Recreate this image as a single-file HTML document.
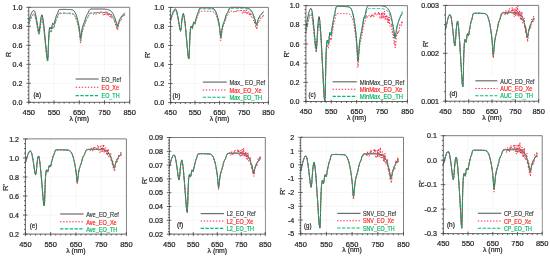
<!DOCTYPE html>
<html><head><meta charset="utf-8"><style>
html,body{margin:0;padding:0;background:#fff;}
body{width:550px;height:258px;overflow:hidden;}
svg{display:block;}
text{font-family:"Liberation Sans", Arial, sans-serif;}
</style></head><body>
<svg width="550" height="258" viewBox="0 0 550 258">
<rect width="550" height="258" fill="#fff"/>
<path d="M54.02 7.30V102.30M79.25 7.30V102.30M104.47 7.30V102.30M28.80 83.30H129.70M28.80 64.30H129.70M28.80 45.30H129.70M28.80 26.30H129.70" stroke="#f0f0f0" stroke-width="0.6" fill="none"/>
<polyline points="28.8,20.7 29.1,20.0 29.3,19.3 29.6,18.6 29.8,17.9 30.1,17.1 30.3,16.3 30.6,15.6 30.8,14.9 31.1,14.2 31.3,13.6 31.6,13.1 31.8,12.5 32.1,12.1 32.3,11.6 32.6,11.3 32.8,11.0 33.1,10.8 33.3,10.6 33.6,10.6 33.8,10.5 34.1,10.6 34.3,10.9 34.6,11.3 34.9,11.9 35.1,12.7 35.4,13.6 35.6,14.6 35.9,15.8 36.1,17.1 36.4,18.4 36.6,19.8 36.9,21.2 37.1,22.7 37.4,24.2 37.6,25.7 37.9,27.3 38.1,28.8 38.4,30.0 38.6,31.0 38.9,31.7 39.1,31.6 39.4,30.4 39.6,28.8 39.9,26.6 40.2,24.0 40.4,21.7 40.7,19.8 40.9,18.1 41.2,16.9 41.4,15.9 41.7,15.1 41.9,14.8 42.2,15.3 42.4,16.1 42.7,17.2 42.9,18.6 43.2,20.1 43.4,21.9 43.7,24.0 43.9,26.2 44.2,28.6 44.4,31.2 44.7,33.8 44.9,36.4 45.2,39.0 45.4,41.6 45.7,44.3 46.0,47.2 46.2,50.0 46.5,52.6 46.7,54.9 47.0,57.0 47.2,58.3 47.5,59.3 47.7,59.5 48.0,56.1 48.2,50.6 48.5,42.9 48.7,37.2 49.0,33.1 49.2,30.3 49.5,28.8 49.7,27.7 50.0,27.2 50.2,27.5 50.5,28.1 50.7,28.7 51.0,29.2 51.3,29.1 51.5,28.2 51.8,26.9 52.0,25.7 52.3,24.7 52.5,23.6 52.8,23.2 53.0,23.4 53.3,23.9 53.5,24.5 53.8,24.7 54.0,24.3 54.3,23.4 54.5,22.2 54.8,21.2 55.0,20.3 55.3,19.4 55.5,18.5 55.8,17.6 56.0,16.8 56.3,16.0 56.5,15.2 56.8,14.6 57.1,14.1 57.3,13.8 57.6,13.3 57.8,12.6 58.1,11.7 58.3,10.9 58.6,10.3 58.8,9.9 59.1,9.7 59.3,9.6 59.6,9.5 59.8,9.5 60.1,9.5 60.3,9.5 60.6,9.5 60.8,9.5 61.1,9.5 61.3,9.4 61.6,9.4 61.8,9.4 62.1,9.4 62.3,9.4 62.6,9.4 62.9,9.4 63.1,9.4 63.4,9.4 63.6,9.4 63.9,9.4 64.1,9.4 64.4,9.4 64.6,9.4 64.9,9.4 65.1,9.4 65.4,9.4 65.6,9.4 65.9,9.4 66.1,9.5 66.4,9.5 66.6,9.5 66.9,9.5 67.1,9.5 67.4,9.5 67.6,9.5 67.9,9.5 68.2,9.5 68.4,9.5 68.7,9.5 68.9,9.5 69.2,9.5 69.4,9.6 69.7,9.6 69.9,9.6 70.2,9.6 70.4,9.6 70.7,9.6 70.9,9.6 71.2,9.6 71.4,9.7 71.7,9.7 71.9,9.8 72.2,9.9 72.4,9.9 72.7,10.0 72.9,10.1 73.2,10.3 73.4,10.5 73.7,10.7 74.0,10.9 74.2,11.2 74.5,11.5 74.7,11.9 75.0,12.4 75.2,12.8 75.5,13.3 75.7,13.9 76.0,14.5 76.2,15.1 76.5,15.8 76.7,16.6 77.0,17.4 77.2,18.3 77.5,19.3 77.7,20.2 78.0,21.3 78.2,22.5 78.5,23.7 78.7,25.0 79.0,26.4 79.2,27.9 79.5,29.9 79.8,32.2 80.0,34.3 80.3,36.5 80.5,38.2 80.8,38.0 81.0,36.3 81.3,34.3 81.5,32.7 81.8,31.0 82.0,29.4 82.3,28.2 82.5,27.2 82.8,26.3 83.0,25.5 83.3,24.7 83.5,24.1 83.8,23.4 84.0,22.8 84.3,22.1 84.5,21.4 84.8,20.7 85.1,19.9 85.3,19.1 85.6,18.3 85.8,17.5 86.1,16.7 86.3,16.0 86.6,15.4 86.8,15.0 87.1,14.7 87.3,14.3 87.6,14.0 87.8,13.6 88.1,13.1 88.3,12.4 88.6,11.7 88.8,11.0 89.1,10.5 89.3,10.2 89.6,9.8 89.8,9.6 90.1,9.5 90.3,9.4 90.6,9.3 90.9,9.2 91.1,9.1 91.4,9.1 91.6,9.0 91.9,9.0 92.1,9.0 92.4,9.0 92.6,9.0 92.9,9.0 93.1,9.0 93.4,9.0 93.6,9.0 93.9,9.0 94.1,9.0 94.4,9.0 94.6,9.0 94.9,9.0 95.1,9.0 95.4,9.0 95.6,9.0 95.9,9.0 96.2,9.0 96.4,9.0 96.7,9.0 96.9,9.0 97.2,9.0 97.4,9.0 97.7,9.0 97.9,9.0 98.2,9.0 98.4,9.0 98.7,9.0 98.9,9.0 99.2,9.0 99.4,9.0 99.7,9.0 99.9,9.0 100.2,9.0 100.4,9.0 100.7,9.0 100.9,9.0 101.2,9.0 101.4,9.0 101.7,9.0 102.0,9.0 102.2,9.0 102.5,9.0 102.7,9.0 103.0,9.0 103.2,9.0 103.5,9.1 103.7,9.1 104.0,9.1 104.2,9.1 104.5,9.1 104.7,9.1 105.0,9.2 105.2,9.2 105.5,9.2 105.7,9.3 106.0,9.3 106.2,9.3 106.5,9.4 106.7,9.4 107.0,9.4 107.2,9.5 107.5,9.5 107.8,9.6 108.0,9.6 108.3,9.7 108.5,9.8 108.8,9.9 109.0,10.0 109.3,10.1 109.5,10.2 109.8,10.4 110.0,10.5 110.3,10.6 110.5,10.8 110.8,11.0 111.0,11.2 111.3,11.4 111.5,11.6 111.8,11.9 112.0,12.2 112.3,12.6 112.5,12.9 112.8,13.3 113.1,13.8 113.3,14.3 113.6,14.8 113.8,15.4 114.1,16.0 114.3,16.6 114.6,17.3 114.8,17.9 115.1,18.6 115.3,19.3 115.6,20.0 115.8,20.7 116.1,21.6 116.3,22.6 116.6,23.4 116.8,24.4 117.1,25.3 117.3,25.9 117.6,25.9 117.8,25.2 118.1,24.3 118.3,23.3 118.6,22.6 118.9,21.8 119.1,21.0 119.4,20.3 119.6,19.6 119.9,19.1 120.1,18.6 120.4,18.2 120.6,17.7 120.9,17.3 121.1,17.0 121.4,16.6 121.6,16.3 121.9,16.0 122.1,15.7 122.4,15.4 122.6,15.1 122.9,14.8 123.1,14.6 123.4,14.3 123.6,14.0 123.9,13.7 124.2,13.5 124.4,13.2 124.7,12.9" fill="none" stroke="#262626" stroke-width="0.85"/>
<polyline points="28.8,24.3 29.1,23.7 29.3,23.1 29.6,22.4 29.8,21.7 30.1,20.9 30.3,20.2 30.6,19.5 30.8,18.8 31.1,18.2 31.3,17.6 31.6,17.1 31.8,16.6 32.1,16.1 32.3,15.7 32.6,15.4 32.8,15.1 33.1,14.9 33.3,14.8 33.6,14.7 33.8,14.7 34.1,14.7 34.3,15.0 34.6,15.4 34.9,15.9 35.1,16.7 35.4,17.6 35.6,18.6 35.9,19.7 36.1,20.9 36.4,22.2 36.6,23.5 36.9,24.8 37.1,26.2 37.4,27.7 37.6,29.2 37.9,30.7 38.1,32.1 38.4,33.3 38.6,34.2 38.9,34.9 39.1,34.8 39.4,33.6 39.6,32.1 39.9,30.0 40.2,27.5 40.4,25.3 40.7,23.5 40.9,21.9 41.2,20.7 41.4,19.8 41.7,19.1 41.9,18.8 42.2,19.2 42.4,20.0 42.7,21.0 42.9,22.3 43.2,23.8 43.4,25.6 43.7,27.5 43.9,29.6 44.2,31.9 44.4,34.4 44.7,36.9 44.9,39.4 45.2,41.8 45.4,44.3 45.7,46.9 46.0,49.7 46.2,52.4 46.5,54.8 46.7,57.0 47.0,59.0 47.2,60.3 47.5,61.3 47.7,61.4 48.0,58.2 48.2,52.9 48.5,45.6 48.7,40.1 49.0,36.2 49.2,33.5 49.5,32.1 49.7,31.0 50.0,30.6 50.2,30.9 50.5,31.4 50.7,32.0 51.0,32.5 51.3,32.4 51.5,31.5 51.8,30.3 52.0,29.2 52.3,28.1 52.5,27.2 52.8,26.7 53.0,27.0 53.3,27.5 53.5,28.0 53.8,28.2 54.0,27.8 54.3,26.9 54.5,25.8 54.8,24.8 55.0,24.0 55.3,23.1 55.5,22.2 55.8,21.4 56.0,20.6 56.3,19.8 56.5,19.1 56.8,18.5 57.1,18.1 57.3,17.8 57.6,17.3 57.8,16.6 58.1,15.7 58.3,15.1 58.6,14.4 58.8,14.0 59.1,13.9 59.3,13.7 59.6,13.7 59.8,13.7 60.1,13.7 60.3,13.7 60.6,13.6 60.8,13.6 61.1,13.6 61.3,13.6 61.6,13.6 61.8,13.6 62.1,13.6 62.3,13.6 62.6,13.6 62.9,13.6 63.1,13.6 63.4,13.6 63.6,13.6 63.9,13.6 64.1,13.6 64.4,13.6 64.6,13.6 64.9,13.6 65.1,13.6 65.4,13.6 65.6,13.6 65.9,13.6 66.1,13.6 66.4,13.6 66.6,13.7 66.9,13.7 67.1,13.7 67.4,13.7 67.6,13.7 67.9,13.7 68.2,13.7 68.4,13.7 68.7,13.7 68.9,13.7 69.2,13.7 69.4,13.7 69.7,13.7 69.9,13.7 70.2,13.8 70.4,13.8 70.7,13.8 70.9,13.8 71.2,13.8 71.4,13.8 71.7,13.9 71.9,13.9 72.2,14.0 72.4,14.1 72.7,14.2 72.9,14.3 73.2,14.4 73.4,14.6 73.7,14.8 74.0,15.0 74.2,15.3 74.5,15.6 74.7,16.0 75.0,16.4 75.2,16.8 75.5,17.3 75.7,17.8 76.0,18.4 76.2,19.1 76.5,19.7 76.7,20.5 77.0,21.2 77.2,22.1 77.5,23.0 77.7,23.9 78.0,25.0 78.2,26.1 78.5,27.2 78.7,28.5 79.0,29.8 79.2,31.3 79.5,33.1 79.8,35.5 80.0,37.9 80.3,40.7 80.5,43.0 80.8,42.8 81.0,40.5 81.3,37.9 81.5,36.0 81.8,34.2 82.0,32.7 82.3,31.5 82.5,30.5 82.8,29.7 83.0,28.9 83.3,28.2 83.5,27.6 83.8,27.0 84.0,26.4 84.3,25.8 84.5,25.1 84.8,24.3 85.1,23.6 85.3,22.9 85.6,22.1 85.8,21.3 86.1,20.5 86.3,19.9 86.6,19.4 86.8,19.0 87.1,18.6 87.3,18.3 87.6,18.0 87.8,17.6 88.1,17.1 88.3,16.5 88.6,15.8 88.8,15.1 89.1,14.7 89.3,14.7 89.8,14.4 90.3,13.8 90.9,13.2 91.4,13.4 91.9,13.2 92.4,13.2 92.9,13.3 93.4,14.4 93.9,14.0 94.4,12.6 94.9,13.7 95.4,13.1 95.9,14.3 96.4,13.9 96.9,12.4 97.4,13.0 97.9,11.9 98.4,12.8 98.9,13.2 99.4,13.4 99.9,13.3 100.4,12.5 100.9,11.6 101.4,13.0 102.0,11.9 102.5,14.7 103.0,15.0 103.5,15.0 104.0,12.1 104.5,14.8 105.0,12.7 105.5,11.7 106.0,14.8 106.5,14.0 107.0,11.3 107.5,15.3 108.0,13.7 108.5,15.4 109.0,13.1 109.5,14.1 110.0,16.9 110.5,14.3 111.0,17.3 111.5,14.3 112.0,18.2 112.5,19.1 113.1,18.9 113.6,19.1 114.1,18.4 114.6,22.8 115.1,21.8 115.6,25.3 116.1,23.8 116.6,28.3 117.1,27.2 117.6,30.3 118.1,28.6 118.6,24.9 119.1,22.8 119.6,22.4 120.1,20.2 120.6,20.8 121.1,20.1 121.6,18.5 122.1,16.2 122.6,16.6 123.1,16.6 123.6,16.5 124.2,14.1 124.7,15.6" fill="none" stroke="#ff2448" stroke-width="1.0" stroke-dasharray="1.5 1.5"/>
<polyline points="28.8,23.8 29.1,23.1 29.3,22.5 29.6,21.8 29.8,21.1 30.1,20.3 30.3,19.6 30.6,18.9 30.8,18.2 31.1,17.6 31.3,17.0 31.6,16.5 31.8,16.0 32.1,15.5 32.3,15.1 32.6,14.7 32.8,14.5 33.1,14.2 33.3,14.1 33.6,14.1 33.8,14.0 34.1,14.1 34.3,14.3 34.6,14.7 34.9,15.3 35.1,16.1 35.4,16.9 35.6,17.9 35.9,19.1 36.1,20.3 36.4,21.6 36.6,22.9 36.9,24.2 37.1,25.7 37.4,27.2 37.6,28.6 37.9,30.1 38.1,31.6 38.4,32.8 38.6,33.7 38.9,34.4 39.1,34.3 39.4,33.1 39.6,31.6 39.9,29.5 40.2,27.0 40.4,24.7 40.7,22.9 40.9,21.3 41.2,20.1 41.4,19.2 41.7,18.5 41.9,18.2 42.2,18.6 42.4,19.4 42.7,20.4 42.9,21.7 43.2,23.3 43.4,25.0 43.7,27.0 43.9,29.1 44.2,31.4 44.4,33.9 44.7,36.4 44.9,38.9 45.2,41.4 45.4,43.9 45.7,46.5 46.0,49.3 46.2,52.0 46.5,54.4 46.7,56.7 47.0,58.7 47.2,60.0 47.5,60.9 47.7,61.1 48.0,57.8 48.2,52.5 48.5,45.2 48.7,39.7 49.0,35.7 49.2,33.0 49.5,31.6 49.7,30.5 50.0,30.1 50.2,30.3 50.5,30.9 50.7,31.5 51.0,32.0 51.3,31.9 51.5,31.0 51.8,29.8 52.0,28.6 52.3,27.6 52.5,26.6 52.8,26.2 53.0,26.4 53.3,26.9 53.5,27.4 53.8,27.7 54.0,27.3 54.3,26.4 54.5,25.3 54.8,24.2 55.0,23.4 55.3,22.5 55.5,21.7 55.8,20.8 56.0,20.0 56.3,19.2 56.5,18.5 56.8,17.9 57.1,17.5 57.3,17.1 57.6,16.7 57.8,16.0 58.1,15.1 58.3,14.4 58.6,13.8 58.8,13.4 59.1,13.2 59.3,13.1 59.6,13.0 59.8,13.0 60.1,13.0 60.3,13.0 60.6,13.0 60.8,13.0 61.1,13.0 61.3,13.0 61.6,13.0 61.8,13.0 62.1,13.0 62.3,13.0 62.6,13.0 62.9,12.9 63.1,12.9 63.4,12.9 63.6,12.9 63.9,12.9 64.1,12.9 64.4,12.9 64.6,12.9 64.9,13.0 65.1,13.0 65.4,13.0 65.6,13.0 65.9,13.0 66.1,13.0 66.4,13.0 66.6,13.0 66.9,13.0 67.1,13.0 67.4,13.0 67.6,13.0 67.9,13.0 68.2,13.0 68.4,13.1 68.7,13.1 68.9,13.1 69.2,13.1 69.4,13.1 69.7,13.1 69.9,13.1 70.2,13.1 70.4,13.1 70.7,13.1 70.9,13.1 71.2,13.2 71.4,13.2 71.7,13.2 71.9,13.3 72.2,13.4 72.4,13.4 72.7,13.5 72.9,13.6 73.2,13.8 73.4,14.0 73.7,14.2 74.0,14.4 74.2,14.7 74.5,15.0 74.7,15.4 75.0,15.8 75.2,16.2 75.5,16.7 75.7,17.2 76.0,17.8 76.2,18.5 76.5,19.1 76.7,19.9 77.0,20.7 77.2,21.5 77.5,22.4 77.7,23.4 78.0,24.4 78.2,25.5 78.5,26.7 78.7,27.9 79.0,29.2 79.2,30.7 79.5,32.6 79.8,34.8 80.0,36.9 80.3,39.0 80.5,40.6 80.8,40.4 81.0,38.8 81.3,36.9 81.5,35.3 81.8,33.7 82.0,32.2 82.3,31.0 82.5,30.0 82.8,29.2 83.0,28.4 83.3,27.7 83.5,27.0 83.8,26.4 84.0,25.8 84.3,25.2 84.5,24.5 84.8,23.8 85.1,23.0 85.3,22.3 85.6,21.5 85.8,20.7 86.1,19.9 86.3,19.2 86.6,18.7 86.8,18.3 87.1,18.0 87.3,17.7 87.6,17.3 87.8,17.0 88.1,16.5 88.3,15.9 88.6,15.2 88.8,14.5 89.1,14.0 89.3,13.7 89.6,13.4 89.8,13.1 90.1,13.0 90.3,12.9 90.6,12.8 90.9,12.7 91.1,12.6 91.4,12.6 91.6,12.6 91.9,12.6 92.1,12.6 92.4,12.6 92.6,12.6 92.9,12.6 93.1,12.6 93.4,12.6 93.6,12.6 93.9,12.6 94.1,12.6 94.4,12.6 94.6,12.6 94.9,12.6 95.1,12.6 95.4,12.6 95.6,12.6 95.9,12.6 96.2,12.6 96.4,12.6 96.7,12.6 96.9,12.6 97.2,12.6 97.4,12.6 97.7,12.6 97.9,12.6 98.2,12.6 98.4,12.6 98.7,12.6 98.9,12.6 99.2,12.6 99.4,12.6 99.7,12.6 99.9,12.6 100.2,12.6 100.4,12.6 100.7,12.6 100.9,12.6 101.2,12.6 101.4,12.6 101.7,12.6 102.0,12.6 102.2,12.6 102.5,12.6 102.7,12.6 103.0,12.6 103.2,12.6 103.5,12.6 103.7,12.6 104.0,12.6 104.2,12.6 104.5,12.7 104.7,12.7 105.0,12.7 105.2,12.7 105.5,12.8 105.7,12.8 106.0,12.8 106.2,12.9 106.5,12.9 106.7,12.9 107.0,13.0 107.2,13.0 107.5,13.0 107.8,13.1 108.0,13.1 108.3,13.2 108.5,13.3 108.8,13.4 109.0,13.5 109.3,13.6 109.5,13.7 109.8,13.9 110.0,14.0 110.3,14.1 110.5,14.3 110.8,14.4 111.0,14.6 111.3,14.8 111.5,15.1 111.8,15.4 112.0,15.6 112.3,16.0 112.5,16.3 112.8,16.7 113.1,17.2 113.3,17.7 113.6,18.2 113.8,18.7 114.1,19.3 114.3,19.9 114.6,20.5 114.8,21.1 115.1,21.6 115.3,22.1 115.6,22.7 115.8,23.4 116.1,24.1 116.3,25.0 116.6,25.7 116.8,26.5 117.1,27.3 117.3,27.8 117.6,27.8 117.8,27.0 118.1,26.0 118.3,25.0 118.6,24.2 118.9,23.3 119.1,22.5 119.4,21.6 119.6,20.9 119.9,20.3 120.1,19.7 120.4,19.2 120.6,18.7 120.9,18.2 121.1,17.8 121.4,17.5 121.6,17.2 121.9,16.9 122.1,16.6 122.4,16.3 122.6,16.0 122.9,15.7 123.1,15.4 123.4,15.2 123.6,14.9 123.9,14.6 124.2,14.4 124.4,14.1 124.7,13.8" fill="none" stroke="#00bd6e" stroke-width="1.0" stroke-dasharray="3.2 1.6"/>
<path d="M28.80 7.30H129.70V102.30" stroke="#6e6e6e" stroke-width="0.9" fill="none"/>
<path d="M28.80 7.30V102.30H129.70M28.80 100.30V104.30M54.02 100.30V104.30M79.25 100.30V104.30M104.47 100.30V104.30M129.70 100.30V104.30M33.84 102.30V103.70M38.89 102.30V103.70M43.94 102.30V103.70M48.98 102.30V103.70M59.07 102.30V103.70M64.11 102.30V103.70M69.16 102.30V103.70M74.20 102.30V103.70M84.30 102.30V103.70M89.34 102.30V103.70M94.38 102.30V103.70M99.43 102.30V103.70M109.52 102.30V103.70M114.56 102.30V103.70M119.61 102.30V103.70M124.65 102.30V103.70M26.30 102.30H30.80M26.30 83.30H30.80M26.30 64.30H30.80M26.30 45.30H30.80M26.30 26.30H30.80M26.30 7.30H30.80M27.40 98.50H28.80M27.40 94.70H28.80M27.40 90.90H28.80M27.40 87.10H28.80M27.40 79.50H28.80M27.40 75.70H28.80M27.40 71.90H28.80M27.40 68.10H28.80M27.40 60.50H28.80M27.40 56.70H28.80M27.40 52.90H28.80M27.40 49.10H28.80M27.40 41.50H28.80M27.40 37.70H28.80M27.40 33.90H28.80M27.40 30.10H28.80M27.40 22.50H28.80M27.40 18.70H28.80M27.40 14.90H28.80M27.40 11.10H28.80" stroke="#3c3c3c" stroke-width="0.8" fill="none"/>
<text x="22.40" y="104.94" font-size="7.1" fill="#262626" stroke="#262626" stroke-width="0.22" text-anchor="end" textLength="9.87" lengthAdjust="spacingAndGlyphs">0.0</text>
<text x="22.40" y="85.94" font-size="7.1" fill="#262626" stroke="#262626" stroke-width="0.22" text-anchor="end" textLength="9.87" lengthAdjust="spacingAndGlyphs">0.2</text>
<text x="22.40" y="66.94" font-size="7.1" fill="#262626" stroke="#262626" stroke-width="0.22" text-anchor="end" textLength="9.87" lengthAdjust="spacingAndGlyphs">0.4</text>
<text x="22.40" y="47.94" font-size="7.1" fill="#262626" stroke="#262626" stroke-width="0.22" text-anchor="end" textLength="9.87" lengthAdjust="spacingAndGlyphs">0.6</text>
<text x="22.40" y="28.94" font-size="7.1" fill="#262626" stroke="#262626" stroke-width="0.22" text-anchor="end" textLength="9.87" lengthAdjust="spacingAndGlyphs">0.8</text>
<text x="22.40" y="9.94" font-size="7.1" fill="#262626" stroke="#262626" stroke-width="0.22" text-anchor="end" textLength="9.87" lengthAdjust="spacingAndGlyphs">1.0</text>
<text x="28.80" y="115.04" font-size="7.1" fill="#262626" stroke="#262626" stroke-width="0.22" text-anchor="middle" textLength="12.47" lengthAdjust="spacingAndGlyphs">450</text>
<text x="54.02" y="115.04" font-size="7.1" fill="#262626" stroke="#262626" stroke-width="0.22" text-anchor="middle" textLength="12.47" lengthAdjust="spacingAndGlyphs">550</text>
<text x="79.25" y="115.04" font-size="7.1" fill="#262626" stroke="#262626" stroke-width="0.22" text-anchor="middle" textLength="12.47" lengthAdjust="spacingAndGlyphs">650</text>
<text x="104.47" y="115.04" font-size="7.1" fill="#262626" stroke="#262626" stroke-width="0.22" text-anchor="middle" textLength="12.47" lengthAdjust="spacingAndGlyphs">750</text>
<text x="129.70" y="115.04" font-size="7.1" fill="#262626" stroke="#262626" stroke-width="0.22" text-anchor="middle" textLength="12.47" lengthAdjust="spacingAndGlyphs">850</text>
<text x="79.25" y="120.75" font-size="7.1" fill="#262626" stroke="#262626" stroke-width="0.22" text-anchor="middle" textLength="19.50" lengthAdjust="spacingAndGlyphs">λ (nm)</text>
<text x="0" y="0" font-size="7.1" fill="#262626" stroke="#262626" stroke-width="0.22" text-anchor="middle" transform="translate(10.94,54.50) rotate(-90)">R</text>
<text x="33.40" y="96.85" font-size="7.1" fill="#262626" stroke="#262626" stroke-width="0.22" text-anchor="start" textLength="7.59" lengthAdjust="spacingAndGlyphs">(a)</text>
<rect x="74.10" y="75.00" width="55.00" height="24.10" fill="#fff"/>
<path d="M75.60 79.00H98.60" stroke="#6c6c6c" stroke-width="1.2" fill="none"/>
<text x="101.60" y="81.77" font-size="6.3" fill="#383838" stroke="#383838" stroke-width="0.18" text-anchor="start" textLength="19.46" lengthAdjust="spacingAndGlyphs">EO<tspan dy="-0.7">_</tspan><tspan dy="0.7">Ref</tspan></text>
<path d="M75.60 87.30H98.60" stroke="#ff2448" stroke-width="1.05" stroke-dasharray="1.4 1.65" fill="none"/>
<text x="101.60" y="90.07" font-size="6.3" fill="#ff2020" stroke="#ff2020" stroke-width="0.18" text-anchor="start" textLength="17.32" lengthAdjust="spacingAndGlyphs">EO<tspan dy="-0.7">_</tspan><tspan dy="0.7">Xe</tspan></text>
<path d="M75.60 95.60H98.60" stroke="#00bd6e" stroke-width="1.15" stroke-dasharray="3.3 1.5" fill="none"/>
<text x="101.60" y="98.37" font-size="6.3" fill="#00b860" stroke="#00b860" stroke-width="0.18" text-anchor="start" textLength="17.93" lengthAdjust="spacingAndGlyphs">EO<tspan dy="-0.7">_</tspan><tspan dy="0.7">TH</tspan></text>
<path d="M195.05 7.40V102.60M219.50 7.40V102.60M243.95 7.40V102.60M170.60 83.56H268.40M170.60 64.52H268.40M170.60 45.48H268.40M170.60 26.44H268.40" stroke="#f0f0f0" stroke-width="0.6" fill="none"/>
<polyline points="170.6,19.3 170.8,18.6 171.1,17.9 171.3,17.2 171.6,16.5 171.8,15.7 172.1,14.9 172.3,14.1 172.6,13.4 172.8,12.7 173.0,12.1 173.3,11.5 173.5,11.0 173.8,10.5 174.0,10.1 174.3,9.7 174.5,9.4 174.8,9.2 175.0,9.1 175.2,9.0 175.5,9.0 175.7,9.0 176.0,9.3 176.2,9.7 176.5,10.3 176.7,11.1 177.0,12.1 177.2,13.1 177.4,14.4 177.7,15.7 177.9,17.0 178.2,18.4 178.4,19.8 178.7,21.3 178.9,22.9 179.2,24.5 179.4,26.1 179.6,27.6 179.9,28.9 180.1,29.8 180.4,30.6 180.6,30.5 180.9,29.2 181.1,27.6 181.4,25.4 181.6,22.7 181.8,20.3 182.1,18.4 182.3,16.7 182.6,15.4 182.8,14.4 183.1,13.7 183.3,13.3 183.6,13.8 183.8,14.6 184.0,15.7 184.3,17.2 184.5,18.8 184.8,20.6 185.0,22.7 185.3,25.0 185.5,27.4 185.8,30.1 186.0,32.7 186.2,35.4 186.5,38.0 186.7,40.7 187.0,43.4 187.2,46.4 187.5,49.3 187.7,51.9 188.0,54.2 188.2,56.4 188.4,57.8 188.7,58.8 188.9,59.0 189.2,55.5 189.4,49.8 189.7,42.0 189.9,36.2 190.2,32.0 190.4,29.1 190.6,27.6 190.9,26.4 191.1,26.0 191.4,26.3 191.6,26.9 191.9,27.5 192.1,28.0 192.4,27.9 192.6,27.0 192.8,25.7 193.1,24.5 193.3,23.4 193.6,22.3 193.8,21.9 194.1,22.1 194.3,22.6 194.6,23.2 194.8,23.4 195.0,23.0 195.3,22.1 195.5,20.9 195.8,19.8 196.0,18.9 196.3,18.0 196.5,17.1 196.8,16.2 197.0,15.3 197.3,14.5 197.5,13.7 197.7,13.1 198.0,12.6 198.2,12.3 198.5,11.8 198.7,11.0 199.0,10.1 199.2,9.4 199.5,8.7 199.7,8.3 199.9,8.1 200.2,8.0 200.4,7.9 200.7,7.9 200.9,7.9 201.2,7.9 201.4,7.9 201.7,7.9 201.9,7.9 202.1,7.8 202.4,7.8 202.6,7.8 202.9,7.8 203.1,7.8 203.4,7.8 203.6,7.8 203.9,7.8 204.1,7.8 204.3,7.8 204.6,7.8 204.8,7.8 205.1,7.8 205.3,7.8 205.6,7.8 205.8,7.8 206.1,7.8 206.3,7.8 206.5,7.8 206.8,7.9 207.0,7.9 207.3,7.9 207.5,7.9 207.8,7.9 208.0,7.9 208.3,7.9 208.5,7.9 208.7,7.9 209.0,7.9 209.2,7.9 209.5,7.9 209.7,7.9 210.0,8.0 210.2,8.0 210.5,8.0 210.7,8.0 210.9,8.0 211.2,8.0 211.4,8.0 211.7,8.0 211.9,8.1 212.2,8.1 212.4,8.2 212.7,8.3 212.9,8.3 213.1,8.4 213.4,8.5 213.6,8.7 213.9,8.9 214.1,9.1 214.4,9.4 214.6,9.6 214.9,10.0 215.1,10.4 215.3,10.8 215.6,11.3 215.8,11.8 216.1,12.4 216.3,13.0 216.6,13.7 216.8,14.4 217.1,15.1 217.3,16.0 217.5,16.9 217.8,17.9 218.0,18.9 218.3,20.0 218.5,21.1 218.8,22.4 219.0,23.7 219.3,25.1 219.5,26.7 219.7,28.7 220.0,31.0 220.2,33.2 220.5,35.5 220.7,37.2 221.0,37.0 221.2,35.2 221.5,33.2 221.7,31.6 221.9,29.8 222.2,28.2 222.4,27.0 222.7,25.9 222.9,25.0 223.2,24.2 223.4,23.4 223.7,22.8 223.9,22.1 224.1,21.5 224.4,20.8 224.6,20.1 224.9,19.3 225.1,18.5 225.4,17.7 225.6,16.9 225.9,16.0 226.1,15.2 226.3,14.5 226.6,14.0 226.8,13.5 227.1,13.2 227.3,12.8 227.6,12.5 227.8,12.1 228.1,11.6 228.3,10.9 228.5,10.2 228.8,9.5 229.0,9.0 229.3,8.6 229.5,8.3 229.8,8.0 230.0,7.9 230.3,7.8 230.5,7.7 230.7,7.6 231.0,7.5 231.2,7.4 231.5,7.4 231.7,7.4 232.0,7.4 232.2,7.4 232.5,7.4 232.7,7.4 232.9,7.4 233.2,7.4 233.4,7.4 233.7,7.4 233.9,7.4 234.2,7.4 234.4,7.4 234.7,7.4 234.9,7.4 235.1,7.4 235.4,7.4 235.6,7.4 235.9,7.4 236.1,7.4 236.4,7.4 236.6,7.4 236.9,7.4 237.1,7.4 237.3,7.4 237.6,7.4 237.8,7.4 238.1,7.4 238.3,7.4 238.6,7.4 238.8,7.4 239.1,7.4 239.3,7.4 239.5,7.4 239.8,7.4 240.0,7.4 240.3,7.4 240.5,7.4 240.8,7.4 241.0,7.4 241.3,7.4 241.5,7.4 241.7,7.4 242.0,7.4 242.2,7.4 242.5,7.4 242.7,7.4 243.0,7.4 243.2,7.5 243.5,7.5 243.7,7.5 243.9,7.5 244.2,7.5 244.4,7.6 244.7,7.6 244.9,7.6 245.2,7.6 245.4,7.7 245.7,7.7 245.9,7.8 246.2,7.8 246.4,7.8 246.6,7.9 246.9,7.9 247.1,8.0 247.4,8.0 247.6,8.1 247.9,8.2 248.1,8.3 248.4,8.4 248.6,8.5 248.8,8.7 249.1,8.8 249.3,8.9 249.6,9.1 249.8,9.2 250.1,9.4 250.3,9.6 250.6,9.8 250.8,10.1 251.0,10.4 251.3,10.7 251.5,11.0 251.8,11.4 252.0,11.8 252.3,12.3 252.5,12.8 252.8,13.3 253.0,13.9 253.2,14.5 253.5,15.2 253.7,15.9 254.0,16.5 254.2,17.2 254.5,17.9 254.7,18.6 255.0,19.4 255.2,20.3 255.4,21.2 255.7,22.1 255.9,23.1 256.2,24.0 256.4,24.6 256.7,24.6 256.9,24.0 257.2,23.0 257.4,22.0 257.6,21.2 257.9,20.4 258.1,19.6 258.4,18.9 258.6,18.3 258.9,17.7 259.1,17.2 259.4,16.7 259.6,16.3 259.8,15.9 260.1,15.5 260.3,15.2 260.6,14.9 260.8,14.5 261.1,14.2 261.3,13.9 261.6,13.6 261.8,13.3 262.0,13.1 262.3,12.8 262.5,12.5 262.8,12.2 263.0,12.0 263.3,11.7 263.5,11.4" fill="none" stroke="#262626" stroke-width="0.85"/>
<polyline points="170.6,20.6 170.8,20.0 171.1,19.3 171.3,18.6 171.6,17.9 171.8,17.1 172.1,16.3 172.3,15.6 172.6,14.9 172.8,14.3 173.0,13.7 173.3,13.1 173.5,12.6 173.8,12.1 174.0,11.7 174.3,11.4 174.5,11.1 174.8,10.8 175.0,10.7 175.2,10.7 175.5,10.6 175.7,10.7 176.0,10.9 176.2,11.4 176.5,11.9 176.7,12.7 177.0,13.6 177.2,14.6 177.4,15.9 177.7,17.1 177.9,18.4 178.2,19.7 178.4,21.1 178.7,22.6 178.9,24.1 179.2,25.6 179.4,27.1 179.6,28.7 179.9,29.9 180.1,30.8 180.4,31.5 180.6,31.4 180.9,30.2 181.1,28.6 181.4,26.5 181.6,23.9 181.8,21.6 182.1,19.7 182.3,18.1 182.6,16.9 182.8,15.9 183.1,15.2 183.3,14.9 183.6,15.3 183.8,16.1 184.0,17.2 184.3,18.5 184.5,20.1 184.8,21.9 185.0,23.9 185.3,26.1 185.5,28.5 185.8,31.0 186.0,33.6 186.2,36.1 186.5,38.7 186.7,41.3 187.0,44.0 187.2,46.8 187.5,49.6 187.7,52.1 188.0,54.4 188.2,56.4 188.4,57.8 188.7,58.8 188.9,59.0 189.2,55.6 189.4,50.1 189.7,42.6 189.9,36.9 190.2,32.9 190.4,30.1 190.6,28.6 190.9,27.5 191.1,27.1 191.4,27.4 191.6,27.9 191.9,28.6 192.1,29.0 192.4,29.0 192.6,28.1 192.8,26.8 193.1,25.6 193.3,24.6 193.6,23.6 193.8,23.1 194.1,23.4 194.3,24.0 194.6,24.6 194.8,24.8 195.0,24.5 195.3,23.7 195.5,22.6 195.8,21.6 196.0,20.8 196.3,20.0 196.5,19.2 196.8,18.5 197.0,17.7 197.3,17.0 197.5,16.4 197.7,15.8 198.0,15.5 198.2,15.2 198.5,14.9 198.7,14.2 199.0,13.4 199.2,12.7 199.5,12.0 199.7,11.6 199.9,11.5 200.2,11.4 200.4,11.3 200.7,11.3 200.9,11.3 201.2,11.3 201.4,11.3 201.7,11.3 201.9,11.2 202.1,11.2 202.4,11.2 202.6,11.2 202.9,11.2 203.1,11.2 203.4,11.2 203.6,11.2 203.9,11.2 204.1,11.2 204.3,11.2 204.6,11.2 204.8,11.2 205.1,11.2 205.3,11.2 205.6,11.2 205.8,11.2 206.1,11.2 206.3,11.2 206.5,11.2 206.8,11.3 207.0,11.3 207.3,11.3 207.5,11.3 207.8,11.3 208.0,11.3 208.3,11.3 208.5,11.3 208.7,11.3 209.0,11.3 209.2,11.3 209.5,11.3 209.7,11.3 210.0,11.3 210.2,11.4 210.5,11.4 210.7,11.4 210.9,11.4 211.2,11.4 211.4,11.4 211.7,11.4 211.9,11.5 212.2,11.5 212.4,11.6 212.7,11.6 212.9,11.7 213.1,11.8 213.4,11.9 213.6,12.0 213.9,12.2 214.1,12.4 214.4,12.7 214.6,12.9 214.9,13.2 215.1,13.6 215.3,14.0 215.6,14.4 215.8,14.9 216.1,15.5 216.3,16.0 216.6,16.7 216.8,17.3 217.1,18.1 217.3,18.8 217.5,19.7 217.8,20.6 218.0,21.5 218.3,22.6 218.5,23.7 218.8,24.8 219.0,26.0 219.3,27.4 219.5,28.8 219.7,30.7 220.0,33.1 220.2,35.5 220.5,38.3 220.7,40.6 221.0,40.4 221.2,38.1 221.5,35.5 221.7,33.5 221.9,31.8 222.2,30.3 222.4,29.1 222.7,28.1 222.9,27.3 223.2,26.5 223.4,25.8 223.7,25.2 223.9,24.6 224.1,24.0 224.4,23.4 224.6,22.7 224.9,21.9 225.1,21.2 225.4,20.5 225.6,19.7 225.9,18.9 226.1,18.1 226.3,17.5 226.6,17.0 226.8,16.6 227.1,16.2 227.3,15.9 227.6,15.6 227.8,15.2 228.1,14.7 228.3,14.1 228.5,13.4 228.8,12.8 229.0,12.3 229.3,12.5 229.8,12.2 230.3,11.7 230.7,11.2 231.2,11.3 231.7,11.2 232.2,11.1 232.7,11.3 233.2,12.2 233.7,11.9 234.2,10.7 234.7,11.7 235.1,11.1 235.6,12.3 236.1,11.9 236.6,10.6 237.1,11.2 237.6,10.2 238.1,11.0 238.6,11.3 239.1,11.5 239.5,11.5 240.0,10.8 240.5,10.0 241.0,11.2 241.5,10.3 242.0,12.8 242.5,13.0 243.0,13.1 243.5,10.5 243.9,12.9 244.4,11.1 244.9,10.2 245.4,13.0 245.9,12.3 246.4,9.9 246.9,13.5 247.4,12.1 247.9,13.6 248.4,11.6 248.8,12.5 249.3,15.0 249.8,12.8 250.3,15.5 250.8,12.9 251.3,16.3 251.8,17.3 252.3,17.1 252.8,17.5 253.2,16.9 253.7,21.0 254.2,20.4 254.7,23.8 255.2,22.8 255.7,27.1 256.2,26.5 256.7,29.4 257.2,28.0 257.6,24.5 258.1,22.7 258.6,22.4 259.1,20.5 259.6,21.1 260.1,20.5 260.6,19.0 261.1,16.9 261.6,17.3 262.0,17.2 262.5,17.0 263.0,14.9 263.5,16.2" fill="none" stroke="#ff2448" stroke-width="1.0" stroke-dasharray="1.5 1.5"/>
<polyline points="170.6,20.0 170.8,19.4 171.1,18.7 171.3,18.0 171.6,17.2 171.8,16.5 172.1,15.7 172.3,14.9 172.6,14.3 172.8,13.6 173.0,13.0 173.3,12.4 173.5,11.9 173.8,11.4 174.0,11.0 174.3,10.6 174.5,10.4 174.8,10.1 175.0,10.0 175.2,9.9 175.5,9.9 175.7,9.9 176.0,10.2 176.2,10.6 176.5,11.2 176.7,12.0 177.0,12.9 177.2,14.0 177.4,15.2 177.7,16.5 177.9,17.8 178.2,19.1 178.4,20.5 178.7,22.0 178.9,23.6 179.2,25.1 179.4,26.7 179.6,28.2 179.9,29.4 180.1,30.4 180.4,31.1 180.6,31.0 180.9,29.8 181.1,28.1 181.4,26.0 181.6,23.4 181.8,21.0 182.1,19.1 182.3,17.5 182.6,16.2 182.8,15.3 183.1,14.5 183.3,14.2 183.6,14.6 183.8,15.5 184.0,16.5 184.3,17.9 184.5,19.5 184.8,21.3 185.0,23.4 185.3,25.6 185.5,28.0 185.8,30.6 186.0,33.2 186.2,35.8 186.5,38.4 186.7,41.0 187.0,43.7 187.2,46.6 187.5,49.5 187.7,52.0 188.0,54.3 188.2,56.4 188.4,57.8 188.7,58.8 188.9,59.0 189.2,55.5 189.4,50.0 189.7,42.3 189.9,36.6 190.2,32.5 190.4,29.7 190.6,28.1 190.9,27.0 191.1,26.6 191.4,26.9 191.6,27.5 191.9,28.1 192.1,28.6 192.4,28.5 192.6,27.6 192.8,26.3 193.1,25.1 193.3,24.0 193.6,23.0 193.8,22.6 194.1,22.8 194.3,23.3 194.6,23.8 194.8,24.1 195.0,23.7 195.3,22.7 195.5,21.6 195.8,20.5 196.0,19.6 196.3,18.7 196.5,17.8 196.8,17.0 197.0,16.1 197.3,15.3 197.5,14.6 197.7,13.9 198.0,13.5 198.2,13.1 198.5,12.7 198.7,11.9 199.0,11.0 199.2,10.3 199.5,9.6 199.7,9.2 199.9,9.0 200.2,8.9 200.4,8.9 200.7,8.8 200.9,8.8 201.2,8.8 201.4,8.8 201.7,8.8 201.9,8.8 202.1,8.8 202.4,8.8 202.6,8.8 202.9,8.8 203.1,8.8 203.4,8.8 203.6,8.8 203.9,8.8 204.1,8.8 204.3,8.8 204.6,8.8 204.8,8.8 205.1,8.8 205.3,8.8 205.6,8.8 205.8,8.8 206.1,8.8 206.3,8.8 206.5,8.8 206.8,8.8 207.0,8.8 207.3,8.8 207.5,8.8 207.8,8.8 208.0,8.8 208.3,8.9 208.5,8.9 208.7,8.9 209.0,8.9 209.2,8.9 209.5,8.9 209.7,8.9 210.0,8.9 210.2,8.9 210.5,8.9 210.7,8.9 210.9,8.9 211.2,8.9 211.4,9.0 211.7,9.0 211.9,9.0 212.2,9.1 212.4,9.1 212.7,9.2 212.9,9.3 213.1,9.4 213.4,9.5 213.6,9.6 213.9,9.8 214.1,10.0 214.4,10.3 214.6,10.6 214.9,10.9 215.1,11.3 215.3,11.7 215.6,12.2 215.8,12.7 216.1,13.2 216.3,13.8 216.6,14.5 216.8,15.2 217.1,16.0 217.3,16.8 217.5,17.7 217.8,18.6 218.0,19.6 218.3,20.7 218.5,21.8 218.8,23.1 219.0,24.4 219.3,25.7 219.5,27.3 219.7,29.2 220.0,31.6 220.2,33.7 220.5,35.9 220.7,37.6 221.0,37.4 221.2,35.7 221.5,33.7 221.7,32.1 221.9,30.4 222.2,28.8 222.4,27.6 222.7,26.5 222.9,25.6 223.2,24.8 223.4,24.1 223.7,23.4 223.9,22.8 224.1,22.2 224.4,21.5 224.6,20.8 224.9,20.0 225.1,19.3 225.4,18.5 225.6,17.7 225.9,16.8 226.1,16.0 226.3,15.3 226.6,14.8 226.8,14.4 227.1,14.0 227.3,13.7 227.6,13.3 227.8,12.9 228.1,12.4 228.3,11.8 228.5,11.1 228.8,10.4 229.0,9.9 229.3,9.5 229.5,9.2 229.8,9.0 230.0,8.8 230.3,8.7 230.5,8.6 230.7,8.5 231.0,8.4 231.2,8.4 231.5,8.4 231.7,8.4 232.0,8.4 232.2,8.4 232.5,8.4 232.7,8.4 232.9,8.4 233.2,8.4 233.4,8.4 233.7,8.4 233.9,8.4 234.2,8.4 234.4,8.4 234.7,8.4 234.9,8.4 235.1,8.4 235.4,8.4 235.6,8.4 235.9,8.4 236.1,8.4 236.4,8.4 236.6,8.4 236.9,8.4 237.1,8.4 237.3,8.4 237.6,8.4 237.8,8.4 238.1,8.4 238.3,8.4 238.6,8.4 238.8,8.4 239.1,8.4 239.3,8.4 239.5,8.4 239.8,8.4 240.0,8.4 240.3,8.4 240.5,8.4 240.8,8.4 241.0,8.4 241.3,8.4 241.5,8.4 241.7,8.4 242.0,8.4 242.2,8.4 242.5,8.4 242.7,8.4 243.0,8.4 243.2,8.4 243.5,8.4 243.7,8.4 243.9,8.5 244.2,8.5 244.4,8.5 244.7,8.5 244.9,8.6 245.2,8.6 245.4,8.6 245.7,8.7 245.9,8.7 246.2,8.7 246.4,8.8 246.6,8.8 246.9,8.8 247.1,8.9 247.4,9.0 247.6,9.0 247.9,9.1 248.1,9.2 248.4,9.4 248.6,9.5 248.8,9.6 249.1,9.7 249.3,9.8 249.6,10.0 249.8,10.1 250.1,10.3 250.3,10.5 250.6,10.7 250.8,11.0 251.0,11.3 251.3,11.6 251.5,11.9 251.8,12.3 252.0,12.7 252.3,13.2 252.5,13.7 252.8,14.2 253.0,14.7 253.2,15.4 253.5,16.0 253.7,16.6 254.0,17.3 254.2,18.0 254.5,18.6 254.7,19.3 255.0,20.1 255.2,21.0 255.4,21.9 255.7,22.8 255.9,23.7 256.2,24.6 256.4,25.3 256.7,25.3 256.9,24.6 257.2,23.7 257.4,22.7 257.6,21.9 257.9,21.2 258.1,20.4 258.4,19.6 258.6,19.0 258.9,18.5 259.1,18.0 259.4,17.5 259.6,17.1 259.8,16.7 260.1,16.3 260.3,16.0 260.6,15.7 260.8,15.4 261.1,15.1 261.3,14.8 261.6,14.5 261.8,14.2 262.0,13.9 262.3,13.6 262.5,13.4 262.8,13.1 263.0,12.8 263.3,12.6 263.5,12.3" fill="none" stroke="#00bd6e" stroke-width="1.0" stroke-dasharray="3.2 1.6"/>
<path d="M170.60 7.40H268.40V102.60" stroke="#6e6e6e" stroke-width="0.9" fill="none"/>
<path d="M170.60 7.40V102.60H268.40M170.60 100.60V104.60M195.05 100.60V104.60M219.50 100.60V104.60M243.95 100.60V104.60M268.40 100.60V104.60M175.49 102.60V104.00M180.38 102.60V104.00M185.27 102.60V104.00M190.16 102.60V104.00M199.94 102.60V104.00M204.83 102.60V104.00M209.72 102.60V104.00M214.61 102.60V104.00M224.39 102.60V104.00M229.28 102.60V104.00M234.17 102.60V104.00M239.06 102.60V104.00M248.84 102.60V104.00M253.73 102.60V104.00M258.62 102.60V104.00M263.51 102.60V104.00M168.10 102.60H172.60M168.10 83.56H172.60M168.10 64.52H172.60M168.10 45.48H172.60M168.10 26.44H172.60M168.10 7.40H172.60M169.20 98.79H170.60M169.20 94.98H170.60M169.20 91.18H170.60M169.20 87.37H170.60M169.20 79.75H170.60M169.20 75.94H170.60M169.20 72.14H170.60M169.20 68.33H170.60M169.20 60.71H170.60M169.20 56.90H170.60M169.20 53.10H170.60M169.20 49.29H170.60M169.20 41.67H170.60M169.20 37.86H170.60M169.20 34.06H170.60M169.20 30.25H170.60M169.20 22.63H170.60M169.20 18.82H170.60M169.20 15.02H170.60M169.20 11.21H170.60" stroke="#3c3c3c" stroke-width="0.8" fill="none"/>
<text x="164.20" y="105.24" font-size="7.1" fill="#262626" stroke="#262626" stroke-width="0.22" text-anchor="end" textLength="9.87" lengthAdjust="spacingAndGlyphs">0.0</text>
<text x="164.20" y="86.20" font-size="7.1" fill="#262626" stroke="#262626" stroke-width="0.22" text-anchor="end" textLength="9.87" lengthAdjust="spacingAndGlyphs">0.2</text>
<text x="164.20" y="67.16" font-size="7.1" fill="#262626" stroke="#262626" stroke-width="0.22" text-anchor="end" textLength="9.87" lengthAdjust="spacingAndGlyphs">0.4</text>
<text x="164.20" y="48.12" font-size="7.1" fill="#262626" stroke="#262626" stroke-width="0.22" text-anchor="end" textLength="9.87" lengthAdjust="spacingAndGlyphs">0.6</text>
<text x="164.20" y="29.08" font-size="7.1" fill="#262626" stroke="#262626" stroke-width="0.22" text-anchor="end" textLength="9.87" lengthAdjust="spacingAndGlyphs">0.8</text>
<text x="164.20" y="10.04" font-size="7.1" fill="#262626" stroke="#262626" stroke-width="0.22" text-anchor="end" textLength="9.87" lengthAdjust="spacingAndGlyphs">1.0</text>
<text x="170.60" y="115.34" font-size="7.1" fill="#262626" stroke="#262626" stroke-width="0.22" text-anchor="middle" textLength="12.47" lengthAdjust="spacingAndGlyphs">450</text>
<text x="195.05" y="115.34" font-size="7.1" fill="#262626" stroke="#262626" stroke-width="0.22" text-anchor="middle" textLength="12.47" lengthAdjust="spacingAndGlyphs">550</text>
<text x="219.50" y="115.34" font-size="7.1" fill="#262626" stroke="#262626" stroke-width="0.22" text-anchor="middle" textLength="12.47" lengthAdjust="spacingAndGlyphs">650</text>
<text x="243.95" y="115.34" font-size="7.1" fill="#262626" stroke="#262626" stroke-width="0.22" text-anchor="middle" textLength="12.47" lengthAdjust="spacingAndGlyphs">750</text>
<text x="268.40" y="115.34" font-size="7.1" fill="#262626" stroke="#262626" stroke-width="0.22" text-anchor="middle" textLength="12.47" lengthAdjust="spacingAndGlyphs">850</text>
<text x="219.50" y="121.05" font-size="7.1" fill="#262626" stroke="#262626" stroke-width="0.22" text-anchor="middle" textLength="19.50" lengthAdjust="spacingAndGlyphs">λ (nm)</text>
<text x="0" y="0" font-size="7.1" fill="#262626" stroke="#262626" stroke-width="0.22" text-anchor="middle" transform="translate(150.24,54.80) rotate(-90)">R'</text>
<text x="172.50" y="97.65" font-size="7.1" fill="#262626" stroke="#262626" stroke-width="0.22" text-anchor="start" textLength="7.92" lengthAdjust="spacingAndGlyphs">(b)</text>
<rect x="201.30" y="78.10" width="66.50" height="22.60" fill="#fff"/>
<path d="M202.80 82.10H226.70" stroke="#6c6c6c" stroke-width="1.2" fill="none"/>
<text x="229.50" y="84.87" font-size="6.3" fill="#383838" stroke="#383838" stroke-width="0.18" text-anchor="start" textLength="35.65" lengthAdjust="spacingAndGlyphs">Max<tspan dy="-0.7">_</tspan><tspan dy="0.7"> EO</tspan><tspan dy="-0.7">_</tspan><tspan dy="0.7">Ref</tspan></text>
<path d="M202.80 90.00H226.70" stroke="#ff2448" stroke-width="1.05" stroke-dasharray="1.4 1.65" fill="none"/>
<text x="229.50" y="92.77" font-size="6.3" fill="#ff2020" stroke="#ff2020" stroke-width="0.18" text-anchor="start" textLength="32.05" lengthAdjust="spacingAndGlyphs">Max<tspan dy="-0.7">_</tspan><tspan dy="0.7">EO</tspan><tspan dy="-0.7">_</tspan><tspan dy="0.7">Xe</tspan></text>
<path d="M202.80 97.20H226.70" stroke="#00bd6e" stroke-width="1.15" stroke-dasharray="3.3 1.5" fill="none"/>
<text x="229.50" y="99.97" font-size="6.3" fill="#00b860" stroke="#00b860" stroke-width="0.18" text-anchor="start" textLength="32.65" lengthAdjust="spacingAndGlyphs">Max<tspan dy="-0.7">_</tspan><tspan dy="0.7">EO</tspan><tspan dy="-0.7">_</tspan><tspan dy="0.7">TH</tspan></text>
<path d="M331.27 5.60V101.50M356.65 5.60V101.50M382.02 5.60V101.50M305.90 82.32H407.40M305.90 63.14H407.40M305.90 43.96H407.40M305.90 24.78H407.40" stroke="#f0f0f0" stroke-width="0.6" fill="none"/>
<polyline points="305.9,27.7 306.2,26.4 306.4,25.1 306.7,23.8 306.9,22.4 307.2,20.9 307.4,19.4 307.7,18.1 307.9,16.8 308.2,15.5 308.4,14.3 308.7,13.3 308.9,12.3 309.2,11.4 309.5,10.6 309.7,9.9 310.0,9.4 310.2,8.9 310.5,8.7 310.7,8.6 311.0,8.5 311.2,8.6 311.5,9.1 311.7,9.9 312.0,11.0 312.2,12.5 312.5,14.2 312.8,16.2 313.0,18.5 313.3,20.9 313.5,23.4 313.8,26.0 314.0,28.6 314.3,31.4 314.5,34.4 314.8,37.2 315.0,40.2 315.3,43.1 315.5,45.4 315.8,47.2 316.0,48.5 316.3,48.4 316.6,46.1 316.8,43.0 317.1,39.0 317.3,34.0 317.6,29.6 317.8,26.0 318.1,22.8 318.3,20.5 318.6,18.7 318.8,17.2 319.1,16.6 319.3,17.4 319.6,19.0 319.9,21.0 320.1,23.7 320.4,26.7 320.6,30.1 320.9,34.0 321.1,38.2 321.4,42.7 321.6,47.6 321.9,52.6 322.1,57.5 322.4,62.4 322.6,67.3 322.9,72.5 323.2,77.9 323.4,83.3 323.7,88.1 323.9,92.5 324.2,96.4 324.4,99.0 324.7,100.9 324.9,101.3 325.2,94.8 325.4,84.3 325.7,69.9 325.9,59.0 326.2,51.2 326.5,45.9 326.7,43.0 327.0,40.9 327.2,40.1 327.5,40.6 327.7,41.7 328.0,43.0 328.2,43.8 328.5,43.7 328.7,42.0 329.0,39.5 329.2,37.2 329.5,35.2 329.8,33.3 330.0,32.5 330.3,32.9 330.5,33.9 330.8,34.9 331.0,35.3 331.3,34.6 331.5,32.8 331.8,30.6 332.0,28.6 332.3,26.9 332.5,25.2 332.8,23.5 333.1,21.9 333.3,20.3 333.6,18.8 333.8,17.3 334.1,16.1 334.3,15.3 334.6,14.6 334.8,13.8 335.1,12.3 335.3,10.6 335.6,9.3 335.8,8.0 336.1,7.2 336.3,6.9 336.6,6.7 336.9,6.6 337.1,6.5 337.4,6.5 337.6,6.5 337.9,6.5 338.1,6.5 338.4,6.4 338.6,6.4 338.9,6.4 339.1,6.4 339.4,6.4 339.6,6.4 339.9,6.4 340.2,6.4 340.4,6.4 340.7,6.4 340.9,6.4 341.2,6.4 341.4,6.4 341.7,6.4 341.9,6.4 342.2,6.4 342.4,6.4 342.7,6.4 342.9,6.4 343.2,6.4 343.5,6.4 343.7,6.5 344.0,6.5 344.2,6.5 344.5,6.5 344.7,6.5 345.0,6.5 345.2,6.6 345.5,6.6 345.7,6.6 346.0,6.6 346.2,6.6 346.5,6.6 346.8,6.6 347.0,6.6 347.3,6.7 347.5,6.7 347.8,6.7 348.0,6.7 348.3,6.8 348.5,6.8 348.8,6.9 349.0,7.0 349.3,7.1 349.5,7.2 349.8,7.4 350.1,7.5 350.3,7.7 350.6,8.0 350.8,8.4 351.1,8.8 351.3,9.2 351.6,9.8 351.8,10.4 352.1,11.1 352.3,11.9 352.6,12.8 352.8,13.7 353.1,14.8 353.4,16.0 353.6,17.2 353.9,18.5 354.1,20.0 354.4,21.5 354.6,23.2 354.9,25.0 355.1,26.9 355.4,28.9 355.6,31.1 355.9,33.4 356.1,35.8 356.4,38.4 356.6,41.4 356.9,45.1 357.2,49.5 357.4,53.5 357.7,57.7 357.9,60.9 358.2,60.5 358.4,57.2 358.7,53.5 358.9,50.4 359.2,47.2 359.4,44.2 359.7,41.9 359.9,40.0 360.2,38.3 360.5,36.8 360.7,35.4 361.0,34.1 361.2,32.9 361.5,31.8 361.7,30.5 362.0,29.1 362.2,27.7 362.5,26.2 362.7,24.8 363.0,23.2 363.2,21.6 363.5,20.1 363.8,18.8 364.0,17.8 364.3,17.0 364.5,16.3 364.8,15.7 365.0,15.0 365.3,14.3 365.5,13.3 365.8,12.1 366.0,10.7 366.3,9.4 366.5,8.5 366.8,7.8 367.1,7.2 367.3,6.7 367.6,6.5 367.8,6.3 368.1,6.1 368.3,5.9 368.6,5.8 368.8,5.7 369.1,5.6 369.3,5.6 369.6,5.6 369.8,5.6 370.1,5.6 370.4,5.6 370.6,5.6 370.9,5.6 371.1,5.6 371.4,5.6 371.6,5.6 371.9,5.6 372.1,5.6 372.4,5.6 372.6,5.6 372.9,5.6 373.1,5.6 373.4,5.6 373.7,5.6 373.9,5.6 374.2,5.6 374.4,5.6 374.7,5.6 374.9,5.6 375.2,5.6 375.4,5.6 375.7,5.6 375.9,5.6 376.2,5.6 376.4,5.6 376.7,5.6 376.9,5.6 377.2,5.6 377.5,5.6 377.7,5.6 378.0,5.6 378.2,5.6 378.5,5.6 378.7,5.6 379.0,5.6 379.2,5.6 379.5,5.6 379.7,5.6 380.0,5.6 380.2,5.6 380.5,5.6 380.8,5.7 381.0,5.7 381.3,5.7 381.5,5.7 381.8,5.8 382.0,5.8 382.3,5.9 382.5,5.9 382.8,6.0 383.0,6.0 383.3,6.1 383.5,6.1 383.8,6.2 384.1,6.2 384.3,6.3 384.6,6.4 384.8,6.5 385.1,6.5 385.3,6.6 385.6,6.7 385.8,6.9 386.1,7.1 386.3,7.3 386.6,7.5 386.8,7.7 387.1,7.9 387.4,8.2 387.6,8.4 387.9,8.7 388.1,9.0 388.4,9.3 388.6,9.7 388.9,10.1 389.1,10.6 389.4,11.1 389.6,11.7 389.9,12.3 390.1,13.0 390.4,13.8 390.7,14.7 390.9,15.6 391.2,16.6 391.4,17.7 391.7,18.8 391.9,20.0 392.2,21.3 392.4,22.5 392.7,23.8 392.9,25.0 393.2,26.4 393.4,27.8 393.7,29.5 394.0,31.3 394.2,32.9 394.5,34.7 394.7,36.4 395.0,37.6 395.2,37.5 395.5,36.3 395.7,34.5 396.0,32.7 396.2,31.3 396.5,29.8 396.7,28.3 397.0,26.9 397.2,25.7 397.5,24.7 397.8,23.8 398.0,22.9 398.3,22.1 398.5,21.4 398.8,20.7 399.0,20.1 399.3,19.4 399.5,18.8 399.8,18.3 400.0,17.7 400.3,17.2 400.5,16.6 400.8,16.1 401.1,15.6 401.3,15.1 401.6,14.6 401.8,14.1 402.1,13.5 402.3,13.0" fill="none" stroke="#262626" stroke-width="0.85"/>
<polyline points="305.9,33.2 306.2,32.0 306.4,30.9 306.7,29.6 306.9,28.3 307.2,27.0 307.4,25.6 307.7,24.3 307.9,23.1 308.2,22.0 308.4,20.9 308.7,19.9 308.9,19.0 309.2,18.1 309.5,17.4 309.7,16.8 310.0,16.3 310.2,15.9 310.5,15.6 310.7,15.5 311.0,15.5 311.2,15.5 311.5,16.0 311.7,16.8 312.0,17.8 312.2,19.2 312.5,20.8 312.8,22.6 313.0,24.8 313.3,27.0 313.5,29.3 313.8,31.6 314.0,34.1 314.3,36.7 314.5,39.4 314.8,42.1 315.0,44.8 315.3,47.5 315.5,49.6 315.8,51.3 316.0,52.5 316.3,52.4 316.6,50.3 316.8,47.4 317.1,43.7 317.3,39.1 317.6,35.0 317.8,31.7 318.1,28.7 318.3,26.5 318.6,24.9 318.8,23.5 319.1,23.0 319.3,23.7 319.6,25.2 319.9,27.1 320.1,29.5 320.4,32.3 320.6,35.5 320.9,39.1 321.1,43.0 321.4,47.2 321.6,51.7 321.9,56.3 322.1,60.8 322.4,65.3 322.6,69.9 322.9,74.6 323.2,79.7 323.4,84.6 323.7,89.1 323.9,93.2 324.2,96.8 324.4,99.2 324.7,100.9 324.9,101.3 325.2,95.3 325.4,85.6 325.7,72.2 325.9,62.2 326.2,54.9 326.5,50.0 326.7,47.4 327.0,45.5 327.2,44.7 327.5,45.2 327.7,46.2 328.0,47.4 328.2,48.2 328.5,48.0 328.7,46.4 329.0,44.1 329.2,42.1 329.5,40.2 329.8,38.4 330.0,37.6 330.3,38.0 330.5,39.0 330.8,39.9 331.0,40.3 331.3,39.6 331.5,38.0 331.8,35.9 332.0,34.1 332.3,32.5 332.5,30.9 332.8,29.4 333.1,27.9 333.3,26.4 333.6,25.0 333.8,23.6 334.1,22.6 334.3,21.8 334.6,21.1 334.8,20.3 335.1,19.0 335.3,17.4 335.6,16.2 335.8,15.0 336.1,14.3 336.3,14.0 336.6,13.8 336.9,13.7 337.1,13.7 337.4,13.6 337.6,13.6 337.9,13.6 338.1,13.6 338.4,13.6 338.6,13.6 338.9,13.5 339.1,13.5 339.4,13.5 339.6,13.5 339.9,13.5 340.2,13.5 340.4,13.5 340.7,13.5 340.9,13.5 341.2,13.5 341.4,13.5 341.7,13.5 341.9,13.5 342.2,13.5 342.4,13.5 342.7,13.5 342.9,13.5 343.2,13.6 343.5,13.6 343.7,13.6 344.0,13.6 344.2,13.6 344.5,13.6 344.7,13.7 345.0,13.7 345.2,13.7 345.5,13.7 345.7,13.7 346.0,13.7 346.2,13.7 346.5,13.7 346.8,13.7 347.0,13.8 347.3,13.8 347.5,13.8 347.8,13.8 348.0,13.8 348.3,13.9 348.5,13.9 348.8,14.0 349.0,14.0 349.3,14.2 349.5,14.3 349.8,14.4 350.1,14.6 350.3,14.8 350.6,15.0 350.8,15.4 351.1,15.7 351.3,16.2 351.6,16.6 351.8,17.2 352.1,17.9 352.3,18.7 352.6,19.4 352.8,20.3 353.1,21.3 353.4,22.4 353.6,23.5 353.9,24.8 354.1,26.1 354.4,27.5 354.6,29.1 354.9,30.7 355.1,32.5 355.4,34.4 355.6,36.4 355.9,38.5 356.1,40.8 356.4,43.2 356.6,45.9 356.9,49.4 357.2,53.7 357.4,58.2 357.7,63.4 357.9,67.5 358.2,67.2 358.4,62.9 358.7,58.2 358.9,54.6 359.2,51.3 359.4,48.5 359.7,46.4 359.9,44.6 360.2,43.0 360.5,41.6 360.7,40.3 361.0,39.2 361.2,38.1 361.5,37.0 361.7,35.8 362.0,34.5 362.2,33.2 362.5,31.9 362.7,30.5 363.0,29.1 363.2,27.6 363.5,26.2 363.8,25.0 364.0,24.1 364.3,23.3 364.5,22.7 364.8,22.1 365.0,21.5 365.3,20.8 365.5,20.0 365.8,18.8 366.0,17.5 366.3,16.3 366.5,15.5 366.8,18.0 367.3,17.5 367.8,16.3 368.3,15.1 368.8,15.6 369.3,15.2 369.8,15.1 370.4,15.5 370.9,17.6 371.4,16.8 371.9,14.0 372.4,16.1 372.9,14.9 373.4,17.4 373.9,16.7 374.4,13.5 374.9,14.8 375.4,12.6 375.9,14.5 376.4,15.1 376.9,15.5 377.5,15.3 378.0,13.7 378.5,11.9 379.0,14.7 379.5,12.5 380.0,18.2 380.5,18.7 381.0,18.8 381.5,12.9 382.0,18.4 382.5,14.0 383.0,12.1 383.5,18.2 384.1,16.7 384.6,11.2 385.1,19.3 385.6,16.1 386.1,19.4 386.6,14.8 387.1,16.8 387.6,22.3 388.1,17.0 388.6,23.0 389.1,16.9 389.6,24.5 390.1,26.3 390.7,25.6 391.2,25.9 391.7,24.0 392.2,32.7 392.7,30.9 393.2,37.8 393.7,34.9 394.2,43.9 394.7,41.6 395.2,47.9 395.7,45.4 396.2,38.7 396.7,35.2 397.2,35.1 397.8,31.3 398.3,33.1 398.8,32.2 399.3,29.1 399.8,24.6 400.3,25.6 400.8,25.8 401.3,25.6 401.8,21.0 402.3,24.3" fill="none" stroke="#ff2448" stroke-width="1.0" stroke-dasharray="1.5 1.5"/>
<polyline points="305.9,31.3 306.2,30.1 306.4,28.9 306.7,27.7 306.9,26.4 307.2,25.0 307.4,23.6 307.7,22.2 307.9,21.0 308.2,19.8 308.4,18.7 308.7,17.7 308.9,16.8 309.2,15.9 309.5,15.1 309.7,14.5 310.0,14.0 310.2,13.6 310.5,13.3 310.7,13.2 311.0,13.1 311.2,13.2 311.5,13.7 311.7,14.5 312.0,15.5 312.2,17.0 312.5,18.6 312.8,20.5 313.0,22.7 313.3,25.0 313.5,27.3 313.8,29.7 314.0,32.3 314.3,34.9 314.5,37.7 314.8,40.5 315.0,43.3 315.3,46.0 315.5,48.2 315.8,49.9 316.0,51.2 316.3,51.1 316.6,48.9 316.8,45.9 317.1,42.1 317.3,37.4 317.6,33.2 317.8,29.8 318.1,26.8 318.3,24.5 318.6,22.8 318.8,21.4 319.1,20.9 319.3,21.6 319.6,23.1 319.9,25.1 320.1,27.6 320.4,30.4 320.6,33.7 320.9,37.4 321.1,38.2 321.4,42.7 321.6,47.6 321.9,52.6 322.1,57.5 322.4,62.4 322.6,67.3 322.9,72.5 323.2,77.9 323.4,83.3 323.7,88.1 323.9,92.5 324.2,96.4 324.4,99.0 324.7,100.9 324.9,101.3 325.2,94.8 325.4,84.3 325.7,69.9 325.9,59.0 326.2,51.2 326.5,45.9 326.7,43.0 327.0,40.9 327.2,40.1 327.5,40.6 327.7,41.7 328.0,43.0 328.2,43.8 328.5,43.7 328.7,42.0 329.0,39.5 329.2,37.2 329.5,35.2 329.8,33.3 330.0,32.5 330.3,32.9 330.5,33.9 330.8,34.9 331.0,35.3 331.3,34.6 331.5,32.8 331.8,30.6 332.0,28.6 332.3,26.9 332.5,25.2 332.8,23.5 333.1,21.9 333.3,20.3 333.6,18.8 333.8,17.3 334.1,16.1 334.3,15.3 334.6,14.6 334.8,13.8 335.1,12.3 335.3,10.6 335.6,9.3 335.8,8.0 336.1,7.2 336.3,6.9 336.6,6.7 336.9,6.6 337.1,6.5 337.4,6.5 337.6,6.5 337.9,6.5 338.1,6.5 338.4,6.4 338.6,6.4 338.9,6.4 339.1,6.4 339.4,6.4 339.6,6.4 339.9,6.4 340.2,6.4 340.4,6.4 340.7,6.4 340.9,6.4 341.2,6.4 341.4,6.4 341.7,6.4 341.9,6.4 342.2,6.4 342.4,6.4 342.7,6.4 342.9,6.4 343.2,6.4 343.5,6.4 343.7,6.5 344.0,6.5 344.2,6.5 344.5,6.5 344.7,6.5 345.0,6.5 345.2,6.6 345.5,6.6 345.7,6.6 346.0,6.6 346.2,6.6 346.5,6.6 346.8,6.6 347.0,6.6 347.3,6.7 347.5,6.7 347.8,6.7 348.0,6.7 348.3,6.8 348.5,6.8 348.8,6.9 349.0,7.0 349.3,7.1 349.5,7.2 349.8,7.4 350.1,7.5 350.3,7.7 350.6,8.0 350.8,8.4 351.1,8.8 351.3,9.2 351.6,9.8 351.8,10.4 352.1,11.1 352.3,11.9 352.6,12.8 352.8,13.7 353.1,14.8 353.4,16.0 353.6,17.2 353.9,18.5 354.1,20.0 354.4,21.5 354.6,23.2 354.9,25.0 355.1,26.9 355.4,28.9 355.6,31.1 355.9,33.4 356.1,35.8 356.4,38.4 356.6,41.4 356.9,45.1 357.2,49.5 357.4,53.5 357.7,57.7 357.9,60.9 358.2,60.5 358.4,57.2 358.7,53.5 358.9,50.4 359.2,47.2 359.4,44.2 359.7,41.9 359.9,40.0 360.2,38.3 360.5,36.8 360.7,35.4 361.0,34.1 361.2,32.9 361.5,31.8 361.7,30.5 362.0,29.1 362.2,27.7 362.5,26.2 362.7,24.8 363.0,23.2 363.2,21.6 363.5,20.1 363.8,18.8 364.0,17.8 364.3,17.0 364.5,18.9 364.8,18.3 365.0,17.6 365.3,16.9 365.5,16.0 365.8,14.8 366.0,13.4 366.3,12.2 366.5,11.3 366.8,10.6 367.1,10.0 367.3,9.6 367.6,9.3 367.8,9.1 368.1,8.9 368.3,8.8 368.6,8.7 368.8,8.6 369.1,8.5 369.3,8.5 369.6,8.5 369.8,8.5 370.1,8.5 370.4,8.5 370.6,8.5 370.9,8.5 371.1,8.5 371.4,8.5 371.6,8.5 371.9,8.5 372.1,8.5 372.4,8.5 372.6,8.5 372.9,8.5 373.1,8.5 373.4,8.5 373.7,8.5 373.9,8.5 374.2,8.5 374.4,8.5 374.7,8.5 374.9,8.5 375.2,8.5 375.4,8.5 375.7,8.5 375.9,8.5 376.2,8.5 376.4,8.5 376.7,8.5 376.9,8.5 377.2,8.5 377.5,8.5 377.7,8.5 378.0,8.5 378.2,8.5 378.5,8.5 378.7,8.5 379.0,8.5 379.2,8.5 379.5,8.5 379.7,8.5 380.0,8.5 380.2,8.5 380.5,8.5 380.8,8.5 381.0,8.6 381.3,8.6 381.5,8.6 381.8,8.6 382.0,8.7 382.3,8.7 382.5,8.8 382.8,8.8 383.0,8.9 383.3,8.9 383.5,9.0 383.8,9.0 384.1,9.1 384.3,9.2 384.6,9.2 384.8,9.3 385.1,9.4 385.3,9.5 385.6,9.6 385.8,9.7 386.1,9.9 386.3,10.1 386.6,10.3 386.8,10.5 387.1,10.7 387.4,11.0 387.6,11.2 387.9,11.5 388.1,11.7 388.4,12.1 388.6,12.4 388.9,12.8 389.1,13.3 389.4,13.8 389.6,14.4 389.9,15.0 390.1,15.7 390.4,16.4 390.7,17.3 390.9,18.2 391.2,19.2 391.4,20.2 391.7,21.3 391.9,22.5 392.2,23.7 392.4,24.9 392.7,26.1 392.9,27.3 393.2,28.6 393.4,30.0 393.7,31.5 394.0,33.2 394.2,34.7 394.5,36.3 394.7,37.9 395.0,38.9 395.2,38.8 395.5,37.5 395.7,35.7 396.0,33.8 396.2,32.3 396.5,30.7 396.7,29.2 397.0,27.7 397.2,26.4 397.5,25.3 397.8,24.2 398.0,23.3 398.3,22.4 398.5,21.5 398.8,20.7 399.0,19.9 399.3,19.2 399.5,18.5 399.8,17.8 400.0,17.1 400.3,16.4 400.5,15.8 400.8,15.1 401.1,14.5 401.3,13.8 401.6,13.2 401.8,12.6 402.1,11.9 402.3,11.3" fill="none" stroke="#00bd6e" stroke-width="1.0" stroke-dasharray="3.2 1.6"/>
<path d="M305.90 5.60H407.40V101.50" stroke="#6e6e6e" stroke-width="0.9" fill="none"/>
<path d="M305.90 5.60V101.50H407.40M305.90 99.50V103.50M331.27 99.50V103.50M356.65 99.50V103.50M382.02 99.50V103.50M407.40 99.50V103.50M310.97 101.50V102.90M316.05 101.50V102.90M321.12 101.50V102.90M326.20 101.50V102.90M336.35 101.50V102.90M341.42 101.50V102.90M346.50 101.50V102.90M351.57 101.50V102.90M361.72 101.50V102.90M366.80 101.50V102.90M371.88 101.50V102.90M376.95 101.50V102.90M387.10 101.50V102.90M392.17 101.50V102.90M397.25 101.50V102.90M402.32 101.50V102.90M303.40 101.50H307.90M303.40 82.32H307.90M303.40 63.14H307.90M303.40 43.96H307.90M303.40 24.78H307.90M303.40 5.60H307.90M304.50 97.66H305.90M304.50 93.83H305.90M304.50 89.99H305.90M304.50 86.16H305.90M304.50 78.48H305.90M304.50 74.65H305.90M304.50 70.81H305.90M304.50 66.98H305.90M304.50 59.30H305.90M304.50 55.47H305.90M304.50 51.63H305.90M304.50 47.80H305.90M304.50 40.12H305.90M304.50 36.29H305.90M304.50 32.45H305.90M304.50 28.62H305.90M304.50 20.94H305.90M304.50 17.11H305.90M304.50 13.27H305.90M304.50 9.44H305.90" stroke="#3c3c3c" stroke-width="0.8" fill="none"/>
<text x="299.50" y="104.14" font-size="7.1" fill="#262626" stroke="#262626" stroke-width="0.22" text-anchor="end" textLength="9.87" lengthAdjust="spacingAndGlyphs">0.0</text>
<text x="299.50" y="84.96" font-size="7.1" fill="#262626" stroke="#262626" stroke-width="0.22" text-anchor="end" textLength="9.87" lengthAdjust="spacingAndGlyphs">0.2</text>
<text x="299.50" y="65.78" font-size="7.1" fill="#262626" stroke="#262626" stroke-width="0.22" text-anchor="end" textLength="9.87" lengthAdjust="spacingAndGlyphs">0.4</text>
<text x="299.50" y="46.60" font-size="7.1" fill="#262626" stroke="#262626" stroke-width="0.22" text-anchor="end" textLength="9.87" lengthAdjust="spacingAndGlyphs">0.6</text>
<text x="299.50" y="27.42" font-size="7.1" fill="#262626" stroke="#262626" stroke-width="0.22" text-anchor="end" textLength="9.87" lengthAdjust="spacingAndGlyphs">0.8</text>
<text x="299.50" y="8.24" font-size="7.1" fill="#262626" stroke="#262626" stroke-width="0.22" text-anchor="end" textLength="9.87" lengthAdjust="spacingAndGlyphs">1.0</text>
<text x="305.90" y="114.24" font-size="7.1" fill="#262626" stroke="#262626" stroke-width="0.22" text-anchor="middle" textLength="12.47" lengthAdjust="spacingAndGlyphs">450</text>
<text x="331.27" y="114.24" font-size="7.1" fill="#262626" stroke="#262626" stroke-width="0.22" text-anchor="middle" textLength="12.47" lengthAdjust="spacingAndGlyphs">550</text>
<text x="356.65" y="114.24" font-size="7.1" fill="#262626" stroke="#262626" stroke-width="0.22" text-anchor="middle" textLength="12.47" lengthAdjust="spacingAndGlyphs">650</text>
<text x="382.02" y="114.24" font-size="7.1" fill="#262626" stroke="#262626" stroke-width="0.22" text-anchor="middle" textLength="12.47" lengthAdjust="spacingAndGlyphs">750</text>
<text x="407.40" y="114.24" font-size="7.1" fill="#262626" stroke="#262626" stroke-width="0.22" text-anchor="middle" textLength="12.47" lengthAdjust="spacingAndGlyphs">850</text>
<text x="356.65" y="119.95" font-size="7.1" fill="#262626" stroke="#262626" stroke-width="0.22" text-anchor="middle" textLength="19.50" lengthAdjust="spacingAndGlyphs">λ (nm)</text>
<text x="0" y="0" font-size="7.1" fill="#262626" stroke="#262626" stroke-width="0.22" text-anchor="middle" transform="translate(289.04,54.30) rotate(-90)">R'</text>
<text x="308.50" y="97.45" font-size="7.1" fill="#262626" stroke="#262626" stroke-width="0.22" text-anchor="start" textLength="7.20" lengthAdjust="spacingAndGlyphs">(c)</text>
<rect x="331.10" y="77.80" width="75.70" height="22.10" fill="#fff"/>
<path d="M332.60 81.80H356.90" stroke="#6c6c6c" stroke-width="1.2" fill="none"/>
<text x="359.80" y="84.57" font-size="6.3" fill="#383838" stroke="#383838" stroke-width="0.18" text-anchor="start" textLength="44.64" lengthAdjust="spacingAndGlyphs">MinMax<tspan dy="-0.7">_</tspan><tspan dy="0.7">EO</tspan><tspan dy="-0.7">_</tspan><tspan dy="0.7">Ref</tspan></text>
<path d="M332.60 89.20H356.90" stroke="#ff2448" stroke-width="1.05" stroke-dasharray="1.4 1.65" fill="none"/>
<text x="359.80" y="91.97" font-size="6.3" fill="#ff2020" stroke="#ff2020" stroke-width="0.18" text-anchor="start" textLength="42.50" lengthAdjust="spacingAndGlyphs">MinMax<tspan dy="-0.7">_</tspan><tspan dy="0.7">EO</tspan><tspan dy="-0.7">_</tspan><tspan dy="0.7">Xe</tspan></text>
<path d="M332.60 96.40H356.90" stroke="#00bd6e" stroke-width="1.15" stroke-dasharray="3.3 1.5" fill="none"/>
<text x="359.80" y="99.17" font-size="6.3" fill="#00b860" stroke="#00b860" stroke-width="0.18" text-anchor="start" textLength="43.11" lengthAdjust="spacingAndGlyphs">MinMax<tspan dy="-0.7">_</tspan><tspan dy="0.7">EO</tspan><tspan dy="-0.7">_</tspan><tspan dy="0.7">TH</tspan></text>
<path d="M468.73 5.40V101.20M492.05 5.40V101.20M515.38 5.40V101.20M445.40 53.30H538.70" stroke="#f0f0f0" stroke-width="0.6" fill="none"/>
<polyline points="445.4,29.7 445.6,28.7 445.9,27.7 446.1,26.7 446.3,25.6 446.6,24.4 446.8,23.3 447.0,22.2 447.3,21.2 447.5,20.3 447.7,19.3 448.0,18.5 448.2,17.8 448.4,17.1 448.7,16.4 448.9,15.9 449.1,15.5 449.4,15.2 449.6,15.0 449.8,14.9 450.1,14.8 450.3,14.9 450.5,15.3 450.8,15.9 451.0,16.8 451.2,17.9 451.5,19.3 451.7,20.8 451.9,22.6 452.2,24.5 452.4,26.4 452.6,28.3 452.9,30.4 453.1,32.6 453.3,34.9 453.6,37.1 453.8,39.4 454.0,41.6 454.3,43.4 454.5,44.8 454.7,45.8 455.0,45.7 455.2,43.9 455.4,41.5 455.7,38.4 455.9,34.6 456.1,31.1 456.4,28.4 456.6,25.9 456.8,24.1 457.1,22.7 457.3,21.6 457.5,21.1 457.8,21.7 458.0,23.0 458.2,24.5 458.5,26.6 458.7,28.9 458.9,31.6 459.2,34.6 459.4,37.8 459.6,41.3 459.9,45.1 460.1,49.0 460.3,52.7 460.6,56.5 460.8,60.4 461.0,64.3 461.3,68.6 461.5,72.7 461.7,76.4 462.0,79.8 462.2,82.9 462.4,84.9 462.7,86.3 462.9,86.6 463.1,81.6 463.4,73.5 463.6,62.3 463.8,53.9 464.1,47.9 464.3,43.8 464.5,41.6 464.8,39.9 465.0,39.3 465.2,39.7 465.5,40.6 465.7,41.5 465.9,42.2 466.2,42.1 466.4,40.7 466.6,38.8 466.9,37.1 467.1,35.5 467.3,34.0 467.6,33.4 467.8,33.7 468.0,34.5 468.3,35.3 468.5,35.6 468.7,35.0 469.0,33.7 469.2,31.9 469.4,30.4 469.7,29.1 469.9,27.8 470.1,26.4 470.4,25.2 470.6,24.0 470.8,22.8 471.1,21.7 471.3,20.8 471.5,20.1 471.8,19.6 472.0,18.9 472.2,17.8 472.5,16.5 472.7,15.4 472.9,14.4 473.2,13.8 473.4,13.6 473.6,13.4 473.9,13.3 474.1,13.3 474.3,13.3 474.6,13.3 474.8,13.3 475.0,13.2 475.3,13.2 475.5,13.2 475.7,13.2 476.0,13.2 476.2,13.2 476.4,13.2 476.7,13.2 476.9,13.2 477.1,13.2 477.4,13.2 477.6,13.2 477.8,13.2 478.1,13.2 478.3,13.2 478.5,13.2 478.8,13.2 479.0,13.2 479.2,13.2 479.5,13.2 479.7,13.2 479.9,13.2 480.2,13.3 480.4,13.3 480.6,13.3 480.9,13.3 481.1,13.3 481.3,13.3 481.6,13.3 481.8,13.3 482.0,13.3 482.3,13.4 482.5,13.4 482.7,13.4 483.0,13.4 483.2,13.4 483.4,13.4 483.7,13.4 483.9,13.4 484.1,13.5 484.4,13.5 484.6,13.5 484.8,13.6 485.1,13.6 485.3,13.7 485.5,13.8 485.8,13.9 486.0,14.1 486.2,14.2 486.5,14.5 486.7,14.7 486.9,15.1 487.2,15.4 487.4,15.8 487.6,16.3 487.9,16.9 488.1,17.5 488.3,18.2 488.6,18.9 488.8,19.7 489.0,20.6 489.3,21.6 489.5,22.6 489.7,23.7 490.0,24.9 490.2,26.2 490.4,27.6 490.7,29.1 490.9,30.6 491.1,32.3 491.4,34.1 491.6,36.0 491.8,38.0 492.1,40.3 492.3,43.1 492.5,46.5 492.7,49.7 493.0,52.9 493.2,55.4 493.4,55.1 493.7,52.5 493.9,49.7 494.1,47.3 494.4,44.8 494.6,42.5 494.8,40.7 495.1,39.2 495.3,37.9 495.5,36.7 495.8,35.6 496.0,34.7 496.2,33.8 496.5,32.8 496.7,31.8 496.9,30.8 497.2,29.7 497.4,28.6 497.6,27.4 497.9,26.2 498.1,25.0 498.3,23.8 498.6,22.8 498.8,22.0 499.0,21.4 499.3,20.9 499.5,20.4 499.7,19.9 500.0,19.3 500.2,18.6 500.4,17.6 500.7,16.6 500.9,15.6 501.1,14.8 501.4,14.3 501.6,13.8 501.8,13.5 502.1,13.3 502.3,13.1 502.5,13.0 502.8,12.8 503.0,12.7 503.2,12.6 503.5,12.6 503.7,12.6 503.9,12.6 504.2,12.6 504.4,12.6 504.6,12.6 504.9,12.6 505.1,12.6 505.3,12.6 505.6,12.6 505.8,12.6 506.0,12.6 506.3,12.6 506.5,12.6 506.7,12.6 507.0,12.6 507.2,12.6 507.4,12.6 507.7,12.6 507.9,12.6 508.1,12.6 508.4,12.6 508.6,12.6 508.8,12.6 509.1,12.6 509.3,12.6 509.5,12.6 509.8,12.6 510.0,12.6 510.2,12.6 510.5,12.6 510.7,12.6 510.9,12.6 511.2,12.6 511.4,12.6 511.6,12.6 511.9,12.6 512.1,12.6 512.3,12.6 512.6,12.6 512.8,12.6 513.0,12.6 513.3,12.6 513.5,12.6 513.7,12.6 514.0,12.6 514.2,12.6 514.4,12.6 514.7,12.7 514.9,12.7 515.1,12.7 515.4,12.8 515.6,12.8 515.8,12.8 516.1,12.9 516.3,12.9 516.5,12.9 516.8,13.0 517.0,13.0 517.2,13.1 517.5,13.1 517.7,13.2 517.9,13.3 518.2,13.3 518.4,13.4 518.6,13.5 518.9,13.6 519.1,13.7 519.3,13.9 519.6,14.1 519.8,14.2 520.0,14.4 520.3,14.6 520.5,14.8 520.7,15.0 521.0,15.2 521.2,15.4 521.4,15.7 521.7,16.1 521.9,16.4 522.1,16.8 522.4,17.3 522.6,17.8 522.8,18.3 523.1,18.9 523.3,19.6 523.5,20.4 523.8,21.1 524.0,21.9 524.2,22.8 524.5,23.8 524.7,24.7 524.9,25.7 525.2,26.6 525.4,27.6 525.6,28.7 525.9,29.8 526.1,31.1 526.3,32.5 526.6,33.7 526.8,35.1 527.0,36.4 527.3,37.3 527.5,37.3 527.7,36.4 528.0,35.0 528.2,33.6 528.4,32.5 528.7,31.3 528.9,30.2 529.1,29.1 529.4,28.2 529.6,27.4 529.8,26.7 530.1,26.0 530.3,25.4 530.5,24.8 530.8,24.3 531.0,23.8 531.2,23.3 531.5,22.8 531.7,22.4 531.9,22.0 532.2,21.5 532.4,21.1 532.6,20.7 532.9,20.3 533.1,19.9 533.3,19.5 533.6,19.1 533.8,18.7 534.0,18.3" fill="none" stroke="#262626" stroke-width="0.85"/>
<polyline points="445.4,29.7 445.6,28.7 445.9,27.7 446.1,26.7 446.3,25.6 446.6,24.4 446.8,23.3 447.0,22.2 447.3,21.2 447.5,20.3 447.7,19.3 448.0,18.5 448.2,17.8 448.4,17.1 448.7,16.4 448.9,15.9 449.1,15.5 449.4,15.2 449.6,15.0 449.8,14.9 450.1,14.8 450.3,14.9 450.5,15.3 450.8,15.9 451.0,16.8 451.2,17.9 451.5,19.3 451.7,20.8 451.9,22.6 452.2,24.5 452.4,26.4 452.6,28.3 452.9,30.4 453.1,32.6 453.3,34.9 453.6,37.1 453.8,39.4 454.0,41.6 454.3,43.4 454.5,44.8 454.7,45.8 455.0,45.7 455.2,43.9 455.4,41.5 455.7,38.4 455.9,34.6 456.1,31.1 456.4,28.4 456.6,25.9 456.8,24.1 457.1,22.7 457.3,21.6 457.5,21.1 457.8,21.7 458.0,23.0 458.2,24.5 458.5,26.6 458.7,28.9 458.9,31.6 459.2,34.6 459.4,37.8 459.6,41.3 459.9,45.1 460.1,49.0 460.3,52.7 460.6,56.5 460.8,60.4 461.0,64.3 461.3,68.6 461.5,72.7 461.7,76.4 462.0,79.8 462.2,82.9 462.4,84.9 462.7,86.3 462.9,86.6 463.1,81.6 463.4,73.5 463.6,62.3 463.8,53.9 464.1,47.9 464.3,43.8 464.5,41.6 464.8,39.9 465.0,39.3 465.2,39.7 465.5,40.6 465.7,41.5 465.9,42.2 466.2,42.1 466.4,40.7 466.6,38.8 466.9,37.1 467.1,35.5 467.3,34.0 467.6,33.4 467.8,33.7 468.0,34.5 468.3,35.3 468.5,35.6 468.7,35.0 469.0,33.7 469.2,31.9 469.4,30.4 469.7,29.1 469.9,27.8 470.1,26.4 470.4,25.2 470.6,24.0 470.8,22.8 471.1,21.7 471.3,20.8 471.5,20.1 471.8,19.6 472.0,18.9 472.2,17.8 472.5,16.5 472.7,15.4 472.9,14.4 473.2,13.8 473.4,13.6 473.6,13.4 473.9,13.3 474.1,13.3 474.3,13.3 474.6,13.3 474.8,13.3 475.0,13.2 475.3,13.2 475.5,13.2 475.7,13.2 476.0,13.2 476.2,13.2 476.4,13.2 476.7,13.2 476.9,13.2 477.1,13.2 477.4,13.2 477.6,13.2 477.8,13.2 478.1,13.2 478.3,13.2 478.5,13.2 478.8,13.2 479.0,13.2 479.2,13.2 479.5,13.2 479.7,13.2 479.9,13.2 480.2,13.3 480.4,13.3 480.6,13.3 480.9,13.3 481.1,13.3 481.3,13.3 481.6,13.3 481.8,13.3 482.0,13.3 482.3,13.4 482.5,13.4 482.7,13.4 483.0,13.4 483.2,13.4 483.4,13.4 483.7,13.4 483.9,13.4 484.1,13.5 484.4,13.5 484.6,13.5 484.8,13.6 485.1,13.6 485.3,13.7 485.5,13.8 485.8,13.9 486.0,14.1 486.2,14.2 486.5,14.5 486.7,14.7 486.9,15.1 487.2,15.4 487.4,15.8 487.6,16.3 487.9,16.9 488.1,17.5 488.3,18.2 488.6,18.9 488.8,19.7 489.0,20.6 489.3,21.6 489.5,22.6 489.7,23.7 490.0,24.9 490.2,26.2 490.4,27.6 490.7,29.1 490.9,30.6 491.1,32.3 491.4,34.1 491.6,36.0 491.8,38.0 492.1,40.3 492.3,43.2 492.5,46.8 492.7,50.5 493.0,54.8 493.2,58.2 493.4,57.9 493.7,54.4 493.9,50.5 494.1,47.5 494.4,44.8 494.6,42.5 494.8,40.7 495.1,39.2 495.3,37.9 495.5,36.7 495.8,35.6 496.0,34.7 496.2,33.8 496.5,32.8 496.7,31.8 496.9,30.8 497.2,29.7 497.4,28.6 497.6,27.4 497.9,26.2 498.1,25.0 498.3,23.8 498.6,22.8 498.8,22.0 499.0,21.4 499.3,20.9 499.5,20.4 499.7,19.9 500.0,19.3 500.2,18.6 500.4,17.6 500.7,16.6 500.9,15.6 501.1,14.8 501.4,15.0 501.8,14.9 502.3,13.5 502.8,12.0 503.2,12.7 503.7,12.2 504.2,12.0 504.6,12.5 505.1,15.3 505.6,14.3 506.0,10.6 506.5,13.3 507.0,11.7 507.4,15.0 507.9,14.0 508.4,9.9 508.8,11.5 509.3,8.5 509.8,11.0 510.2,11.9 510.7,12.4 511.2,12.1 511.6,10.0 512.1,7.6 512.6,11.3 513.0,8.4 513.5,15.8 514.0,16.4 514.4,16.6 514.9,8.7 515.4,15.9 515.8,10.1 516.3,7.5 516.8,15.5 517.2,13.5 517.7,6.1 518.2,16.7 518.6,12.4 519.1,16.7 519.6,10.4 520.0,12.8 520.5,19.9 521.0,12.7 521.4,20.3 521.9,11.9 522.4,21.4 522.8,23.2 523.3,21.6 523.8,21.2 524.2,17.9 524.7,28.3 525.2,24.9 525.6,33.0 526.1,27.8 526.6,38.3 527.0,33.8 527.5,41.7 528.0,39.6 528.4,32.2 528.9,28.9 529.4,29.8 529.8,25.7 530.3,28.6 530.8,28.1 531.2,24.5 531.7,19.1 532.2,20.8 532.6,21.5 533.1,21.7 533.6,16.1 534.0,20.8" fill="none" stroke="#ff2448" stroke-width="1.0" stroke-dasharray="1.5 1.5"/>
<polyline points="445.4,29.7 445.6,28.6 445.9,27.5 446.1,26.7 446.3,25.6 446.6,24.4 446.8,23.5 447.0,22.2 447.3,21.2 447.5,20.1 447.7,19.6 448.0,18.6 448.2,18.0 448.4,16.9 448.7,16.3 448.9,16.2 449.1,15.2 449.4,14.9 449.6,14.9 449.8,14.8 450.1,15.0 450.3,15.2 450.5,15.3 450.8,16.2 451.0,17.0 451.2,18.1 451.5,19.5 451.7,20.8 451.9,22.6 452.2,24.3 452.4,26.3 452.6,28.3 452.9,30.4 453.1,32.5 453.3,34.9 453.6,37.2 453.8,39.1 454.0,41.3 454.3,43.2 454.5,44.7 454.7,45.9 455.0,45.9 455.2,44.1 455.4,41.8 455.7,38.3 455.9,34.6 456.1,30.9 456.4,28.4 456.6,25.6 456.8,23.9 457.1,23.0 457.3,21.8 457.5,20.9 457.8,21.8 458.0,22.7 458.2,24.6 458.5,26.9 458.7,28.8 458.9,31.4 459.2,34.7 459.4,38.1 459.6,41.4 459.9,44.9 460.1,48.8 460.3,53.0 460.6,56.7 460.8,60.6 461.0,64.6 461.3,68.4 461.5,72.9 461.7,76.4 462.0,79.9 462.2,83.1 462.4,84.8 462.7,86.6 462.9,86.6 463.1,81.8 463.4,73.6 463.6,62.5 463.8,54.1 464.1,47.6 464.3,43.6 464.5,41.7 464.8,39.7 465.0,39.5 465.2,39.8 465.5,40.3 465.7,41.4 465.9,42.4 466.2,41.8 466.4,40.9 466.6,38.9 466.9,36.9 467.1,35.6 467.3,34.2 467.6,33.6 467.8,34.0 468.0,34.4 468.3,35.4 468.5,35.5 468.7,35.1 469.0,33.7 469.2,31.7 469.4,30.4 469.7,29.0 469.9,27.5 470.1,26.6 470.4,25.4 470.6,23.7 470.8,22.6 471.1,21.8 471.3,20.9 471.5,20.0 471.8,19.3 472.0,19.1 472.2,17.5 472.5,16.3 472.7,15.4 472.9,14.5 473.2,14.1 473.4,13.9 473.6,13.1 473.9,13.5 474.1,13.2 474.3,13.4 474.6,13.1 474.8,13.2 475.0,13.4 475.3,13.4 475.5,13.1 475.7,13.5 476.0,13.4 476.2,13.2 476.4,13.0 476.7,13.1 476.9,13.3 477.1,12.9 477.4,13.4 477.6,13.5 477.8,13.3 478.1,13.2 478.3,13.4 478.5,13.4 478.8,13.3 479.0,13.2 479.2,13.4 479.5,13.3 479.7,13.0 479.9,13.0 480.2,13.2 480.4,13.2 480.6,13.2 480.9,13.5 481.1,13.6 481.3,13.6 481.6,13.1 481.8,13.2 482.0,13.1 482.3,13.6 482.5,13.3 482.7,13.4 483.0,13.2 483.2,13.5 483.4,13.1 483.7,13.7 483.9,13.4 484.1,13.3 484.4,13.2 484.6,13.4 484.8,13.4 485.1,13.5 485.3,13.5 485.5,13.9 485.8,13.8 486.0,13.8 486.2,14.0 486.5,14.5 486.7,14.6 486.9,14.8 487.2,15.4 487.4,15.7 487.6,16.4 487.9,16.8 488.1,17.4 488.3,18.4 488.6,18.8 488.8,19.4 489.0,20.4 489.3,21.4 489.5,22.7 489.7,23.6 490.0,24.9 490.2,26.3 490.4,27.4 490.7,29.3 490.9,30.5 491.1,32.6 491.4,34.1 491.6,36.0 491.8,38.2 492.1,40.2 492.3,43.1 492.5,46.5 492.7,49.5 493.0,53.0 493.2,55.7 493.4,55.2 493.7,52.4 493.9,49.9 494.1,47.5 494.4,44.5 494.6,42.4 494.8,40.7 495.1,39.0 495.3,38.0 495.5,36.6 495.8,35.8 496.0,34.7 496.2,33.6 496.5,32.6 496.7,31.6 496.9,30.9 497.2,29.6 497.4,28.7 497.6,27.7 497.9,26.2 498.1,24.8 498.3,23.6 498.6,22.7 498.8,21.8 499.0,21.5 499.3,21.1 499.5,20.4 499.7,20.0 500.0,19.5 500.2,18.6 500.4,17.5 500.7,16.6 500.9,15.7 501.1,14.6 501.4,14.0 501.6,13.8 501.8,13.7 502.1,13.5 502.3,12.9 502.5,13.2 502.8,12.7 503.0,12.7 503.2,12.8 503.5,12.4 503.7,12.9 503.9,12.8 504.2,12.6 504.4,12.9 504.6,12.4 504.9,12.7 505.1,12.8 505.3,12.9 505.6,12.5 505.8,12.6 506.0,12.5 506.3,12.5 506.5,12.4 506.7,12.3 507.0,12.5 507.2,12.8 507.4,12.6 507.7,12.8 507.9,12.9 508.1,12.6 508.4,12.5 508.6,12.8 508.8,12.7 509.1,12.7 509.3,12.5 509.5,12.6 509.8,12.5 510.0,12.4 510.2,12.6 510.5,12.4 510.7,12.3 510.9,12.8 511.2,12.3 511.4,12.5 511.6,12.8 511.9,12.6 512.1,12.5 512.3,12.3 512.6,12.7 512.8,12.5 513.0,12.4 513.3,12.4 513.5,12.3 513.7,12.6 514.0,12.5 514.2,12.8 514.4,12.5 514.7,12.5 514.9,12.6 515.1,12.6 515.4,12.9 515.6,12.5 515.8,12.5 516.1,12.6 516.3,12.9 516.5,12.8 516.8,13.1 517.0,12.8 517.2,12.9 517.5,13.2 517.7,13.4 517.9,13.3 518.2,13.3 518.4,13.2 518.6,13.5 518.9,13.9 519.1,13.6 519.3,14.2 519.6,13.9 519.8,14.4 520.0,14.5 520.3,14.4 520.5,15.0 520.7,15.2 521.0,15.2 521.2,15.3 521.4,15.5 521.7,15.9 521.9,16.2 522.1,16.8 522.4,17.0 522.6,18.0 522.8,18.5 523.1,18.9 523.3,19.8 523.5,20.2 523.8,21.0 524.0,21.9 524.2,22.6 524.5,23.7 524.7,24.8 524.9,25.8 525.2,26.4 525.4,27.4 525.6,28.8 525.9,29.6 526.1,30.8 526.3,32.4 526.6,33.7 526.8,35.3 527.0,36.4 527.3,37.3 527.5,37.3 527.7,36.7 528.0,34.7 528.2,33.6 528.4,32.5 528.7,31.1 528.9,30.1 529.1,29.1 529.4,28.1 529.6,27.6 529.8,26.6 530.1,26.0 530.3,25.1 530.5,24.6 530.8,24.4 531.0,23.8 531.2,23.5 531.5,22.9 531.7,22.2 531.9,21.7 532.2,21.6 532.4,21.2 532.6,20.9 532.9,20.2 533.1,19.7 533.3,19.7 533.6,19.0 533.8,19.0 534.0,18.5" fill="none" stroke="#00bd6e" stroke-width="1.0" stroke-dasharray="3.2 1.6"/>
<path d="M445.40 5.40H538.70V101.20" stroke="#6e6e6e" stroke-width="0.9" fill="none"/>
<path d="M445.40 5.40V101.20H538.70M445.40 99.20V103.20M468.73 99.20V103.20M492.05 99.20V103.20M515.38 99.20V103.20M538.70 99.20V103.20M450.06 101.20V102.60M454.73 101.20V102.60M459.39 101.20V102.60M464.06 101.20V102.60M473.39 101.20V102.60M478.06 101.20V102.60M482.72 101.20V102.60M487.38 101.20V102.60M496.72 101.20V102.60M501.38 101.20V102.60M506.05 101.20V102.60M510.71 101.20V102.60M520.04 101.20V102.60M524.71 101.20V102.60M529.37 101.20V102.60M534.04 101.20V102.60M442.90 101.20H447.40M442.90 53.30H447.40M442.90 5.40H447.40M444.00 91.62H445.40M444.00 82.04H445.40M444.00 72.46H445.40M444.00 62.88H445.40M444.00 43.72H445.40M444.00 34.14H445.40M444.00 24.56H445.40M444.00 14.98H445.40" stroke="#3c3c3c" stroke-width="0.8" fill="none"/>
<text x="439.00" y="103.84" font-size="7.1" fill="#262626" stroke="#262626" stroke-width="0.22" text-anchor="end" textLength="17.78" lengthAdjust="spacingAndGlyphs">0.001</text>
<text x="439.00" y="55.94" font-size="7.1" fill="#262626" stroke="#262626" stroke-width="0.22" text-anchor="end" textLength="17.78" lengthAdjust="spacingAndGlyphs">0.002</text>
<text x="439.00" y="8.04" font-size="7.1" fill="#262626" stroke="#262626" stroke-width="0.22" text-anchor="end" textLength="17.78" lengthAdjust="spacingAndGlyphs">0.003</text>
<text x="445.40" y="113.94" font-size="7.1" fill="#262626" stroke="#262626" stroke-width="0.22" text-anchor="middle" textLength="12.47" lengthAdjust="spacingAndGlyphs">450</text>
<text x="468.73" y="113.94" font-size="7.1" fill="#262626" stroke="#262626" stroke-width="0.22" text-anchor="middle" textLength="12.47" lengthAdjust="spacingAndGlyphs">550</text>
<text x="492.05" y="113.94" font-size="7.1" fill="#262626" stroke="#262626" stroke-width="0.22" text-anchor="middle" textLength="12.47" lengthAdjust="spacingAndGlyphs">650</text>
<text x="515.38" y="113.94" font-size="7.1" fill="#262626" stroke="#262626" stroke-width="0.22" text-anchor="middle" textLength="12.47" lengthAdjust="spacingAndGlyphs">750</text>
<text x="538.70" y="113.94" font-size="7.1" fill="#262626" stroke="#262626" stroke-width="0.22" text-anchor="middle" textLength="12.47" lengthAdjust="spacingAndGlyphs">850</text>
<text x="492.05" y="119.65" font-size="7.1" fill="#262626" stroke="#262626" stroke-width="0.22" text-anchor="middle" textLength="19.50" lengthAdjust="spacingAndGlyphs">λ (nm)</text>
<text x="0" y="0" font-size="7.1" fill="#262626" stroke="#262626" stroke-width="0.22" text-anchor="middle" transform="translate(427.54,43.80) rotate(-90)">R'</text>
<text x="449.40" y="96.05" font-size="7.1" fill="#262626" stroke="#262626" stroke-width="0.22" text-anchor="start" textLength="7.92" lengthAdjust="spacingAndGlyphs">(d)</text>
<rect x="473.80" y="76.80" width="64.30" height="22.40" fill="#fff"/>
<path d="M475.30 80.80H497.40" stroke="#6c6c6c" stroke-width="1.2" fill="none"/>
<text x="500.30" y="83.57" font-size="6.3" fill="#383838" stroke="#383838" stroke-width="0.18" text-anchor="start" textLength="34.17" lengthAdjust="spacingAndGlyphs">AUC<tspan dy="-0.7">_</tspan><tspan dy="0.7">EO</tspan><tspan dy="-0.7">_</tspan><tspan dy="0.7">Ref</tspan></text>
<path d="M475.30 88.40H497.40" stroke="#ff2448" stroke-width="1.05" stroke-dasharray="1.4 1.65" fill="none"/>
<text x="500.30" y="91.17" font-size="6.3" fill="#ff2020" stroke="#ff2020" stroke-width="0.18" text-anchor="start" textLength="32.03" lengthAdjust="spacingAndGlyphs">AUC<tspan dy="-0.7">_</tspan><tspan dy="0.7">EO</tspan><tspan dy="-0.7">_</tspan><tspan dy="0.7">Xe</tspan></text>
<path d="M475.30 95.70H497.40" stroke="#00bd6e" stroke-width="1.15" stroke-dasharray="3.3 1.5" fill="none"/>
<text x="500.30" y="98.47" font-size="6.3" fill="#00b860" stroke="#00b860" stroke-width="0.18" text-anchor="start" textLength="32.64" lengthAdjust="spacingAndGlyphs">AUC<tspan dy="-0.7">_</tspan><tspan dy="0.7">EO</tspan><tspan dy="-0.7">_</tspan><tspan dy="0.7">TH</tspan></text>
<path d="M50.65 138.90V234.10M75.90 138.90V234.10M101.15 138.90V234.10M25.40 215.06H126.40M25.40 196.02H126.40M25.40 176.98H126.40M25.40 157.94H126.40" stroke="#f0f0f0" stroke-width="0.6" fill="none"/>
<polyline points="25.4,162.4 25.7,161.6 25.9,160.9 26.2,160.1 26.4,159.3 26.7,158.4 26.9,157.5 27.2,156.7 27.4,156.0 27.7,155.2 27.9,154.5 28.2,153.9 28.4,153.3 28.7,152.8 28.9,152.3 29.2,151.9 29.4,151.6 29.7,151.3 29.9,151.2 30.2,151.1 30.4,151.1 30.7,151.1 31.0,151.4 31.2,151.9 31.5,152.6 31.7,153.4 32.0,154.5 32.2,155.6 32.5,157.0 32.7,158.4 33.0,159.9 33.2,161.4 33.5,162.9 33.7,164.6 34.0,166.3 34.2,168.0 34.5,169.8 34.7,171.5 35.0,172.8 35.2,173.9 35.5,174.7 35.8,174.6 36.0,173.3 36.3,171.4 36.5,169.1 36.8,166.1 37.0,163.5 37.3,161.4 37.5,159.5 37.8,158.1 38.0,157.1 38.3,156.2 38.5,155.9 38.8,156.3 39.0,157.3 39.3,158.5 39.5,160.0 39.8,161.8 40.0,163.8 40.3,166.1 40.5,168.6 40.8,171.3 41.1,174.2 41.3,177.1 41.6,180.0 41.8,182.8 42.1,185.8 42.3,188.8 42.6,192.0 42.8,195.2 43.1,198.0 43.3,200.6 43.6,202.9 43.8,204.5 44.1,205.6 44.3,205.8 44.6,201.9 44.8,195.8 45.1,187.3 45.3,180.9 45.6,176.2 45.9,173.1 46.1,171.4 46.4,170.2 46.6,169.7 46.9,170.0 47.1,170.7 47.4,171.4 47.6,171.9 47.9,171.8 48.1,170.8 48.4,169.3 48.6,168.0 48.9,166.8 49.1,165.7 49.4,165.2 49.6,165.5 49.9,166.1 50.1,166.6 50.4,166.9 50.6,166.5 50.9,165.4 51.2,164.1 51.4,162.9 51.7,161.9 51.9,160.9 52.2,159.9 52.4,159.0 52.7,158.1 52.9,157.1 53.2,156.3 53.4,155.6 53.7,155.1 53.9,154.7 54.2,154.2 54.4,153.3 54.7,152.3 54.9,151.5 55.2,150.8 55.4,150.3 55.7,150.1 56.0,150.0 56.2,149.9 56.5,149.9 56.7,149.9 57.0,149.9 57.2,149.9 57.5,149.9 57.7,149.9 58.0,149.9 58.2,149.9 58.5,149.8 58.7,149.8 59.0,149.8 59.2,149.8 59.5,149.8 59.7,149.8 60.0,149.8 60.2,149.8 60.5,149.8 60.7,149.8 61.0,149.8 61.3,149.8 61.5,149.8 61.8,149.8 62.0,149.8 62.3,149.9 62.5,149.9 62.8,149.9 63.0,149.9 63.3,149.9 63.5,149.9 63.8,149.9 64.0,149.9 64.3,149.9 64.5,149.9 64.8,149.9 65.0,150.0 65.3,150.0 65.5,150.0 65.8,150.0 66.1,150.0 66.3,150.0 66.6,150.0 66.8,150.0 67.1,150.0 67.3,150.0 67.6,150.1 67.8,150.1 68.1,150.1 68.3,150.2 68.6,150.2 68.8,150.3 69.1,150.4 69.3,150.5 69.6,150.6 69.8,150.8 70.1,151.0 70.3,151.3 70.6,151.5 70.8,151.8 71.1,152.2 71.4,152.6 71.6,153.1 71.9,153.6 72.1,154.2 72.4,154.8 72.6,155.5 72.9,156.2 73.1,157.0 73.4,157.8 73.6,158.8 73.9,159.8 74.1,160.8 74.4,161.9 74.6,163.1 74.9,164.4 75.1,165.8 75.4,167.2 75.6,168.7 75.9,170.5 76.2,172.6 76.4,175.2 76.7,177.6 76.9,180.1 77.2,182.0 77.4,181.7 77.7,179.8 77.9,177.6 78.2,175.8 78.4,173.9 78.7,172.2 78.9,170.8 79.2,169.6 79.4,168.6 79.7,167.8 79.9,166.9 80.2,166.2 80.4,165.5 80.7,164.8 81.0,164.0 81.2,163.2 81.5,162.4 81.7,161.5 82.0,160.7 82.2,159.8 82.5,158.8 82.7,157.9 83.0,157.1 83.2,156.6 83.5,156.1 83.7,155.7 84.0,155.3 84.2,154.9 84.5,154.5 84.7,153.9 85.0,153.2 85.2,152.4 85.5,151.6 85.7,151.1 86.0,150.7 86.3,150.3 86.5,150.0 86.8,149.9 87.0,149.8 87.3,149.7 87.5,149.6 87.8,149.5 88.0,149.4 88.3,149.4 88.5,149.4 88.8,149.4 89.0,149.4 89.3,149.4 89.5,149.4 89.8,149.4 90.0,149.4 90.3,149.4 90.5,149.4 90.8,149.4 91.1,149.4 91.3,149.4 91.6,149.4 91.8,149.4 92.1,149.4 92.3,149.4 92.6,149.4 92.8,149.4 93.1,149.4 93.3,149.4 93.6,149.4 93.8,149.4 94.1,149.4 94.3,149.4 94.6,149.4 94.8,149.4 95.1,149.4 95.3,149.4 95.6,149.4 95.8,149.4 96.1,149.4 96.4,149.4 96.6,149.4 96.9,149.4 97.1,149.4 97.4,149.4 97.6,149.4 97.9,149.4 98.1,149.4 98.4,149.4 98.6,149.4 98.9,149.4 99.1,149.4 99.4,149.4 99.6,149.4 99.9,149.4 100.1,149.4 100.4,149.4 100.6,149.5 100.9,149.5 101.2,149.5 101.4,149.5 101.7,149.6 101.9,149.6 102.2,149.6 102.4,149.6 102.7,149.7 102.9,149.7 103.2,149.8 103.4,149.8 103.7,149.8 103.9,149.9 104.2,149.9 104.4,150.0 104.7,150.0 104.9,150.1 105.2,150.3 105.4,150.4 105.7,150.5 105.9,150.6 106.2,150.7 106.5,150.9 106.7,151.0 107.0,151.2 107.2,151.4 107.5,151.6 107.7,151.8 108.0,152.0 108.2,152.3 108.5,152.6 108.7,153.0 109.0,153.3 109.2,153.7 109.5,154.2 109.7,154.7 110.0,155.3 110.2,155.9 110.5,156.5 110.7,157.2 111.0,157.9 111.2,158.6 111.5,159.3 111.8,160.1 112.0,160.8 112.3,161.6 112.5,162.5 112.8,163.5 113.0,164.5 113.3,165.5 113.5,166.5 113.8,167.5 114.0,168.2 114.3,168.2 114.5,167.5 114.8,166.4 115.0,165.4 115.3,164.5 115.5,163.6 115.8,162.8 116.0,162.0 116.3,161.2 116.6,160.6 116.8,160.1 117.1,159.6 117.3,159.1 117.6,158.7 117.8,158.3 118.1,157.9 118.3,157.5 118.6,157.2 118.8,156.8 119.1,156.5 119.3,156.2 119.6,155.9 119.8,155.6 120.1,155.3 120.3,154.9 120.6,154.7 120.8,154.4 121.1,154.1 121.3,153.8" fill="none" stroke="#262626" stroke-width="0.85"/>
<polyline points="25.4,162.4 25.7,161.6 25.9,160.9 26.2,160.1 26.4,159.3 26.7,158.4 26.9,157.5 27.2,156.7 27.4,156.0 27.7,155.2 27.9,154.5 28.2,153.9 28.4,153.3 28.7,152.8 28.9,152.3 29.2,151.9 29.4,151.6 29.7,151.3 29.9,151.2 30.2,151.1 30.4,151.1 30.7,151.1 31.0,151.4 31.2,151.9 31.5,152.6 31.7,153.4 32.0,154.5 32.2,155.6 32.5,157.0 32.7,158.4 33.0,159.9 33.2,161.4 33.5,162.9 33.7,164.6 34.0,166.3 34.2,168.0 34.5,169.8 34.7,171.5 35.0,172.8 35.2,173.9 35.5,174.7 35.8,174.6 36.0,173.3 36.3,171.4 36.5,169.1 36.8,166.1 37.0,163.5 37.3,161.4 37.5,159.5 37.8,158.1 38.0,157.1 38.3,156.2 38.5,155.9 38.8,156.3 39.0,157.3 39.3,158.5 39.5,160.0 39.8,161.8 40.0,163.8 40.3,166.1 40.5,168.6 40.8,171.3 41.1,174.2 41.3,177.1 41.6,180.0 41.8,182.8 42.1,185.8 42.3,188.8 42.6,192.0 42.8,195.2 43.1,198.0 43.3,200.6 43.6,202.9 43.8,204.5 44.1,205.6 44.3,205.8 44.6,201.9 44.8,195.8 45.1,187.3 45.3,180.9 45.6,176.2 45.9,173.1 46.1,171.4 46.4,170.2 46.6,169.7 46.9,170.0 47.1,170.7 47.4,171.4 47.6,171.9 47.9,171.8 48.1,170.8 48.4,169.3 48.6,168.0 48.9,166.8 49.1,165.7 49.4,165.2 49.6,165.5 49.9,166.1 50.1,166.6 50.4,166.9 50.6,166.5 50.9,165.4 51.2,164.1 51.4,162.9 51.7,161.9 51.9,160.9 52.2,159.9 52.4,159.0 52.7,158.1 52.9,157.1 53.2,156.3 53.4,155.6 53.7,155.1 53.9,154.7 54.2,154.2 54.4,153.3 54.7,152.3 54.9,151.5 55.2,150.8 55.4,150.3 55.7,150.1 56.0,150.0 56.2,149.9 56.5,149.9 56.7,149.9 57.0,149.9 57.2,149.9 57.5,149.9 57.7,149.9 58.0,149.9 58.2,149.9 58.5,149.8 58.7,149.8 59.0,149.8 59.2,149.8 59.5,149.8 59.7,149.8 60.0,149.8 60.2,149.8 60.5,149.8 60.7,149.8 61.0,149.8 61.3,149.8 61.5,149.8 61.8,149.8 62.0,149.8 62.3,149.9 62.5,149.9 62.8,149.9 63.0,149.9 63.3,149.9 63.5,149.9 63.8,149.9 64.0,149.9 64.3,149.9 64.5,149.9 64.8,149.9 65.0,150.0 65.3,150.0 65.5,150.0 65.8,150.0 66.1,150.0 66.3,150.0 66.6,150.0 66.8,150.0 67.1,150.0 67.3,150.0 67.6,150.1 67.8,150.1 68.1,150.1 68.3,150.2 68.6,150.2 68.8,150.3 69.1,150.4 69.3,150.5 69.6,150.6 69.8,150.8 70.1,151.0 70.3,151.3 70.6,151.5 70.8,151.8 71.1,152.2 71.4,152.6 71.6,153.1 71.9,153.6 72.1,154.2 72.4,154.8 72.6,155.5 72.9,156.2 73.1,157.0 73.4,157.8 73.6,158.8 73.9,159.8 74.1,160.8 74.4,161.9 74.6,163.1 74.9,164.4 75.1,165.8 75.4,167.2 75.6,168.7 75.9,170.5 76.2,172.7 76.4,175.4 76.7,178.3 76.9,181.5 77.2,184.1 77.4,183.9 77.7,181.2 77.9,178.3 78.2,176.0 78.4,173.9 78.7,172.2 78.9,170.8 79.2,169.6 79.4,168.6 79.7,167.8 79.9,166.9 80.2,166.2 80.4,165.5 80.7,164.8 81.0,164.0 81.2,163.2 81.5,162.4 81.7,161.5 82.0,160.7 82.2,159.8 82.5,158.8 82.7,157.9 83.0,157.1 83.2,156.6 83.5,156.1 83.7,155.7 84.0,155.3 84.2,154.9 84.5,154.5 84.7,153.9 85.0,153.2 85.2,152.4 85.5,151.6 85.7,151.1 86.0,151.2 86.5,151.1 87.0,150.0 87.5,149.0 88.0,149.5 88.5,149.1 89.0,149.0 89.5,149.3 90.0,151.4 90.5,150.6 91.1,147.8 91.6,149.9 92.1,148.7 92.6,151.2 93.1,150.4 93.6,147.3 94.1,148.5 94.6,146.3 95.1,148.2 95.6,148.8 96.1,149.2 96.6,149.0 97.1,147.4 97.6,145.5 98.1,148.4 98.6,146.2 99.1,151.8 99.6,152.3 100.1,152.4 100.6,146.4 101.2,151.9 101.7,147.5 102.2,145.5 102.7,151.6 103.2,150.0 103.7,144.4 104.2,152.5 104.7,149.2 105.2,152.5 105.7,147.7 106.2,149.5 106.7,155.0 107.2,149.5 107.7,155.3 108.2,148.9 108.7,156.1 109.2,157.5 109.7,156.3 110.2,155.9 110.7,153.4 111.2,161.3 111.8,158.7 112.3,164.9 112.8,161.0 113.3,168.9 113.8,165.6 114.3,171.5 114.8,169.9 115.3,164.3 115.8,161.8 116.3,162.5 116.8,159.3 117.3,161.6 117.8,161.2 118.3,158.4 118.8,154.3 119.3,155.6 119.8,156.2 120.3,156.3 120.8,152.0 121.3,155.6" fill="none" stroke="#ff2448" stroke-width="1.0" stroke-dasharray="1.5 1.5"/>
<polyline points="25.4,162.4 25.7,161.6 25.9,160.7 26.2,160.1 26.4,159.3 26.7,158.4 26.9,157.7 27.2,156.7 27.4,155.9 27.7,155.1 27.9,154.7 28.2,154.0 28.4,153.5 28.7,152.6 28.9,152.2 29.2,152.1 29.4,151.4 29.7,151.1 29.9,151.1 30.2,151.1 30.4,151.2 30.7,151.3 31.0,151.4 31.2,152.1 31.5,152.7 31.7,153.6 32.0,154.7 32.2,155.7 32.5,157.0 32.7,158.3 33.0,159.9 33.2,161.3 33.5,162.9 33.7,164.5 34.0,166.4 34.2,168.1 34.5,169.6 34.7,171.3 35.0,172.7 35.2,173.8 35.5,174.8 35.8,174.7 36.0,173.4 36.3,171.6 36.5,168.9 36.8,166.2 37.0,163.4 37.3,161.5 37.5,159.3 37.8,158.0 38.0,157.3 38.3,156.4 38.5,155.7 38.8,156.4 39.0,157.1 39.3,158.5 39.5,160.2 39.8,161.8 40.0,163.7 40.3,166.2 40.5,168.8 40.8,171.4 41.1,174.0 41.3,177.0 41.6,180.1 41.8,183.0 42.1,186.0 42.3,189.0 42.6,191.9 42.8,195.3 43.1,198.0 43.3,200.6 43.6,203.1 43.8,204.4 44.1,205.7 44.3,205.7 44.6,202.1 44.8,195.8 45.1,187.4 45.3,181.0 45.6,176.0 45.9,173.0 46.1,171.5 46.4,170.0 46.6,169.9 46.9,170.1 47.1,170.5 47.4,171.3 47.6,172.1 47.9,171.6 48.1,170.9 48.4,169.5 48.6,167.9 48.9,166.9 49.1,165.8 49.4,165.4 49.6,165.7 49.9,166.0 50.1,166.8 50.4,166.9 50.6,166.5 50.9,165.4 51.2,163.9 51.4,163.0 51.7,161.9 51.9,160.8 52.2,160.1 52.4,159.1 52.7,157.9 52.9,157.0 53.2,156.4 53.4,155.7 53.7,155.0 53.9,154.5 54.2,154.3 54.4,153.1 54.7,152.2 54.9,151.5 55.2,150.8 55.4,150.5 55.7,150.3 56.0,149.8 56.2,150.1 56.5,149.8 56.7,150.0 57.0,149.8 57.2,149.8 57.5,150.0 57.7,150.0 58.0,149.8 58.2,150.0 58.5,150.0 58.7,149.8 59.0,149.7 59.2,149.8 59.5,149.9 59.7,149.6 60.0,150.0 60.2,150.0 60.5,149.9 60.7,149.8 61.0,150.0 61.3,150.0 61.5,149.9 61.8,149.8 62.0,150.0 62.3,149.9 62.5,149.7 62.8,149.7 63.0,149.8 63.3,149.8 63.5,149.9 63.8,150.1 64.0,150.1 64.3,150.1 64.5,149.8 64.8,149.9 65.0,149.7 65.3,150.2 65.5,149.9 65.8,150.0 66.1,149.9 66.3,150.1 66.6,149.8 66.8,150.2 67.1,150.0 67.3,149.9 67.6,149.9 67.8,150.0 68.1,150.0 68.3,150.0 68.6,150.1 68.8,150.4 69.1,150.3 69.3,150.3 69.6,150.5 69.8,150.8 70.1,150.9 70.3,151.1 70.6,151.5 70.8,151.8 71.1,152.3 71.4,152.6 71.6,153.1 71.9,153.8 72.1,154.1 72.4,154.6 72.6,155.3 72.9,156.1 73.1,157.1 73.4,157.7 73.6,158.7 73.9,159.8 74.1,160.7 74.4,162.1 74.6,163.0 74.9,164.6 75.1,165.7 75.4,167.2 75.6,168.9 75.9,170.4 76.2,172.6 76.4,175.2 76.7,177.5 76.9,180.2 77.2,182.2 77.4,181.8 77.7,179.7 77.9,177.8 78.2,175.9 78.4,173.7 78.7,172.1 78.9,170.8 79.2,169.5 79.4,168.7 79.7,167.7 79.9,167.1 80.2,166.2 80.4,165.4 80.7,164.6 81.0,163.9 81.2,163.3 81.5,162.4 81.7,161.6 82.0,160.8 82.2,159.8 82.5,158.7 82.7,157.8 83.0,157.0 83.2,156.4 83.5,156.2 83.7,155.8 84.0,155.3 84.2,155.0 84.5,154.6 84.7,154.0 85.0,153.2 85.2,152.4 85.5,151.7 85.7,150.9 86.0,150.4 86.3,150.3 86.5,150.2 86.8,150.1 87.0,149.6 87.3,149.9 87.5,149.5 87.8,149.4 88.0,149.5 88.3,149.3 88.5,149.6 88.8,149.5 89.0,149.4 89.3,149.6 89.5,149.2 89.8,149.5 90.0,149.5 90.3,149.6 90.5,149.3 90.8,149.4 91.1,149.3 91.3,149.3 91.6,149.2 91.8,149.2 92.1,149.3 92.3,149.5 92.6,149.4 92.8,149.5 93.1,149.6 93.3,149.4 93.6,149.3 93.8,149.5 94.1,149.5 94.3,149.4 94.6,149.3 94.8,149.4 95.1,149.3 95.3,149.3 95.6,149.4 95.8,149.2 96.1,149.2 96.4,149.6 96.6,149.2 96.9,149.3 97.1,149.5 97.4,149.4 97.6,149.3 97.9,149.2 98.1,149.4 98.4,149.3 98.6,149.2 98.9,149.2 99.1,149.2 99.4,149.4 99.6,149.3 99.9,149.5 100.1,149.3 100.4,149.3 100.6,149.4 100.9,149.4 101.2,149.6 101.4,149.3 101.7,149.3 101.9,149.4 102.2,149.6 102.4,149.5 102.7,149.8 102.9,149.5 103.2,149.6 103.4,149.9 103.7,150.0 103.9,149.9 104.2,149.9 104.4,149.9 104.7,150.1 104.9,150.4 105.2,150.1 105.4,150.6 105.7,150.4 105.9,150.8 106.2,150.8 106.5,150.7 106.7,151.2 107.0,151.3 107.2,151.4 107.5,151.5 107.7,151.6 108.0,151.9 108.2,152.1 108.5,152.6 108.7,152.8 109.0,153.5 109.2,153.9 109.5,154.2 109.7,154.8 110.0,155.2 110.2,155.8 110.5,156.5 110.7,157.0 111.0,157.9 111.2,158.7 111.5,159.4 111.8,159.9 112.0,160.6 112.3,161.7 112.5,162.3 112.8,163.2 113.0,164.5 113.3,165.5 113.5,166.6 113.8,167.5 114.0,168.2 114.3,168.2 114.5,167.7 114.8,166.2 115.0,165.4 115.3,164.6 115.5,163.5 115.8,162.7 116.0,162.0 116.3,161.2 116.6,160.8 116.8,160.1 117.1,159.6 117.3,158.9 117.6,158.5 117.8,158.4 118.1,157.9 118.3,157.7 118.6,157.2 118.8,156.7 119.1,156.3 119.3,156.2 119.6,156.0 119.8,155.7 120.1,155.2 120.3,154.8 120.6,154.8 120.8,154.2 121.1,154.3 121.3,153.9" fill="none" stroke="#00bd6e" stroke-width="1.0" stroke-dasharray="3.2 1.6"/>
<path d="M25.40 138.90H126.40V234.10" stroke="#6e6e6e" stroke-width="0.9" fill="none"/>
<path d="M25.40 138.90V234.10H126.40M25.40 232.10V236.10M50.65 232.10V236.10M75.90 232.10V236.10M101.15 232.10V236.10M126.40 232.10V236.10M30.45 234.10V235.50M35.50 234.10V235.50M40.55 234.10V235.50M45.60 234.10V235.50M55.70 234.10V235.50M60.75 234.10V235.50M65.80 234.10V235.50M70.85 234.10V235.50M80.95 234.10V235.50M86.00 234.10V235.50M91.05 234.10V235.50M96.10 234.10V235.50M106.20 234.10V235.50M111.25 234.10V235.50M116.30 234.10V235.50M121.35 234.10V235.50M22.90 234.10H27.40M22.90 215.06H27.40M22.90 196.02H27.40M22.90 176.98H27.40M22.90 157.94H27.40M22.90 138.90H27.40M24.00 229.34H25.40M24.00 224.58H25.40M24.00 219.82H25.40M24.00 210.30H25.40M24.00 205.54H25.40M24.00 200.78H25.40M24.00 191.26H25.40M24.00 186.50H25.40M24.00 181.74H25.40M24.00 172.22H25.40M24.00 167.46H25.40M24.00 162.70H25.40M24.00 153.18H25.40M24.00 148.42H25.40M24.00 143.66H25.40" stroke="#3c3c3c" stroke-width="0.8" fill="none"/>
<text x="19.00" y="236.74" font-size="7.1" fill="#262626" stroke="#262626" stroke-width="0.22" text-anchor="end" textLength="9.87" lengthAdjust="spacingAndGlyphs">0.2</text>
<text x="19.00" y="217.70" font-size="7.1" fill="#262626" stroke="#262626" stroke-width="0.22" text-anchor="end" textLength="9.87" lengthAdjust="spacingAndGlyphs">0.4</text>
<text x="19.00" y="198.66" font-size="7.1" fill="#262626" stroke="#262626" stroke-width="0.22" text-anchor="end" textLength="9.87" lengthAdjust="spacingAndGlyphs">0.6</text>
<text x="19.00" y="179.62" font-size="7.1" fill="#262626" stroke="#262626" stroke-width="0.22" text-anchor="end" textLength="9.87" lengthAdjust="spacingAndGlyphs">0.8</text>
<text x="19.00" y="160.58" font-size="7.1" fill="#262626" stroke="#262626" stroke-width="0.22" text-anchor="end" textLength="9.87" lengthAdjust="spacingAndGlyphs">1.0</text>
<text x="19.00" y="141.54" font-size="7.1" fill="#262626" stroke="#262626" stroke-width="0.22" text-anchor="end" textLength="9.87" lengthAdjust="spacingAndGlyphs">1.2</text>
<text x="25.40" y="246.84" font-size="7.1" fill="#262626" stroke="#262626" stroke-width="0.22" text-anchor="middle" textLength="12.47" lengthAdjust="spacingAndGlyphs">450</text>
<text x="50.65" y="246.84" font-size="7.1" fill="#262626" stroke="#262626" stroke-width="0.22" text-anchor="middle" textLength="12.47" lengthAdjust="spacingAndGlyphs">550</text>
<text x="75.90" y="246.84" font-size="7.1" fill="#262626" stroke="#262626" stroke-width="0.22" text-anchor="middle" textLength="12.47" lengthAdjust="spacingAndGlyphs">650</text>
<text x="101.15" y="246.84" font-size="7.1" fill="#262626" stroke="#262626" stroke-width="0.22" text-anchor="middle" textLength="12.47" lengthAdjust="spacingAndGlyphs">750</text>
<text x="126.40" y="246.84" font-size="7.1" fill="#262626" stroke="#262626" stroke-width="0.22" text-anchor="middle" textLength="12.47" lengthAdjust="spacingAndGlyphs">850</text>
<text x="75.90" y="252.55" font-size="7.1" fill="#262626" stroke="#262626" stroke-width="0.22" text-anchor="middle" textLength="19.50" lengthAdjust="spacingAndGlyphs">λ (nm)</text>
<text x="0" y="0" font-size="7.1" fill="#262626" stroke="#262626" stroke-width="0.22" text-anchor="middle" transform="translate(7.84,187.50) rotate(-90)">R'</text>
<text x="29.70" y="227.55" font-size="7.1" fill="#262626" stroke="#262626" stroke-width="0.22" text-anchor="start" textLength="7.73" lengthAdjust="spacingAndGlyphs">(e)</text>
<rect x="58.60" y="210.00" width="67.20" height="22.40" fill="#fff"/>
<path d="M60.10 214.00H83.60" stroke="#6c6c6c" stroke-width="1.2" fill="none"/>
<text x="86.20" y="216.77" font-size="6.3" fill="#383838" stroke="#383838" stroke-width="0.18" text-anchor="start" textLength="32.64" lengthAdjust="spacingAndGlyphs">Ave<tspan dy="-0.7">_</tspan><tspan dy="0.7">EO</tspan><tspan dy="-0.7">_</tspan><tspan dy="0.7">Ref</tspan></text>
<path d="M60.10 221.80H83.60" stroke="#ff2448" stroke-width="1.05" stroke-dasharray="1.4 1.65" fill="none"/>
<text x="86.20" y="224.57" font-size="6.3" fill="#ff2020" stroke="#ff2020" stroke-width="0.18" text-anchor="start" textLength="30.50" lengthAdjust="spacingAndGlyphs">Ave<tspan dy="-0.7">_</tspan><tspan dy="0.7">EO</tspan><tspan dy="-0.7">_</tspan><tspan dy="0.7">Xe</tspan></text>
<path d="M60.10 228.90H83.60" stroke="#00bd6e" stroke-width="1.15" stroke-dasharray="3.3 1.5" fill="none"/>
<text x="86.20" y="231.67" font-size="6.3" fill="#00b860" stroke="#00b860" stroke-width="0.18" text-anchor="start" textLength="31.10" lengthAdjust="spacingAndGlyphs">Ave<tspan dy="-0.7">_</tspan><tspan dy="0.7">EO</tspan><tspan dy="-0.7">_</tspan><tspan dy="0.7">TH</tspan></text>
<path d="M193.30 137.50V234.10M217.30 137.50V234.10M241.30 137.50V234.10M169.30 220.30H265.30M169.30 206.50H265.30M169.30 192.70H265.30M169.30 178.90H265.30M169.30 165.10H265.30M169.30 151.30H265.30" stroke="#f0f0f0" stroke-width="0.6" fill="none"/>
<polyline points="169.3,166.8 169.5,166.1 169.8,165.3 170.0,164.5 170.3,163.6 170.5,162.7 170.7,161.8 171.0,160.9 171.2,160.1 171.5,159.3 171.7,158.6 171.9,158.0 172.2,157.4 172.4,156.8 172.7,156.3 172.9,155.9 173.1,155.6 173.4,155.3 173.6,155.1 173.9,155.1 174.1,155.0 174.3,155.1 174.6,155.4 174.8,155.9 175.1,156.6 175.3,157.5 175.5,158.6 175.8,159.8 176.0,161.2 176.3,162.7 176.5,164.2 176.7,165.8 177.0,167.4 177.2,169.2 177.5,171.0 177.7,172.8 177.9,174.6 178.2,176.4 178.4,177.8 178.7,178.9 178.9,179.7 179.1,179.7 179.4,178.2 179.6,176.3 179.9,173.8 180.1,170.8 180.3,168.0 180.6,165.8 180.8,163.9 181.1,162.4 181.3,161.3 181.5,160.4 181.8,160.0 182.0,160.5 182.3,161.5 182.5,162.8 182.7,164.4 183.0,166.3 183.2,168.4 183.5,170.8 183.7,173.4 183.9,176.2 184.2,179.2 184.4,182.2 184.7,185.2 184.9,188.3 185.1,191.3 185.4,194.5 185.6,197.9 185.9,201.2 186.1,204.1 186.3,206.9 186.6,209.3 186.8,210.9 187.1,212.0 187.3,212.3 187.5,208.3 187.8,201.8 188.0,192.9 188.3,186.2 188.5,181.4 188.7,178.1 189.0,176.3 189.2,175.0 189.5,174.5 189.7,174.8 189.9,175.5 190.2,176.3 190.4,176.8 190.7,176.7 190.9,175.7 191.1,174.1 191.4,172.8 191.6,171.5 191.9,170.3 192.1,169.8 192.3,170.1 192.6,170.7 192.8,171.3 193.1,171.6 193.3,171.1 193.5,170.0 193.8,168.7 194.0,167.4 194.3,166.4 194.5,165.3 194.7,164.3 195.0,163.3 195.2,162.3 195.5,161.4 195.7,160.5 195.9,159.7 196.2,159.2 196.4,158.8 196.7,158.3 196.9,157.4 197.1,156.3 197.4,155.5 197.6,154.7 197.9,154.2 198.1,154.0 198.3,153.9 198.6,153.8 198.8,153.8 199.1,153.8 199.3,153.8 199.5,153.8 199.8,153.8 200.0,153.8 200.3,153.7 200.5,153.7 200.7,153.7 201.0,153.7 201.2,153.7 201.5,153.7 201.7,153.7 201.9,153.7 202.2,153.7 202.4,153.7 202.7,153.7 202.9,153.7 203.1,153.7 203.4,153.7 203.6,153.7 203.9,153.7 204.1,153.7 204.3,153.7 204.6,153.7 204.8,153.8 205.1,153.8 205.3,153.8 205.5,153.8 205.8,153.8 206.0,153.8 206.3,153.8 206.5,153.8 206.7,153.8 207.0,153.8 207.2,153.8 207.5,153.9 207.7,153.9 207.9,153.9 208.2,153.9 208.4,153.9 208.7,153.9 208.9,153.9 209.1,153.9 209.4,153.9 209.6,154.0 209.9,154.0 210.1,154.1 210.3,154.1 210.6,154.2 210.8,154.3 211.1,154.4 211.3,154.5 211.5,154.7 211.8,155.0 212.0,155.2 212.3,155.5 212.5,155.8 212.7,156.2 213.0,156.6 213.2,157.1 213.5,157.7 213.7,158.3 213.9,158.9 214.2,159.6 214.4,160.4 214.7,161.2 214.9,162.1 215.1,163.1 215.4,164.1 215.6,165.2 215.9,166.4 216.1,167.6 216.3,169.0 216.6,170.4 216.8,171.9 217.1,173.5 217.3,175.3 217.5,177.6 217.8,180.3 218.0,182.8 218.3,185.4 218.5,187.3 218.7,187.1 219.0,185.1 219.2,182.8 219.5,180.9 219.7,178.9 219.9,177.1 220.2,175.6 220.4,174.4 220.7,173.4 220.9,172.5 221.1,171.6 221.4,170.8 221.6,170.1 221.9,169.4 222.1,168.6 222.3,167.7 222.6,166.9 222.8,166.0 223.1,165.1 223.3,164.1 223.5,163.1 223.8,162.2 224.0,161.4 224.3,160.8 224.5,160.3 224.7,159.9 225.0,159.5 225.2,159.1 225.5,158.6 225.7,158.0 225.9,157.2 226.2,156.4 226.4,155.6 226.7,155.0 226.9,154.6 227.1,154.2 227.4,153.9 227.6,153.8 227.9,153.6 228.1,153.5 228.3,153.4 228.6,153.3 228.8,153.3 229.1,153.2 229.3,153.2 229.5,153.2 229.8,153.2 230.0,153.2 230.3,153.2 230.5,153.2 230.7,153.2 231.0,153.2 231.2,153.2 231.5,153.2 231.7,153.2 231.9,153.2 232.2,153.2 232.4,153.2 232.7,153.2 232.9,153.2 233.1,153.2 233.4,153.2 233.6,153.2 233.9,153.2 234.1,153.2 234.3,153.2 234.6,153.2 234.8,153.2 235.1,153.2 235.3,153.2 235.5,153.2 235.8,153.2 236.0,153.2 236.3,153.2 236.5,153.2 236.7,153.2 237.0,153.2 237.2,153.2 237.5,153.2 237.7,153.2 237.9,153.2 238.2,153.2 238.4,153.2 238.7,153.2 238.9,153.2 239.1,153.2 239.4,153.2 239.6,153.2 239.9,153.3 240.1,153.3 240.3,153.3 240.6,153.3 240.8,153.3 241.1,153.3 241.3,153.4 241.5,153.4 241.8,153.4 242.0,153.5 242.3,153.5 242.5,153.5 242.7,153.6 243.0,153.6 243.2,153.6 243.5,153.7 243.7,153.7 243.9,153.8 244.2,153.8 244.4,153.9 244.7,153.9 244.9,154.0 245.1,154.2 245.4,154.3 245.6,154.4 245.9,154.5 246.1,154.7 246.3,154.8 246.6,155.0 246.8,155.1 247.1,155.3 247.3,155.5 247.5,155.7 247.8,156.0 248.0,156.3 248.3,156.6 248.5,157.0 248.7,157.4 249.0,157.8 249.2,158.3 249.5,158.9 249.7,159.4 249.9,160.0 250.2,160.7 250.4,161.4 250.7,162.1 250.9,162.9 251.1,163.7 251.4,164.4 251.6,165.2 251.9,166.1 252.1,166.9 252.3,168.0 252.6,169.1 252.8,170.1 253.1,171.2 253.3,172.2 253.5,173.0 253.8,173.0 254.0,172.2 254.3,171.1 254.5,170.0 254.7,169.1 255.0,168.2 255.2,167.3 255.5,166.4 255.7,165.7 255.9,165.0 256.2,164.5 256.4,163.9 256.7,163.4 256.9,163.0 257.1,162.6 257.4,162.2 257.6,161.8 257.9,161.4 258.1,161.1 258.3,160.7 258.6,160.4 258.8,160.0 259.1,159.7 259.3,159.4 259.5,159.1 259.8,158.8 260.0,158.4 260.3,158.1 260.5,157.8" fill="none" stroke="#262626" stroke-width="0.85"/>
<polyline points="169.3,166.8 169.5,166.1 169.8,165.3 170.0,164.5 170.3,163.6 170.5,162.7 170.7,161.8 171.0,160.9 171.2,160.1 171.5,159.3 171.7,158.6 171.9,158.0 172.2,157.4 172.4,156.8 172.7,156.3 172.9,155.9 173.1,155.6 173.4,155.3 173.6,155.1 173.9,155.1 174.1,155.0 174.3,155.1 174.6,155.4 174.8,155.9 175.1,156.6 175.3,157.5 175.5,158.6 175.8,159.8 176.0,161.2 176.3,162.7 176.5,164.2 176.7,165.8 177.0,167.4 177.2,169.2 177.5,171.0 177.7,172.8 177.9,174.6 178.2,176.4 178.4,177.8 178.7,178.9 178.9,179.7 179.1,179.7 179.4,178.2 179.6,176.3 179.9,173.8 180.1,170.8 180.3,168.0 180.6,165.8 180.8,163.9 181.1,162.4 181.3,161.3 181.5,160.4 181.8,160.0 182.0,160.5 182.3,161.5 182.5,162.8 182.7,164.4 183.0,166.3 183.2,168.4 183.5,170.8 183.7,173.4 183.9,176.2 184.2,179.2 184.4,182.2 184.7,185.2 184.9,188.3 185.1,191.3 185.4,194.5 185.6,197.9 185.9,201.2 186.1,204.1 186.3,206.9 186.6,209.3 186.8,210.9 187.1,212.0 187.3,212.3 187.5,208.3 187.8,201.8 188.0,192.9 188.3,186.2 188.5,181.4 188.7,178.1 189.0,176.3 189.2,175.0 189.5,174.5 189.7,174.8 189.9,175.5 190.2,176.3 190.4,176.8 190.7,176.7 190.9,175.7 191.1,174.1 191.4,172.8 191.6,171.5 191.9,170.3 192.1,169.8 192.3,170.1 192.6,170.7 192.8,171.3 193.1,171.6 193.3,171.1 193.5,170.0 193.8,168.7 194.0,167.4 194.3,166.4 194.5,165.3 194.7,164.3 195.0,163.3 195.2,162.3 195.5,161.4 195.7,160.5 195.9,159.7 196.2,159.2 196.4,158.8 196.7,158.3 196.9,157.4 197.1,156.3 197.4,155.5 197.6,154.7 197.9,154.2 198.1,154.0 198.3,153.9 198.6,153.8 198.8,153.8 199.1,153.8 199.3,153.8 199.5,153.8 199.8,153.8 200.0,153.8 200.3,153.7 200.5,153.7 200.7,153.7 201.0,153.7 201.2,153.7 201.5,153.7 201.7,153.7 201.9,153.7 202.2,153.7 202.4,153.7 202.7,153.7 202.9,153.7 203.1,153.7 203.4,153.7 203.6,153.7 203.9,153.7 204.1,153.7 204.3,153.7 204.6,153.7 204.8,153.8 205.1,153.8 205.3,153.8 205.5,153.8 205.8,153.8 206.0,153.8 206.3,153.8 206.5,153.8 206.7,153.8 207.0,153.8 207.2,153.8 207.5,153.9 207.7,153.9 207.9,153.9 208.2,153.9 208.4,153.9 208.7,153.9 208.9,153.9 209.1,153.9 209.4,153.9 209.6,154.0 209.9,154.0 210.1,154.1 210.3,154.1 210.6,154.2 210.8,154.3 211.1,154.4 211.3,154.5 211.5,154.7 211.8,155.0 212.0,155.2 212.3,155.5 212.5,155.8 212.7,156.2 213.0,156.6 213.2,157.1 213.5,157.7 213.7,158.3 213.9,158.9 214.2,159.6 214.4,160.4 214.7,161.2 214.9,162.1 215.1,163.1 215.4,164.1 215.6,165.2 215.9,166.4 216.1,167.6 216.3,169.0 216.6,170.4 216.8,171.9 217.1,173.5 217.3,175.3 217.5,177.6 217.8,180.5 218.0,183.5 218.3,186.9 218.5,189.6 218.7,189.4 219.0,186.6 219.2,183.5 219.5,181.1 219.7,178.9 219.9,177.1 220.2,175.6 220.4,174.4 220.7,173.4 220.9,172.5 221.1,171.6 221.4,170.8 221.6,170.1 221.9,169.4 222.1,168.6 222.3,167.7 222.6,166.9 222.8,166.0 223.1,165.1 223.3,164.1 223.5,163.1 223.8,162.2 224.0,161.4 224.3,160.8 224.5,160.3 224.7,159.9 225.0,159.5 225.2,159.1 225.5,158.6 225.7,158.0 225.9,157.2 226.2,156.4 226.4,155.6 226.7,155.0 226.9,155.2 227.4,155.0 227.9,153.9 228.3,152.8 228.8,153.3 229.3,152.9 229.8,152.8 230.3,153.2 230.7,155.4 231.2,154.6 231.7,151.6 232.2,153.8 232.7,152.5 233.1,155.2 233.6,154.3 234.1,151.1 234.6,152.4 235.1,150.0 235.5,152.0 236.0,152.6 236.5,153.1 237.0,152.9 237.5,151.2 237.9,149.2 238.4,152.2 238.9,149.9 239.4,155.8 239.9,156.3 240.3,156.4 240.8,150.1 241.3,155.9 241.8,151.3 242.3,149.2 242.7,155.6 243.2,153.9 243.7,148.1 244.2,156.5 244.7,153.1 245.1,156.5 245.6,151.5 246.1,153.4 246.6,159.1 247.1,153.4 247.5,159.4 248.0,152.7 248.5,160.3 249.0,161.7 249.5,160.5 249.9,160.1 250.4,157.5 250.9,165.7 251.4,163.0 251.9,169.5 252.3,165.4 252.8,173.7 253.3,170.2 253.8,176.4 254.3,174.7 254.7,168.9 255.2,166.3 255.7,167.0 256.2,163.7 256.7,166.0 257.1,165.6 257.6,162.7 258.1,158.4 258.6,159.8 259.1,160.4 259.5,160.5 260.0,156.0 260.5,159.8" fill="none" stroke="#ff2448" stroke-width="1.0" stroke-dasharray="1.5 1.5"/>
<polyline points="169.3,166.9 169.5,166.0 169.8,165.1 170.0,164.5 170.3,163.6 170.5,162.6 170.7,161.9 171.0,160.9 171.2,160.1 171.5,159.2 171.7,158.8 171.9,158.1 172.2,157.6 172.4,156.6 172.7,156.2 172.9,156.1 173.1,155.3 173.4,155.1 173.6,155.1 173.9,155.0 174.1,155.2 174.3,155.3 174.6,155.4 174.8,156.1 175.1,156.7 175.3,157.6 175.5,158.8 175.8,159.8 176.0,161.2 176.3,162.5 176.5,164.2 176.7,165.7 177.0,167.4 177.2,169.1 177.5,171.0 177.7,172.9 177.9,174.4 178.2,176.2 178.4,177.6 178.7,178.8 178.9,179.8 179.1,179.8 179.4,178.3 179.6,176.5 179.9,173.7 180.1,170.8 180.3,167.9 180.6,165.9 180.8,163.6 181.1,162.2 181.3,161.5 181.5,160.5 181.8,159.8 182.0,160.5 182.3,161.3 182.5,162.8 182.7,164.6 183.0,166.2 183.2,168.2 183.5,170.9 183.7,173.6 183.9,176.2 184.2,179.0 184.4,182.1 184.7,185.4 184.9,188.4 185.1,191.5 185.4,194.7 185.6,197.7 185.9,201.3 186.1,204.1 186.3,206.9 186.6,209.4 186.8,210.8 187.1,212.2 187.3,212.2 187.5,208.5 187.8,201.8 188.0,193.0 188.3,186.3 188.5,181.1 188.7,178.0 189.0,176.4 189.2,174.9 189.5,174.7 189.7,174.9 189.9,175.4 190.2,176.2 190.4,177.0 190.7,176.5 190.9,175.8 191.1,174.3 191.4,172.6 191.6,171.6 191.9,170.4 192.1,170.0 192.3,170.3 192.6,170.7 192.8,171.4 193.1,171.5 193.3,171.2 193.5,170.1 193.8,168.5 194.0,167.4 194.3,166.4 194.5,165.2 194.7,164.4 195.0,163.5 195.2,162.1 195.5,161.2 195.7,160.6 195.9,159.9 196.2,159.1 196.4,158.6 196.7,158.4 196.9,157.2 197.1,156.2 197.4,155.4 197.6,154.8 197.9,154.4 198.1,154.2 198.3,153.7 198.6,153.9 198.8,153.7 199.1,153.9 199.3,153.6 199.5,153.7 199.8,153.9 200.0,153.9 200.3,153.6 200.5,153.9 200.7,153.9 201.0,153.7 201.2,153.6 201.5,153.7 201.7,153.8 201.9,153.5 202.2,153.8 202.4,153.9 202.7,153.8 202.9,153.7 203.1,153.9 203.4,153.9 203.6,153.8 203.9,153.7 204.1,153.9 204.3,153.8 204.6,153.6 204.8,153.5 205.1,153.7 205.3,153.7 205.5,153.7 205.8,154.0 206.0,154.0 206.3,154.0 206.5,153.6 206.7,153.7 207.0,153.6 207.2,154.1 207.5,153.8 207.7,153.9 207.9,153.8 208.2,154.0 208.4,153.7 208.7,154.1 208.9,153.9 209.1,153.8 209.4,153.8 209.6,153.9 209.9,153.9 210.1,153.9 210.3,153.9 210.6,154.3 210.8,154.2 211.1,154.2 211.3,154.4 211.5,154.8 211.8,154.8 212.0,155.0 212.3,155.4 212.5,155.7 212.7,156.3 213.0,156.6 213.2,157.1 213.5,157.9 213.7,158.2 213.9,158.7 214.2,159.5 214.4,160.3 214.7,161.3 214.9,162.0 215.1,163.0 215.4,164.1 215.6,165.0 215.9,166.6 216.1,167.5 216.3,169.2 216.6,170.4 216.8,171.9 217.1,173.6 217.3,175.2 217.5,177.6 217.8,180.3 218.0,182.6 218.3,185.5 218.5,187.6 218.7,187.2 219.0,185.0 219.2,183.0 219.5,181.1 219.7,178.7 219.9,177.0 220.2,175.7 220.4,174.3 220.7,173.5 220.9,172.4 221.1,171.7 221.4,170.9 221.6,170.0 221.9,169.2 222.1,168.4 222.3,167.8 222.6,166.8 222.8,166.1 223.1,165.2 223.3,164.1 223.5,163.0 223.8,162.0 224.0,161.3 224.3,160.5 224.5,160.4 224.7,160.0 225.0,159.5 225.2,159.2 225.5,158.7 225.7,158.1 225.9,157.2 226.2,156.4 226.4,155.7 226.7,154.8 226.9,154.3 227.1,154.2 227.4,154.1 227.6,154.0 227.9,153.5 228.1,153.7 228.3,153.3 228.6,153.3 228.8,153.4 229.1,153.1 229.3,153.5 229.5,153.4 229.8,153.3 230.0,153.5 230.3,153.1 230.5,153.4 230.7,153.4 231.0,153.4 231.2,153.2 231.5,153.3 231.7,153.2 231.9,153.2 232.2,153.1 232.4,153.0 232.7,153.1 232.9,153.4 233.1,153.2 233.4,153.4 233.6,153.5 233.9,153.2 234.1,153.1 234.3,153.4 234.6,153.3 234.8,153.3 235.1,153.1 235.3,153.2 235.5,153.2 235.8,153.1 236.0,153.3 236.3,153.1 236.5,153.0 236.7,153.4 237.0,153.0 237.2,153.1 237.5,153.4 237.7,153.3 237.9,153.2 238.2,153.0 238.4,153.3 238.7,153.2 238.9,153.1 239.1,153.1 239.4,153.0 239.6,153.3 239.9,153.2 240.1,153.4 240.3,153.2 240.6,153.1 240.8,153.3 241.1,153.2 241.3,153.5 241.5,153.2 241.8,153.2 242.0,153.2 242.3,153.5 242.5,153.4 242.7,153.6 243.0,153.4 243.2,153.5 243.5,153.7 243.7,153.9 243.9,153.8 244.2,153.8 244.4,153.7 244.7,153.9 244.9,154.3 245.1,154.0 245.4,154.5 245.6,154.3 245.9,154.7 246.1,154.7 246.3,154.7 246.6,155.1 246.8,155.3 247.1,155.3 247.3,155.4 247.5,155.6 247.8,155.9 248.0,156.1 248.3,156.6 248.5,156.8 248.7,157.6 249.0,157.9 249.2,158.3 249.5,159.0 249.7,159.3 249.9,160.0 250.2,160.7 250.4,161.2 250.7,162.1 250.9,163.0 251.1,163.7 251.4,164.3 251.6,165.0 251.9,166.2 252.1,166.8 252.3,167.8 252.6,169.1 252.8,170.1 253.1,171.3 253.3,172.2 253.5,173.0 253.8,172.9 254.0,172.4 254.3,170.9 254.5,170.0 254.7,169.1 255.0,168.0 255.2,167.2 255.5,166.4 255.7,165.6 255.9,165.2 256.2,164.4 256.4,164.0 256.7,163.2 256.9,162.8 257.1,162.7 257.4,162.2 257.6,162.0 257.9,161.4 258.1,160.9 258.3,160.5 258.6,160.4 258.8,160.1 259.1,159.9 259.3,159.3 259.5,158.9 259.8,158.9 260.0,158.3 260.3,158.4 260.5,158.0" fill="none" stroke="#00bd6e" stroke-width="1.0" stroke-dasharray="3.2 1.6"/>
<path d="M169.30 137.50H265.30V234.10" stroke="#6e6e6e" stroke-width="0.9" fill="none"/>
<path d="M169.30 137.50V234.10H265.30M169.30 232.10V236.10M193.30 232.10V236.10M217.30 232.10V236.10M241.30 232.10V236.10M265.30 232.10V236.10M174.10 234.10V235.50M178.90 234.10V235.50M183.70 234.10V235.50M188.50 234.10V235.50M198.10 234.10V235.50M202.90 234.10V235.50M207.70 234.10V235.50M212.50 234.10V235.50M222.10 234.10V235.50M226.90 234.10V235.50M231.70 234.10V235.50M236.50 234.10V235.50M246.10 234.10V235.50M250.90 234.10V235.50M255.70 234.10V235.50M260.50 234.10V235.50M166.80 234.10H171.30M166.80 220.30H171.30M166.80 206.50H171.30M166.80 192.70H171.30M166.80 178.90H171.30M166.80 165.10H171.30M166.80 151.30H171.30M166.80 137.50H171.30M167.90 231.34H169.30M167.90 228.58H169.30M167.90 225.82H169.30M167.90 223.06H169.30M167.90 217.54H169.30M167.90 214.78H169.30M167.90 212.02H169.30M167.90 209.26H169.30M167.90 203.74H169.30M167.90 200.98H169.30M167.90 198.22H169.30M167.90 195.46H169.30M167.90 189.94H169.30M167.90 187.18H169.30M167.90 184.42H169.30M167.90 181.66H169.30M167.90 176.14H169.30M167.90 173.38H169.30M167.90 170.62H169.30M167.90 167.86H169.30M167.90 162.34H169.30M167.90 159.58H169.30M167.90 156.82H169.30M167.90 154.06H169.30M167.90 148.54H169.30M167.90 145.78H169.30M167.90 143.02H169.30M167.90 140.26H169.30" stroke="#3c3c3c" stroke-width="0.8" fill="none"/>
<text x="162.90" y="236.74" font-size="7.1" fill="#262626" stroke="#262626" stroke-width="0.22" text-anchor="end" textLength="13.83" lengthAdjust="spacingAndGlyphs">0.02</text>
<text x="162.90" y="222.94" font-size="7.1" fill="#262626" stroke="#262626" stroke-width="0.22" text-anchor="end" textLength="13.83" lengthAdjust="spacingAndGlyphs">0.03</text>
<text x="162.90" y="209.14" font-size="7.1" fill="#262626" stroke="#262626" stroke-width="0.22" text-anchor="end" textLength="13.83" lengthAdjust="spacingAndGlyphs">0.04</text>
<text x="162.90" y="195.34" font-size="7.1" fill="#262626" stroke="#262626" stroke-width="0.22" text-anchor="end" textLength="13.83" lengthAdjust="spacingAndGlyphs">0.05</text>
<text x="162.90" y="181.54" font-size="7.1" fill="#262626" stroke="#262626" stroke-width="0.22" text-anchor="end" textLength="13.83" lengthAdjust="spacingAndGlyphs">0.06</text>
<text x="162.90" y="167.74" font-size="7.1" fill="#262626" stroke="#262626" stroke-width="0.22" text-anchor="end" textLength="13.83" lengthAdjust="spacingAndGlyphs">0.07</text>
<text x="162.90" y="153.94" font-size="7.1" fill="#262626" stroke="#262626" stroke-width="0.22" text-anchor="end" textLength="13.83" lengthAdjust="spacingAndGlyphs">0.08</text>
<text x="162.90" y="140.14" font-size="7.1" fill="#262626" stroke="#262626" stroke-width="0.22" text-anchor="end" textLength="13.83" lengthAdjust="spacingAndGlyphs">0.09</text>
<text x="169.30" y="246.84" font-size="7.1" fill="#262626" stroke="#262626" stroke-width="0.22" text-anchor="middle" textLength="12.47" lengthAdjust="spacingAndGlyphs">450</text>
<text x="193.30" y="246.84" font-size="7.1" fill="#262626" stroke="#262626" stroke-width="0.22" text-anchor="middle" textLength="12.47" lengthAdjust="spacingAndGlyphs">550</text>
<text x="217.30" y="246.84" font-size="7.1" fill="#262626" stroke="#262626" stroke-width="0.22" text-anchor="middle" textLength="12.47" lengthAdjust="spacingAndGlyphs">650</text>
<text x="241.30" y="246.84" font-size="7.1" fill="#262626" stroke="#262626" stroke-width="0.22" text-anchor="middle" textLength="12.47" lengthAdjust="spacingAndGlyphs">750</text>
<text x="265.30" y="246.84" font-size="7.1" fill="#262626" stroke="#262626" stroke-width="0.22" text-anchor="middle" textLength="12.47" lengthAdjust="spacingAndGlyphs">850</text>
<text x="217.30" y="252.55" font-size="7.1" fill="#262626" stroke="#262626" stroke-width="0.22" text-anchor="middle" textLength="19.50" lengthAdjust="spacingAndGlyphs">λ (nm)</text>
<text x="0" y="0" font-size="7.1" fill="#262626" stroke="#262626" stroke-width="0.22" text-anchor="middle" transform="translate(146.64,180.70) rotate(-90)">R'</text>
<text x="177.00" y="226.75" font-size="7.1" fill="#262626" stroke="#262626" stroke-width="0.22" text-anchor="start" textLength="6.38" lengthAdjust="spacingAndGlyphs">(f)</text>
<rect x="199.20" y="209.60" width="65.50" height="22.30" fill="#fff"/>
<path d="M200.70 213.60H224.00" stroke="#6c6c6c" stroke-width="1.2" fill="none"/>
<text x="226.80" y="216.37" font-size="6.3" fill="#383838" stroke="#383838" stroke-width="0.18" text-anchor="start" textLength="28.72" lengthAdjust="spacingAndGlyphs">L2<tspan dy="-0.7">_</tspan><tspan dy="0.7">EO</tspan><tspan dy="-0.7">_</tspan><tspan dy="0.7">Ref</tspan></text>
<path d="M200.70 221.00H224.00" stroke="#ff2448" stroke-width="1.05" stroke-dasharray="1.4 1.65" fill="none"/>
<text x="226.80" y="223.77" font-size="6.3" fill="#ff2020" stroke="#ff2020" stroke-width="0.18" text-anchor="start" textLength="26.59" lengthAdjust="spacingAndGlyphs">L2<tspan dy="-0.7">_</tspan><tspan dy="0.7">EO</tspan><tspan dy="-0.7">_</tspan><tspan dy="0.7">Xe</tspan></text>
<path d="M200.70 228.40H224.00" stroke="#00bd6e" stroke-width="1.15" stroke-dasharray="3.3 1.5" fill="none"/>
<text x="226.80" y="231.17" font-size="6.3" fill="#00b860" stroke="#00b860" stroke-width="0.18" text-anchor="start" textLength="27.19" lengthAdjust="spacingAndGlyphs">L2<tspan dy="-0.7">_</tspan><tspan dy="0.7">EO</tspan><tspan dy="-0.7">_</tspan><tspan dy="0.7">TH</tspan></text>
<path d="M326.40 137.30V233.80M352.10 137.30V233.80M377.80 137.30V233.80M300.70 220.01H403.50M300.70 206.23H403.50M300.70 192.44H403.50M300.70 178.66H403.50M300.70 164.87H403.50M300.70 151.09H403.50" stroke="#f0f0f0" stroke-width="0.6" fill="none"/>
<polyline points="300.7,171.0 301.0,170.0 301.2,169.0 301.5,168.0 301.7,166.9 302.0,165.7 302.2,164.6 302.5,163.5 302.8,162.5 303.0,161.5 303.3,160.6 303.5,159.8 303.8,159.0 304.0,158.3 304.3,157.7 304.6,157.2 304.8,156.8 305.1,156.4 305.3,156.2 305.6,156.1 305.8,156.1 306.1,156.1 306.4,156.6 306.6,157.2 306.9,158.0 307.1,159.2 307.4,160.5 307.6,162.1 307.9,163.9 308.2,165.8 308.4,167.7 308.7,169.6 308.9,171.7 309.2,173.9 309.4,176.2 309.7,178.4 310.0,180.7 310.2,183.0 310.5,184.7 310.7,186.2 311.0,187.2 311.2,187.1 311.5,185.3 311.8,182.9 312.0,179.8 312.3,175.9 312.5,172.5 312.8,169.7 313.0,167.2 313.3,165.4 313.6,164.0 313.8,162.9 314.1,162.4 314.3,163.0 314.6,164.3 314.8,165.8 315.1,167.9 315.3,170.2 315.6,172.9 315.9,175.9 316.1,179.2 316.4,182.7 316.6,186.5 316.9,190.3 317.1,194.1 317.4,197.9 317.7,201.8 317.9,205.7 318.2,210.0 318.4,214.1 318.7,217.9 318.9,221.3 319.2,224.3 319.5,226.4 319.7,227.8 320.0,228.1 320.2,223.0 320.5,214.9 320.7,203.7 321.0,195.3 321.3,189.2 321.5,185.1 321.8,182.9 322.0,181.3 322.3,180.6 322.5,181.0 322.8,181.9 323.1,182.8 323.3,183.5 323.6,183.4 323.8,182.1 324.1,180.1 324.3,178.4 324.6,176.8 324.9,175.4 325.1,174.7 325.4,175.0 325.6,175.8 325.9,176.6 326.1,176.9 326.4,176.4 326.7,175.0 326.9,173.3 327.2,171.7 327.4,170.4 327.7,169.1 327.9,167.7 328.2,166.5 328.5,165.3 328.7,164.1 329.0,162.9 329.2,162.0 329.5,161.4 329.7,160.8 330.0,160.2 330.3,159.1 330.5,157.8 330.8,156.7 331.0,155.7 331.3,155.1 331.5,154.8 331.8,154.7 332.1,154.6 332.3,154.6 332.6,154.6 332.8,154.5 333.1,154.5 333.3,154.5 333.6,154.5 333.9,154.5 334.1,154.5 334.4,154.5 334.6,154.5 334.9,154.5 335.1,154.5 335.4,154.4 335.7,154.4 335.9,154.4 336.2,154.4 336.4,154.4 336.7,154.4 336.9,154.4 337.2,154.4 337.5,154.4 337.7,154.5 338.0,154.5 338.2,154.5 338.5,154.5 338.7,154.5 339.0,154.5 339.2,154.5 339.5,154.5 339.8,154.6 340.0,154.6 340.3,154.6 340.5,154.6 340.8,154.6 341.0,154.6 341.3,154.6 341.6,154.6 341.8,154.6 342.1,154.6 342.3,154.7 342.6,154.7 342.8,154.7 343.1,154.7 343.4,154.7 343.6,154.7 343.9,154.8 344.1,154.8 344.4,154.9 344.6,155.0 344.9,155.1 345.2,155.2 345.4,155.3 345.7,155.5 345.9,155.7 346.2,156.0 346.4,156.3 346.7,156.7 347.0,157.1 347.2,157.6 347.5,158.1 347.7,158.8 348.0,159.4 348.2,160.2 348.5,161.0 348.8,161.9 349.0,162.9 349.3,163.9 349.5,165.0 349.8,166.2 350.0,167.5 350.3,168.9 350.6,170.4 350.8,171.9 351.1,173.6 351.3,175.4 351.6,177.3 351.8,179.3 352.1,181.6 352.4,184.5 352.6,187.9 352.9,191.1 353.1,194.3 353.4,196.7 353.6,196.5 353.9,193.9 354.2,191.1 354.4,188.6 354.7,186.1 354.9,183.8 355.2,182.0 355.4,180.5 355.7,179.2 356.0,178.0 356.2,176.9 356.5,176.0 356.7,175.1 357.0,174.2 357.2,173.2 357.5,172.1 357.8,171.0 358.0,169.9 358.3,168.7 358.5,167.5 358.8,166.3 359.0,165.1 359.3,164.1 359.6,163.3 359.8,162.7 360.1,162.2 360.3,161.7 360.6,161.2 360.8,160.6 361.1,159.9 361.4,158.9 361.6,157.8 361.9,156.8 362.1,156.1 362.4,155.5 362.6,155.1 362.9,154.7 363.2,154.5 363.4,154.4 363.7,154.2 363.9,154.1 364.2,154.0 364.4,153.9 364.7,153.9 364.9,153.8 365.2,153.8 365.5,153.8 365.7,153.8 366.0,153.8 366.2,153.8 366.5,153.8 366.7,153.8 367.0,153.8 367.3,153.8 367.5,153.8 367.8,153.8 368.0,153.8 368.3,153.8 368.5,153.8 368.8,153.8 369.1,153.8 369.3,153.8 369.6,153.8 369.8,153.8 370.1,153.8 370.3,153.8 370.6,153.8 370.9,153.8 371.1,153.8 371.4,153.8 371.6,153.8 371.9,153.8 372.1,153.8 372.4,153.8 372.7,153.8 372.9,153.8 373.2,153.8 373.4,153.8 373.7,153.8 373.9,153.8 374.2,153.8 374.5,153.8 374.7,153.8 375.0,153.8 375.2,153.8 375.5,153.8 375.7,153.8 376.0,153.9 376.3,153.9 376.5,153.9 376.8,153.9 377.0,153.9 377.3,154.0 377.5,154.0 377.8,154.0 378.1,154.0 378.3,154.1 378.6,154.1 378.8,154.2 379.1,154.2 379.3,154.2 379.6,154.3 379.9,154.3 380.1,154.4 380.4,154.5 380.6,154.5 380.9,154.6 381.1,154.6 381.4,154.7 381.7,154.9 381.9,155.0 382.2,155.2 382.4,155.3 382.7,155.5 382.9,155.6 383.2,155.8 383.5,156.0 383.7,156.2 384.0,156.5 384.2,156.7 384.5,157.0 384.7,157.3 385.0,157.7 385.3,158.1 385.5,158.6 385.8,159.1 386.0,159.6 386.3,160.2 386.5,160.9 386.8,161.6 387.1,162.4 387.3,163.2 387.6,164.1 387.8,165.1 388.1,166.0 388.3,167.0 388.6,167.9 388.9,168.9 389.1,170.0 389.4,171.1 389.6,172.4 389.9,173.8 390.1,175.1 390.4,176.4 390.6,177.7 390.9,178.6 391.2,178.6 391.4,177.7 391.7,176.3 391.9,174.9 392.2,173.8 392.4,172.6 392.7,171.5 393.0,170.4 393.2,169.5 393.5,168.7 393.7,168.0 394.0,167.3 394.2,166.7 394.5,166.1 394.8,165.6 395.0,165.1 395.3,164.6 395.5,164.1 395.8,163.7 396.0,163.2 396.3,162.8 396.6,162.4 396.8,162.0 397.1,161.6 397.3,161.2 397.6,160.8 397.8,160.4 398.1,160.0 398.4,159.6" fill="none" stroke="#262626" stroke-width="0.85"/>
<polyline points="300.7,171.0 301.0,170.0 301.2,169.0 301.5,168.0 301.7,166.9 302.0,165.7 302.2,164.6 302.5,163.5 302.8,162.5 303.0,161.5 303.3,160.6 303.5,159.8 303.8,159.0 304.0,158.3 304.3,157.7 304.6,157.2 304.8,156.8 305.1,156.4 305.3,156.2 305.6,156.1 305.8,156.1 306.1,156.1 306.4,156.6 306.6,157.2 306.9,158.0 307.1,159.2 307.4,160.5 307.6,162.1 307.9,163.9 308.2,165.8 308.4,167.7 308.7,169.6 308.9,171.7 309.2,173.9 309.4,176.2 309.7,178.4 310.0,180.7 310.2,183.0 310.5,184.7 310.7,186.2 311.0,187.2 311.2,187.1 311.5,185.3 311.8,182.9 312.0,179.8 312.3,175.9 312.5,172.5 312.8,169.7 313.0,167.2 313.3,165.4 313.6,164.0 313.8,162.9 314.1,162.4 314.3,163.0 314.6,164.3 314.8,165.8 315.1,167.9 315.3,170.2 315.6,172.9 315.9,175.9 316.1,179.2 316.4,182.7 316.6,186.5 316.9,190.3 317.1,194.1 317.4,197.9 317.7,201.8 317.9,205.7 318.2,210.0 318.4,214.1 318.7,217.9 318.9,221.3 319.2,224.3 319.5,226.4 319.7,227.8 320.0,228.1 320.2,223.0 320.5,214.9 320.7,203.7 321.0,195.3 321.3,189.2 321.5,185.1 321.8,182.9 322.0,181.3 322.3,180.6 322.5,181.0 322.8,181.9 323.1,182.8 323.3,183.5 323.6,183.4 323.8,182.1 324.1,180.1 324.3,178.4 324.6,176.8 324.9,175.4 325.1,174.7 325.4,175.0 325.6,175.8 325.9,176.6 326.1,176.9 326.4,176.4 326.7,175.0 326.9,173.3 327.2,171.7 327.4,170.4 327.7,169.1 327.9,167.7 328.2,166.5 328.5,165.3 328.7,164.1 329.0,162.9 329.2,162.0 329.5,161.4 329.7,160.8 330.0,160.2 330.3,159.1 330.5,157.8 330.8,156.7 331.0,155.7 331.3,155.1 331.5,154.8 331.8,154.7 332.1,154.6 332.3,154.6 332.6,154.6 332.8,154.5 333.1,154.5 333.3,154.5 333.6,154.5 333.9,154.5 334.1,154.5 334.4,154.5 334.6,154.5 334.9,154.5 335.1,154.5 335.4,154.4 335.7,154.4 335.9,154.4 336.2,154.4 336.4,154.4 336.7,154.4 336.9,154.4 337.2,154.4 337.5,154.4 337.7,154.5 338.0,154.5 338.2,154.5 338.5,154.5 338.7,154.5 339.0,154.5 339.2,154.5 339.5,154.5 339.8,154.6 340.0,154.6 340.3,154.6 340.5,154.6 340.8,154.6 341.0,154.6 341.3,154.6 341.6,154.6 341.8,154.6 342.1,154.6 342.3,154.7 342.6,154.7 342.8,154.7 343.1,154.7 343.4,154.7 343.6,154.7 343.9,154.8 344.1,154.8 344.4,154.9 344.6,155.0 344.9,155.1 345.2,155.2 345.4,155.3 345.7,155.5 345.9,155.7 346.2,156.0 346.4,156.3 346.7,156.7 347.0,157.1 347.2,157.6 347.5,158.1 347.7,158.8 348.0,159.4 348.2,160.2 348.5,161.0 348.8,161.9 349.0,162.9 349.3,163.9 349.5,165.0 349.8,166.2 350.0,167.5 350.3,168.9 350.6,170.4 350.8,171.9 351.1,173.6 351.3,175.4 351.6,177.3 351.8,179.3 352.1,181.6 352.4,184.5 352.6,188.1 352.9,191.9 353.1,196.1 353.4,199.6 353.6,199.3 353.9,195.8 354.2,191.9 354.4,188.9 354.7,186.2 354.9,183.8 355.2,182.0 355.4,180.5 355.7,179.2 356.0,178.0 356.2,176.9 356.5,176.0 356.7,175.1 357.0,174.2 357.2,173.2 357.5,172.1 357.8,171.0 358.0,169.9 358.3,168.7 358.5,167.5 358.8,166.3 359.0,165.1 359.3,164.1 359.6,163.3 359.8,162.7 360.1,162.2 360.3,161.7 360.6,161.2 360.8,160.6 361.1,159.9 361.4,158.9 361.6,157.8 361.9,156.8 362.1,156.1 362.4,156.3 362.9,156.1 363.4,154.7 363.9,153.3 364.4,154.0 364.9,153.4 365.5,153.3 366.0,153.8 366.5,156.5 367.0,155.5 367.5,151.8 368.0,154.6 368.5,152.9 369.1,156.3 369.6,155.2 370.1,151.1 370.6,152.8 371.1,149.8 371.6,152.3 372.1,153.1 372.7,153.6 373.2,153.4 373.7,151.3 374.2,148.8 374.7,152.5 375.2,149.6 375.7,157.1 376.3,157.7 376.8,157.8 377.3,150.0 377.8,157.2 378.3,151.4 378.8,148.7 379.3,156.8 379.9,154.7 380.4,147.4 380.9,158.0 381.4,153.6 381.9,158.0 382.4,151.6 382.9,154.1 383.5,161.2 384.0,154.0 384.5,161.6 385.0,153.2 385.5,162.7 386.0,164.5 386.5,162.9 387.1,162.5 387.6,159.2 388.1,169.6 388.6,166.2 389.1,174.3 389.6,169.1 390.1,179.6 390.6,175.2 391.2,183.0 391.7,180.9 392.2,173.5 392.7,170.2 393.2,171.1 393.7,167.0 394.2,169.9 394.8,169.4 395.3,165.8 395.8,160.3 396.3,162.1 396.8,162.8 397.3,163.0 397.8,157.3 398.4,162.1" fill="none" stroke="#ff2448" stroke-width="1.0" stroke-dasharray="1.5 1.5"/>
<polyline points="300.7,171.0 301.0,169.9 301.2,168.8 301.5,168.0 301.7,166.9 302.0,165.7 302.2,164.8 302.5,163.5 302.8,162.4 303.0,161.4 303.3,160.9 303.5,159.9 303.8,159.3 304.0,158.1 304.3,157.6 304.6,157.5 304.8,156.5 305.1,156.1 305.3,156.1 305.6,156.1 305.8,156.3 306.1,156.4 306.4,156.6 306.6,157.5 306.9,158.2 307.1,159.4 307.4,160.8 307.6,162.1 307.9,163.9 308.2,165.5 308.4,167.6 308.7,169.6 308.9,171.7 309.2,173.8 309.4,176.2 309.7,178.5 310.0,180.4 310.2,182.7 310.5,184.5 310.7,186.0 311.0,187.3 311.2,187.2 311.5,185.4 311.8,183.1 312.0,179.6 312.3,175.9 312.5,172.2 312.8,169.7 313.0,166.9 313.3,165.2 313.6,164.3 313.8,163.0 314.1,162.2 314.3,163.0 314.6,164.0 314.8,165.9 315.1,168.1 315.3,170.1 315.6,172.7 315.9,176.0 316.1,179.4 316.4,182.8 316.6,186.2 316.9,190.2 317.1,194.3 317.4,198.1 317.7,202.0 317.9,206.0 318.2,209.8 318.4,214.3 318.7,217.8 318.9,221.3 319.2,224.5 319.5,226.2 319.7,228.0 320.0,228.0 320.2,223.3 320.5,215.0 320.7,203.9 321.0,195.4 321.3,188.9 321.5,184.9 321.8,183.0 322.0,181.0 322.3,180.8 322.5,181.1 322.8,181.7 323.1,182.8 323.3,183.8 323.6,183.1 323.8,182.2 324.1,180.3 324.3,178.2 324.6,176.9 324.9,175.5 325.1,174.9 325.4,175.3 325.6,175.8 325.9,176.7 326.1,176.9 326.4,176.4 326.7,175.0 326.9,173.0 327.2,171.7 327.4,170.3 327.7,168.8 327.9,167.9 328.2,166.7 328.5,165.0 328.7,163.9 329.0,163.1 329.2,162.2 329.5,161.2 329.7,160.6 330.0,160.4 330.3,158.8 330.5,157.5 330.8,156.6 331.0,155.8 331.3,155.3 331.5,155.1 331.8,154.4 332.1,154.7 332.3,154.4 332.6,154.7 332.8,154.3 333.1,154.5 333.3,154.6 333.6,154.7 333.9,154.4 334.1,154.7 334.4,154.6 334.6,154.4 334.9,154.2 335.1,154.4 335.4,154.6 335.7,154.2 335.9,154.6 336.2,154.7 336.4,154.6 336.7,154.5 336.9,154.7 337.2,154.6 337.5,154.5 337.7,154.4 338.0,154.7 338.2,154.6 338.5,154.3 338.7,154.2 339.0,154.4 339.2,154.4 339.5,154.5 339.8,154.8 340.0,154.8 340.3,154.9 340.5,154.3 340.8,154.5 341.0,154.3 341.3,154.9 341.6,154.5 341.8,154.6 342.1,154.5 342.3,154.8 342.6,154.4 342.8,154.9 343.1,154.7 343.4,154.6 343.6,154.5 343.9,154.6 344.1,154.7 344.4,154.7 344.6,154.7 344.9,155.2 345.2,155.1 345.4,155.1 345.7,155.3 345.9,155.8 346.2,155.8 346.4,156.1 346.7,156.6 347.0,157.0 347.2,157.6 347.5,158.1 347.7,158.7 348.0,159.7 348.2,160.1 348.5,160.7 348.8,161.7 349.0,162.7 349.3,164.0 349.5,164.9 349.8,166.2 350.0,167.6 350.3,168.7 350.6,170.6 350.8,171.8 351.1,173.9 351.3,175.4 351.6,177.3 351.8,179.5 352.1,181.5 352.4,184.5 352.6,187.8 352.9,190.8 353.1,194.4 353.4,197.0 353.6,196.6 353.9,193.8 354.2,191.2 354.4,188.8 354.7,185.9 354.9,183.7 355.2,182.0 355.4,180.3 355.7,179.3 356.0,177.9 356.2,177.1 356.5,176.0 356.7,174.9 357.0,173.9 357.2,172.9 357.5,172.2 357.8,170.9 358.0,170.0 358.3,168.9 358.5,167.5 358.8,166.1 359.0,164.9 359.3,163.9 359.6,163.0 359.8,162.8 360.1,162.4 360.3,161.7 360.6,161.3 360.8,160.7 361.1,159.9 361.4,158.8 361.6,157.8 361.9,156.9 362.1,155.9 362.4,155.2 362.6,155.1 362.9,155.0 363.2,154.8 363.4,154.1 363.7,154.5 363.9,154.0 364.2,153.9 364.4,154.0 364.7,153.7 364.9,154.1 365.2,154.1 365.5,153.9 365.7,154.1 366.0,153.6 366.2,154.0 366.5,154.1 366.7,154.1 367.0,153.8 367.3,153.9 367.5,153.8 367.8,153.8 368.0,153.7 368.3,153.6 368.5,153.7 368.8,154.0 369.1,153.9 369.3,154.0 369.6,154.1 369.8,153.9 370.1,153.7 370.3,154.0 370.6,154.0 370.9,153.9 371.1,153.7 371.4,153.8 371.6,153.8 371.9,153.7 372.1,153.9 372.4,153.7 372.7,153.6 372.9,154.1 373.2,153.6 373.4,153.7 373.7,154.1 373.9,153.9 374.2,153.8 374.5,153.6 374.7,153.9 375.0,153.8 375.2,153.6 375.5,153.7 375.7,153.6 376.0,153.9 376.3,153.8 376.5,154.1 376.8,153.8 377.0,153.7 377.3,153.9 377.5,153.8 377.8,154.2 378.1,153.8 378.3,153.8 378.6,153.8 378.8,154.1 379.1,154.0 379.3,154.4 379.6,154.1 379.9,154.1 380.1,154.5 380.4,154.7 380.6,154.5 380.9,154.5 381.1,154.5 381.4,154.7 381.7,155.1 381.9,154.8 382.2,155.4 382.4,155.1 382.7,155.7 382.9,155.7 383.2,155.7 383.5,156.2 383.7,156.4 384.0,156.4 384.2,156.6 384.5,156.8 384.7,157.2 385.0,157.4 385.3,158.1 385.5,158.3 385.8,159.3 386.0,159.8 386.3,160.2 386.5,161.0 386.8,161.5 387.1,162.3 387.3,163.2 387.6,163.9 387.8,165.0 388.1,166.1 388.3,167.0 388.6,167.7 388.9,168.7 389.1,170.1 389.4,170.9 389.6,172.1 389.9,173.8 390.1,175.0 390.4,176.6 390.6,177.7 390.9,178.6 391.2,178.6 391.4,178.0 391.7,176.0 391.9,174.9 392.2,173.8 392.4,172.4 392.7,171.4 393.0,170.4 393.2,169.4 393.5,168.9 393.7,167.9 394.0,167.3 394.2,166.4 394.5,165.8 394.8,165.7 395.0,165.1 395.3,164.8 395.5,164.2 395.8,163.5 396.0,163.0 396.3,162.8 396.6,162.5 396.8,162.2 397.1,161.5 397.3,160.9 397.6,161.0 397.8,160.2 398.1,160.3 398.4,159.8" fill="none" stroke="#00bd6e" stroke-width="1.0" stroke-dasharray="3.2 1.6"/>
<path d="M300.70 137.30H403.50V233.80" stroke="#6e6e6e" stroke-width="0.9" fill="none"/>
<path d="M300.70 137.30V233.80H403.50M300.70 231.80V235.80M326.40 231.80V235.80M352.10 231.80V235.80M377.80 231.80V235.80M403.50 231.80V235.80M305.84 233.80V235.20M310.98 233.80V235.20M316.12 233.80V235.20M321.26 233.80V235.20M331.54 233.80V235.20M336.68 233.80V235.20M341.82 233.80V235.20M346.96 233.80V235.20M357.24 233.80V235.20M362.38 233.80V235.20M367.52 233.80V235.20M372.66 233.80V235.20M382.94 233.80V235.20M388.08 233.80V235.20M393.22 233.80V235.20M398.36 233.80V235.20M298.20 233.80H302.70M298.20 220.01H302.70M298.20 206.23H302.70M298.20 192.44H302.70M298.20 178.66H302.70M298.20 164.87H302.70M298.20 151.09H302.70M298.20 137.30H302.70M299.30 231.04H300.70M299.30 228.29H300.70M299.30 225.53H300.70M299.30 222.77H300.70M299.30 217.26H300.70M299.30 214.50H300.70M299.30 211.74H300.70M299.30 208.99H300.70M299.30 203.47H300.70M299.30 200.71H300.70M299.30 197.96H300.70M299.30 195.20H300.70M299.30 189.69H300.70M299.30 186.93H300.70M299.30 184.17H300.70M299.30 181.41H300.70M299.30 175.90H300.70M299.30 173.14H300.70M299.30 170.39H300.70M299.30 167.63H300.70M299.30 162.11H300.70M299.30 159.36H300.70M299.30 156.60H300.70M299.30 153.84H300.70M299.30 148.33H300.70M299.30 145.57H300.70M299.30 142.81H300.70M299.30 140.06H300.70" stroke="#3c3c3c" stroke-width="0.8" fill="none"/>
<text x="294.30" y="236.44" font-size="7.1" fill="#262626" stroke="#262626" stroke-width="0.22" text-anchor="end" textLength="6.34" lengthAdjust="spacingAndGlyphs">-5</text>
<text x="294.30" y="222.66" font-size="7.1" fill="#262626" stroke="#262626" stroke-width="0.22" text-anchor="end" textLength="6.34" lengthAdjust="spacingAndGlyphs">-4</text>
<text x="294.30" y="208.87" font-size="7.1" fill="#262626" stroke="#262626" stroke-width="0.22" text-anchor="end" textLength="6.34" lengthAdjust="spacingAndGlyphs">-3</text>
<text x="294.30" y="195.08" font-size="7.1" fill="#262626" stroke="#262626" stroke-width="0.22" text-anchor="end" textLength="6.34" lengthAdjust="spacingAndGlyphs">-2</text>
<text x="294.30" y="181.30" font-size="7.1" fill="#262626" stroke="#262626" stroke-width="0.22" text-anchor="end" textLength="6.34" lengthAdjust="spacingAndGlyphs">-1</text>
<text x="294.30" y="167.51" font-size="7.1" fill="#262626" stroke="#262626" stroke-width="0.22" text-anchor="end" textLength="3.95" lengthAdjust="spacingAndGlyphs">0</text>
<text x="294.30" y="153.73" font-size="7.1" fill="#262626" stroke="#262626" stroke-width="0.22" text-anchor="end" textLength="3.95" lengthAdjust="spacingAndGlyphs">1</text>
<text x="294.30" y="139.94" font-size="7.1" fill="#262626" stroke="#262626" stroke-width="0.22" text-anchor="end" textLength="3.95" lengthAdjust="spacingAndGlyphs">2</text>
<text x="300.70" y="246.54" font-size="7.1" fill="#262626" stroke="#262626" stroke-width="0.22" text-anchor="middle" textLength="12.47" lengthAdjust="spacingAndGlyphs">450</text>
<text x="326.40" y="246.54" font-size="7.1" fill="#262626" stroke="#262626" stroke-width="0.22" text-anchor="middle" textLength="12.47" lengthAdjust="spacingAndGlyphs">550</text>
<text x="352.10" y="246.54" font-size="7.1" fill="#262626" stroke="#262626" stroke-width="0.22" text-anchor="middle" textLength="12.47" lengthAdjust="spacingAndGlyphs">650</text>
<text x="377.80" y="246.54" font-size="7.1" fill="#262626" stroke="#262626" stroke-width="0.22" text-anchor="middle" textLength="12.47" lengthAdjust="spacingAndGlyphs">750</text>
<text x="403.50" y="246.54" font-size="7.1" fill="#262626" stroke="#262626" stroke-width="0.22" text-anchor="middle" textLength="12.47" lengthAdjust="spacingAndGlyphs">850</text>
<text x="352.10" y="252.25" font-size="7.1" fill="#262626" stroke="#262626" stroke-width="0.22" text-anchor="middle" textLength="19.50" lengthAdjust="spacingAndGlyphs">λ (nm)</text>
<text x="0" y="0" font-size="7.1" fill="#262626" stroke="#262626" stroke-width="0.22" text-anchor="middle" transform="translate(284.94,191.40) rotate(-90)">R'</text>
<text x="303.90" y="228.25" font-size="7.1" fill="#262626" stroke="#262626" stroke-width="0.22" text-anchor="start" textLength="7.54" lengthAdjust="spacingAndGlyphs">(g)</text>
<rect x="335.70" y="209.40" width="67.20" height="22.10" fill="#fff"/>
<path d="M337.20 213.40H360.50" stroke="#6c6c6c" stroke-width="1.2" fill="none"/>
<text x="363.00" y="216.17" font-size="6.3" fill="#383838" stroke="#383838" stroke-width="0.18" text-anchor="start" textLength="33.13" lengthAdjust="spacingAndGlyphs">SNV<tspan dy="-0.7">_</tspan><tspan dy="0.7">EO</tspan><tspan dy="-0.7">_</tspan><tspan dy="0.7">Ref</tspan></text>
<path d="M337.20 220.70H360.50" stroke="#ff2448" stroke-width="1.05" stroke-dasharray="1.4 1.65" fill="none"/>
<text x="363.00" y="223.47" font-size="6.3" fill="#ff2020" stroke="#ff2020" stroke-width="0.18" text-anchor="start" textLength="30.99" lengthAdjust="spacingAndGlyphs">SNV<tspan dy="-0.7">_</tspan><tspan dy="0.7">EO</tspan><tspan dy="-0.7">_</tspan><tspan dy="0.7">Xe</tspan></text>
<path d="M337.20 228.00H360.50" stroke="#00bd6e" stroke-width="1.15" stroke-dasharray="3.3 1.5" fill="none"/>
<text x="363.00" y="230.77" font-size="6.3" fill="#00b860" stroke="#00b860" stroke-width="0.18" text-anchor="start" textLength="31.60" lengthAdjust="spacingAndGlyphs">SNV<tspan dy="-0.7">_</tspan><tspan dy="0.7">EO</tspan><tspan dy="-0.7">_</tspan><tspan dy="0.7">TH</tspan></text>
<path d="M468.03 135.70V233.60M492.75 135.70V233.60M517.48 135.70V233.60M443.30 209.12H542.20M443.30 184.65H542.20M443.30 160.17H542.20" stroke="#f0f0f0" stroke-width="0.6" fill="none"/>
<polyline points="443.3,164.6 443.5,163.7 443.8,162.9 444.0,162.0 444.3,161.0 444.5,160.0 444.8,159.0 445.0,158.0 445.3,157.1 445.5,156.3 445.8,155.5 446.0,154.8 446.3,154.1 446.5,153.5 446.8,153.0 447.0,152.5 447.3,152.2 447.5,151.9 447.8,151.7 448.0,151.6 448.2,151.6 448.5,151.6 448.7,152.0 449.0,152.5 449.2,153.2 449.5,154.3 449.7,155.4 450.0,156.8 450.2,158.3 450.5,160.0 450.7,161.7 451.0,163.4 451.2,165.3 451.5,167.3 451.7,169.3 452.0,171.4 452.2,173.5 452.4,175.6 452.7,177.3 452.9,178.7 453.2,179.6 453.4,179.5 453.7,177.8 453.9,175.6 454.2,172.6 454.4,169.1 454.7,166.0 454.9,163.5 455.2,161.3 455.4,159.6 455.7,158.4 455.9,157.4 456.2,157.0 456.4,157.6 456.7,158.7 456.9,160.0 457.1,161.9 457.4,163.9 457.6,166.3 457.9,169.1 458.1,172.1 458.4,175.4 458.6,179.0 458.9,182.7 459.1,186.4 459.4,190.2 459.6,194.2 459.9,198.5 460.1,203.1 460.4,207.9 460.6,212.5 460.9,217.0 461.1,221.4 461.3,224.7 461.6,227.5 461.8,228.3 462.1,219.5 462.3,208.9 462.6,196.3 462.8,187.6 463.1,181.6 463.3,177.7 463.6,175.6 463.8,174.0 464.1,173.5 464.3,173.8 464.6,174.6 464.8,175.5 465.1,176.2 465.3,176.1 465.6,174.8 465.8,173.0 466.0,171.4 466.3,169.9 466.5,168.6 466.8,168.0 467.0,168.3 467.3,169.0 467.5,169.7 467.8,170.0 468.0,169.5 468.3,168.2 468.5,166.7 468.8,165.3 469.0,164.1 469.3,162.9 469.5,161.7 469.8,160.6 470.0,159.5 470.3,158.5 470.5,157.5 470.7,156.7 471.0,156.1 471.2,155.7 471.5,155.1 471.7,154.1 472.0,153.0 472.2,152.1 472.5,151.2 472.7,150.7 473.0,150.5 473.2,150.4 473.5,150.3 473.7,150.3 474.0,150.3 474.2,150.2 474.5,150.2 474.7,150.2 474.9,150.2 475.2,150.2 475.4,150.2 475.7,150.2 475.9,150.2 476.2,150.2 476.4,150.2 476.7,150.2 476.9,150.2 477.2,150.2 477.4,150.2 477.7,150.2 477.9,150.2 478.2,150.2 478.4,150.2 478.7,150.2 478.9,150.2 479.2,150.2 479.4,150.2 479.6,150.2 479.9,150.2 480.1,150.2 480.4,150.2 480.6,150.2 480.9,150.3 481.1,150.3 481.4,150.3 481.6,150.3 481.9,150.3 482.1,150.3 482.4,150.3 482.6,150.3 482.9,150.3 483.1,150.3 483.4,150.3 483.6,150.4 483.8,150.4 484.1,150.4 484.3,150.4 484.6,150.4 484.8,150.4 485.1,150.5 485.3,150.5 485.6,150.6 485.8,150.7 486.1,150.8 486.3,150.9 486.6,151.1 486.8,151.3 487.1,151.5 487.3,151.8 487.6,152.1 487.8,152.4 488.1,152.8 488.3,153.3 488.5,153.9 488.8,154.4 489.0,155.1 489.3,155.8 489.5,156.6 489.8,157.4 490.0,158.3 490.3,159.3 490.5,160.4 490.8,161.5 491.0,162.8 491.3,164.1 491.5,165.5 491.8,167.0 492.0,168.7 492.3,170.4 492.5,172.3 492.8,174.4 493.0,177.1 493.2,180.3 493.5,183.4 493.7,186.6 494.0,189.0 494.2,188.8 494.5,186.2 494.7,183.4 495.0,181.0 495.2,178.6 495.5,176.5 495.7,174.7 496.0,173.3 496.2,172.1 496.5,171.0 496.7,170.0 497.0,169.1 497.2,168.3 497.4,167.5 497.7,166.6 497.9,165.6 498.2,164.6 498.4,163.6 498.7,162.6 498.9,161.6 499.2,160.4 499.4,159.4 499.7,158.5 499.9,157.8 500.2,157.3 500.4,156.8 500.7,156.4 500.9,156.0 501.2,155.4 501.4,154.8 501.7,154.0 501.9,153.1 502.1,152.2 502.4,151.6 502.6,151.1 502.9,150.7 503.1,150.4 503.4,150.2 503.6,150.1 503.9,150.0 504.1,149.9 504.4,149.8 504.6,149.7 504.9,149.7 505.1,149.7 505.4,149.7 505.6,149.7 505.9,149.7 506.1,149.7 506.3,149.7 506.6,149.7 506.8,149.7 507.1,149.7 507.3,149.7 507.6,149.7 507.8,149.7 508.1,149.7 508.3,149.7 508.6,149.7 508.8,149.7 509.1,149.7 509.3,149.7 509.6,149.7 509.8,149.7 510.1,149.7 510.3,149.7 510.6,149.7 510.8,149.7 511.0,149.7 511.3,149.7 511.5,149.7 511.8,149.7 512.0,149.7 512.3,149.7 512.5,149.7 512.8,149.7 513.0,149.7 513.3,149.7 513.5,149.7 513.8,149.7 514.0,149.7 514.3,149.7 514.5,149.7 514.8,149.7 515.0,149.7 515.2,149.7 515.5,149.7 515.7,149.7 516.0,149.7 516.2,149.7 516.5,149.7 516.7,149.7 517.0,149.7 517.2,149.8 517.5,149.8 517.7,149.8 518.0,149.9 518.2,149.9 518.5,149.9 518.7,150.0 519.0,150.0 519.2,150.0 519.5,150.1 519.7,150.1 519.9,150.2 520.2,150.2 520.4,150.3 520.7,150.3 520.9,150.4 521.2,150.5 521.4,150.6 521.7,150.8 521.9,150.9 522.2,151.0 522.4,151.2 522.7,151.3 522.9,151.5 523.2,151.7 523.4,151.9 523.7,152.1 523.9,152.3 524.2,152.6 524.4,153.0 524.6,153.3 524.9,153.7 525.1,154.1 525.4,154.6 525.6,155.1 525.9,155.7 526.1,156.4 526.4,157.0 526.6,157.8 526.9,158.5 527.1,159.4 527.4,160.2 527.6,161.1 527.9,161.9 528.1,162.8 528.4,163.7 528.6,164.7 528.8,165.9 529.1,167.1 529.3,168.3 529.6,169.5 529.8,170.8 530.1,171.6 530.3,171.6 530.6,170.7 530.8,169.4 531.1,168.2 531.3,167.2 531.6,166.1 531.8,165.1 532.1,164.1 532.3,163.3 532.6,162.6 532.8,161.9 533.1,161.3 533.3,160.8 533.5,160.3 533.8,159.8 534.0,159.4 534.3,159.0 534.5,158.5 534.8,158.1 535.0,157.8 535.3,157.4 535.5,157.0 535.8,156.7 536.0,156.3 536.3,156.0 536.5,155.6 536.8,155.3 537.0,155.0 537.3,154.6" fill="none" stroke="#262626" stroke-width="0.85"/>
<polyline points="443.3,164.6 443.5,163.7 443.8,162.9 444.0,162.0 444.3,161.0 444.5,160.0 444.8,159.0 445.0,158.0 445.3,157.1 445.5,156.3 445.8,155.5 446.0,154.8 446.3,154.1 446.5,153.5 446.8,153.0 447.0,152.5 447.3,152.2 447.5,151.9 447.8,151.7 448.0,151.6 448.2,151.6 448.5,151.6 448.7,152.0 449.0,152.5 449.2,153.2 449.5,154.3 449.7,155.4 450.0,156.8 450.2,158.3 450.5,160.0 450.7,161.7 451.0,163.4 451.2,165.3 451.5,167.3 451.7,169.3 452.0,171.4 452.2,173.5 452.4,175.6 452.7,177.3 452.9,178.7 453.2,179.6 453.4,179.5 453.7,177.8 453.9,175.6 454.2,172.6 454.4,169.1 454.7,166.0 454.9,163.5 455.2,161.3 455.4,159.6 455.7,158.4 455.9,157.4 456.2,157.0 456.4,157.6 456.7,158.7 456.9,160.0 457.1,161.9 457.4,163.9 457.6,166.3 457.9,169.1 458.1,172.1 458.4,175.4 458.6,179.0 458.9,182.7 459.1,186.4 459.4,190.2 459.6,194.2 459.9,198.5 460.1,203.1 460.4,207.9 460.6,212.5 460.9,217.0 461.1,221.4 461.3,224.7 461.6,227.5 461.8,228.3 462.1,219.5 462.3,208.9 462.6,196.3 462.8,187.6 463.1,181.6 463.3,177.7 463.6,175.6 463.8,174.0 464.1,173.5 464.3,173.8 464.6,174.6 464.8,175.5 465.1,176.2 465.3,176.1 465.6,174.8 465.8,173.0 466.0,171.4 466.3,169.9 466.5,168.6 466.8,168.0 467.0,168.3 467.3,169.0 467.5,169.7 467.8,170.0 468.0,169.5 468.3,168.2 468.5,166.7 468.8,165.3 469.0,164.1 469.3,162.9 469.5,161.7 469.8,160.6 470.0,159.5 470.3,158.5 470.5,157.5 470.7,156.7 471.0,156.1 471.2,155.7 471.5,155.1 471.7,154.1 472.0,153.0 472.2,152.1 472.5,151.2 472.7,150.7 473.0,150.5 473.2,150.4 473.5,150.3 473.7,150.3 474.0,150.3 474.2,150.2 474.5,150.2 474.7,150.2 474.9,150.2 475.2,150.2 475.4,150.2 475.7,150.2 475.9,150.2 476.2,150.2 476.4,150.2 476.7,150.2 476.9,150.2 477.2,150.2 477.4,150.2 477.7,150.2 477.9,150.2 478.2,150.2 478.4,150.2 478.7,150.2 478.9,150.2 479.2,150.2 479.4,150.2 479.6,150.2 479.9,150.2 480.1,150.2 480.4,150.2 480.6,150.2 480.9,150.3 481.1,150.3 481.4,150.3 481.6,150.3 481.9,150.3 482.1,150.3 482.4,150.3 482.6,150.3 482.9,150.3 483.1,150.3 483.4,150.3 483.6,150.4 483.8,150.4 484.1,150.4 484.3,150.4 484.6,150.4 484.8,150.4 485.1,150.5 485.3,150.5 485.6,150.6 485.8,150.7 486.1,150.8 486.3,150.9 486.6,151.1 486.8,151.3 487.1,151.5 487.3,151.8 487.6,152.1 487.8,152.4 488.1,152.8 488.3,153.3 488.5,153.9 488.8,154.4 489.0,155.1 489.3,155.8 489.5,156.6 489.8,157.4 490.0,158.3 490.3,159.3 490.5,160.4 490.8,161.5 491.0,162.8 491.3,164.1 491.5,165.5 491.8,167.0 492.0,168.7 492.3,170.4 492.5,172.3 492.8,174.4 493.0,177.1 493.2,180.6 493.5,184.3 493.7,188.5 494.0,192.1 494.2,191.8 494.5,188.2 494.7,184.3 495.0,181.3 495.2,178.7 495.5,176.5 495.7,174.7 496.0,173.3 496.2,172.1 496.5,171.0 496.7,170.0 497.0,169.1 497.2,168.3 497.4,167.5 497.7,166.6 497.9,165.6 498.2,164.6 498.4,163.6 498.7,162.6 498.9,161.6 499.2,160.4 499.4,159.4 499.7,158.5 499.9,157.8 500.2,157.3 500.4,156.8 500.7,156.4 500.9,156.0 501.2,155.4 501.4,154.8 501.7,154.0 501.9,153.1 502.1,152.2 502.4,151.6 502.6,151.9 503.1,151.9 503.6,150.5 504.1,149.0 504.6,149.8 505.1,149.2 505.6,149.1 506.1,149.6 506.6,152.5 507.1,151.4 507.6,147.5 508.1,150.4 508.6,148.7 509.1,152.2 509.6,151.1 510.1,146.7 510.6,148.5 511.0,145.3 511.5,148.0 512.0,148.9 512.5,149.4 513.0,149.2 513.5,146.9 514.0,144.3 514.5,148.3 515.0,145.1 515.5,153.1 516.0,153.8 516.5,153.9 517.0,145.5 517.5,153.2 518.0,147.0 518.5,144.1 519.0,152.7 519.5,150.5 519.9,142.6 520.4,153.9 520.9,149.2 521.4,153.8 521.9,147.0 522.4,149.5 522.9,157.1 523.4,149.3 523.9,157.3 524.4,148.1 524.9,158.1 525.4,159.9 525.9,157.9 526.4,157.1 526.9,153.3 527.4,164.0 527.9,160.0 528.4,168.3 528.8,162.4 529.3,173.1 529.8,168.0 530.3,176.3 530.8,174.3 531.3,166.9 531.8,163.7 532.3,165.0 532.8,160.9 533.3,164.2 533.8,163.9 534.3,160.2 534.8,154.6 535.3,156.6 535.8,157.6 536.3,157.9 536.8,152.0 537.3,157.2" fill="none" stroke="#ff2448" stroke-width="1.0" stroke-dasharray="1.5 1.5"/>
<polyline points="443.3,164.6 443.5,163.7 443.8,162.6 444.0,162.0 444.3,161.0 444.5,159.9 444.8,159.2 445.0,158.0 445.3,157.0 445.5,156.1 445.8,155.7 446.0,154.9 446.3,154.4 446.5,153.3 446.8,152.8 447.0,152.8 447.3,151.9 447.5,151.6 447.8,151.6 448.0,151.5 448.2,151.8 448.5,151.9 448.7,152.0 449.0,152.8 449.2,153.4 449.5,154.4 449.7,155.7 450.0,156.8 450.2,158.4 450.5,159.8 450.7,161.6 451.0,163.3 451.2,165.3 451.5,167.2 451.7,169.4 452.0,171.5 452.2,173.2 452.4,175.3 452.7,177.1 452.9,178.5 453.2,179.8 453.4,179.7 453.7,178.0 453.9,175.8 454.2,172.5 454.4,169.1 454.7,165.7 454.9,163.5 455.2,161.0 455.4,159.4 455.7,158.7 455.9,157.6 456.2,156.8 456.4,157.6 456.7,158.4 456.9,160.1 457.1,162.1 457.4,163.9 457.6,166.1 457.9,169.2 458.1,172.3 458.4,175.5 458.6,178.7 458.9,182.5 459.1,186.6 459.4,190.4 459.6,194.5 459.9,198.7 460.1,202.9 460.4,208.2 460.6,212.5 460.9,217.0 461.1,221.6 461.3,224.6 461.6,227.8 461.8,228.2 462.1,219.7 462.3,208.9 462.6,196.5 462.8,187.7 463.1,181.3 463.3,177.5 463.6,175.7 463.8,173.8 464.1,173.6 464.3,173.9 464.6,174.4 464.8,175.4 465.1,176.4 465.3,175.7 465.6,175.0 465.8,173.1 466.0,171.2 466.3,170.1 466.5,168.7 466.8,168.2 467.0,168.6 467.3,168.9 467.5,169.9 467.8,170.0 468.0,169.6 468.3,168.3 468.5,166.4 468.8,165.3 469.0,164.0 469.3,162.7 469.5,161.9 469.8,160.9 470.0,159.3 470.3,158.3 470.5,157.7 470.7,156.9 471.0,156.0 471.2,155.4 471.5,155.3 471.7,153.8 472.0,152.8 472.2,152.0 472.5,151.3 472.7,151.0 473.0,150.8 473.2,150.1 473.5,150.5 473.7,150.1 474.0,150.4 474.2,150.0 474.5,150.2 474.7,150.3 474.9,150.4 475.2,150.1 475.4,150.5 475.7,150.4 475.9,150.1 476.2,149.9 476.4,150.1 476.7,150.3 476.9,149.9 477.2,150.3 477.4,150.5 477.7,150.3 477.9,150.2 478.2,150.4 478.4,150.4 478.7,150.3 478.9,150.1 479.2,150.4 479.4,150.3 479.6,150.0 479.9,149.9 480.1,150.1 480.4,150.1 480.6,150.2 480.9,150.5 481.1,150.6 481.4,150.6 481.6,150.0 481.9,150.2 482.1,150.0 482.4,150.6 482.6,150.2 482.9,150.3 483.1,150.2 483.4,150.5 483.6,150.0 483.8,150.6 484.1,150.3 484.3,150.2 484.6,150.2 484.8,150.3 485.1,150.4 485.3,150.4 485.6,150.4 485.8,150.8 486.1,150.7 486.3,150.7 486.6,150.8 486.8,151.3 487.1,151.3 487.3,151.5 487.6,152.0 487.8,152.3 488.1,152.9 488.3,153.3 488.5,153.8 488.8,154.7 489.0,155.0 489.3,155.5 489.5,156.3 489.8,157.3 490.0,158.4 490.3,159.2 490.5,160.3 490.8,161.6 491.0,162.6 491.3,164.3 491.5,165.3 491.8,167.3 492.0,168.6 492.3,170.4 492.5,172.4 492.8,174.3 493.0,177.1 493.2,180.3 493.5,183.1 493.7,186.7 494.0,189.4 494.2,188.9 494.5,186.1 494.7,183.6 495.0,181.2 495.2,178.4 495.5,176.4 495.7,174.8 496.0,173.1 496.2,172.2 496.5,170.9 496.7,170.2 497.0,169.2 497.2,168.1 497.4,167.2 497.7,166.3 497.9,165.7 498.2,164.6 498.4,163.7 498.7,162.8 498.9,161.6 499.2,160.2 499.4,159.2 499.7,158.4 499.9,157.5 500.2,157.4 500.4,157.0 500.7,156.4 500.9,156.1 501.2,155.6 501.4,154.9 501.7,153.9 501.9,153.1 502.1,152.3 502.4,151.3 502.6,150.8 502.9,150.7 503.1,150.7 503.4,150.5 503.6,149.9 503.9,150.3 504.1,149.7 504.4,149.7 504.6,149.8 504.9,149.5 505.1,150.0 505.4,149.9 505.6,149.7 505.9,150.0 506.1,149.4 506.3,149.8 506.6,149.9 506.8,149.9 507.1,149.6 507.3,149.7 507.6,149.6 507.8,149.6 508.1,149.5 508.3,149.4 508.6,149.5 508.8,149.8 509.1,149.7 509.3,149.9 509.6,150.0 509.8,149.7 510.1,149.5 510.3,149.9 510.6,149.8 510.8,149.7 511.0,149.5 511.3,149.6 511.5,149.6 511.8,149.5 512.0,149.7 512.3,149.5 512.5,149.4 512.8,149.9 513.0,149.4 513.3,149.5 513.5,149.9 513.8,149.7 514.0,149.6 514.3,149.4 514.5,149.7 514.8,149.6 515.0,149.4 515.2,149.5 515.5,149.4 515.7,149.7 516.0,149.6 516.2,149.9 516.5,149.6 516.7,149.5 517.0,149.7 517.2,149.6 517.5,150.0 517.7,149.6 518.0,149.5 518.2,149.6 518.5,149.9 518.7,149.8 519.0,150.1 519.2,149.8 519.5,149.9 519.7,150.2 519.9,150.4 520.2,150.3 520.4,150.2 520.7,150.2 520.9,150.4 521.2,150.8 521.4,150.4 521.7,151.0 521.9,150.7 522.2,151.3 522.4,151.3 522.7,151.2 522.9,151.7 523.2,151.9 523.4,151.9 523.7,152.0 523.9,152.1 524.2,152.5 524.4,152.7 524.6,153.3 524.9,153.4 525.1,154.4 525.4,154.8 525.6,155.1 525.9,155.9 526.1,156.2 526.4,156.9 526.6,157.7 526.9,158.3 527.1,159.3 527.4,160.3 527.6,161.1 527.9,161.7 528.1,162.5 528.4,163.9 528.6,164.5 528.8,165.6 529.1,167.1 529.3,168.3 529.6,169.7 529.8,170.8 530.1,171.6 530.3,171.5 530.6,171.0 530.8,169.2 531.1,168.2 531.3,167.2 531.6,165.9 531.8,165.0 532.1,164.1 532.3,163.2 532.6,162.8 532.8,161.9 533.1,161.4 533.3,160.5 533.5,160.0 533.8,160.0 534.0,159.4 534.3,159.2 534.5,158.6 534.8,157.9 535.0,157.5 535.3,157.4 535.5,157.1 535.8,156.9 536.0,156.2 536.3,155.7 536.5,155.9 536.8,155.1 537.0,155.3 537.3,154.8" fill="none" stroke="#00bd6e" stroke-width="1.0" stroke-dasharray="3.2 1.6"/>
<path d="M443.30 135.70H542.20V233.60" stroke="#6e6e6e" stroke-width="0.9" fill="none"/>
<path d="M443.30 135.70V233.60H542.20M443.30 231.60V235.60M468.03 231.60V235.60M492.75 231.60V235.60M517.48 231.60V235.60M542.20 231.60V235.60M448.25 233.60V235.00M453.19 233.60V235.00M458.13 233.60V235.00M463.08 233.60V235.00M472.97 233.60V235.00M477.92 233.60V235.00M482.86 233.60V235.00M487.81 233.60V235.00M497.70 233.60V235.00M502.64 233.60V235.00M507.59 233.60V235.00M512.53 233.60V235.00M522.42 233.60V235.00M527.37 233.60V235.00M532.31 233.60V235.00M537.25 233.60V235.00M440.80 233.60H445.30M440.80 209.12H445.30M440.80 184.65H445.30M440.80 160.17H445.30M440.80 135.70H445.30M441.90 228.70H443.30M441.90 223.81H443.30M441.90 218.91H443.30M441.90 214.02H443.30M441.90 204.23H443.30M441.90 199.33H443.30M441.90 194.44H443.30M441.90 189.54H443.30M441.90 179.75H443.30M441.90 174.86H443.30M441.90 169.96H443.30M441.90 165.07H443.30M441.90 155.28H443.30M441.90 150.38H443.30M441.90 145.49H443.30M441.90 140.59H443.30" stroke="#3c3c3c" stroke-width="0.8" fill="none"/>
<text x="436.90" y="236.24" font-size="7.1" fill="#262626" stroke="#262626" stroke-width="0.22" text-anchor="end" textLength="12.26" lengthAdjust="spacingAndGlyphs">-0.3</text>
<text x="436.90" y="211.77" font-size="7.1" fill="#262626" stroke="#262626" stroke-width="0.22" text-anchor="end" textLength="12.26" lengthAdjust="spacingAndGlyphs">-0.2</text>
<text x="436.90" y="187.29" font-size="7.1" fill="#262626" stroke="#262626" stroke-width="0.22" text-anchor="end" textLength="12.26" lengthAdjust="spacingAndGlyphs">-0.1</text>
<text x="436.90" y="162.82" font-size="7.1" fill="#262626" stroke="#262626" stroke-width="0.22" text-anchor="end" textLength="9.87" lengthAdjust="spacingAndGlyphs">0.0</text>
<text x="436.90" y="138.34" font-size="7.1" fill="#262626" stroke="#262626" stroke-width="0.22" text-anchor="end" textLength="9.87" lengthAdjust="spacingAndGlyphs">0.1</text>
<text x="443.30" y="246.34" font-size="7.1" fill="#262626" stroke="#262626" stroke-width="0.22" text-anchor="middle" textLength="12.47" lengthAdjust="spacingAndGlyphs">450</text>
<text x="468.03" y="246.34" font-size="7.1" fill="#262626" stroke="#262626" stroke-width="0.22" text-anchor="middle" textLength="12.47" lengthAdjust="spacingAndGlyphs">550</text>
<text x="492.75" y="246.34" font-size="7.1" fill="#262626" stroke="#262626" stroke-width="0.22" text-anchor="middle" textLength="12.47" lengthAdjust="spacingAndGlyphs">650</text>
<text x="517.48" y="246.34" font-size="7.1" fill="#262626" stroke="#262626" stroke-width="0.22" text-anchor="middle" textLength="12.47" lengthAdjust="spacingAndGlyphs">750</text>
<text x="542.20" y="246.34" font-size="7.1" fill="#262626" stroke="#262626" stroke-width="0.22" text-anchor="middle" textLength="12.47" lengthAdjust="spacingAndGlyphs">850</text>
<text x="492.75" y="252.05" font-size="7.1" fill="#262626" stroke="#262626" stroke-width="0.22" text-anchor="middle" textLength="19.50" lengthAdjust="spacingAndGlyphs">λ (nm)</text>
<text x="0" y="0" font-size="7.1" fill="#262626" stroke="#262626" stroke-width="0.22" text-anchor="middle" transform="translate(423.84,183.70) rotate(-90)">R'</text>
<text x="446.90" y="227.15" font-size="7.1" fill="#262626" stroke="#262626" stroke-width="0.22" text-anchor="start" textLength="7.92" lengthAdjust="spacingAndGlyphs">(h)</text>
<rect x="476.30" y="209.30" width="65.30" height="22.40" fill="#fff"/>
<path d="M477.80 213.30H501.40" stroke="#6c6c6c" stroke-width="1.2" fill="none"/>
<text x="503.90" y="216.07" font-size="6.3" fill="#383838" stroke="#383838" stroke-width="0.18" text-anchor="start" textLength="29.52" lengthAdjust="spacingAndGlyphs">CP<tspan dy="-0.7">_</tspan><tspan dy="0.7">EO</tspan><tspan dy="-0.7">_</tspan><tspan dy="0.7">Ref</tspan></text>
<path d="M477.80 220.90H501.40" stroke="#ff2448" stroke-width="1.05" stroke-dasharray="1.4 1.65" fill="none"/>
<text x="503.90" y="223.67" font-size="6.3" fill="#ff2020" stroke="#ff2020" stroke-width="0.18" text-anchor="start" textLength="27.38" lengthAdjust="spacingAndGlyphs">CP<tspan dy="-0.7">_</tspan><tspan dy="0.7">EO</tspan><tspan dy="-0.7">_</tspan><tspan dy="0.7">Xe</tspan></text>
<path d="M477.80 228.20H501.40" stroke="#00bd6e" stroke-width="1.15" stroke-dasharray="3.3 1.5" fill="none"/>
<text x="503.90" y="230.97" font-size="6.3" fill="#00b860" stroke="#00b860" stroke-width="0.18" text-anchor="start" textLength="27.99" lengthAdjust="spacingAndGlyphs">CP<tspan dy="-0.7">_</tspan><tspan dy="0.7">EO</tspan><tspan dy="-0.7">_</tspan><tspan dy="0.7">TH</tspan></text>
</svg>
</body></html>
